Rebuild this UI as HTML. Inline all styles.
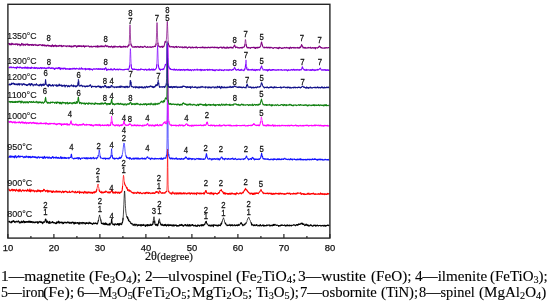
<!DOCTYPE html>
<html><head><meta charset="utf-8"><style>
html,body{margin:0;padding:0;background:#fff;}
#w{position:relative;width:550px;height:303px;overflow:hidden;background:#fff;}
.lg{position:absolute;font-family:"Liberation Serif","DejaVu Serif",serif;font-size:13.8px;color:#000;-webkit-text-stroke:0.12px #000;white-space:pre;line-height:1;transform-origin:0 0;}
.lg sub{font-size:0.68em;vertical-align:-0.23em;line-height:0;}
</style></head><body><div id="w">
<svg width="550" height="265" viewBox="0 0 550 265" style="position:absolute;left:0;top:0"><path d="M8.60,220.96 L8.85,221.74 L9.10,222.11 L9.35,221.91 L9.60,221.19 L9.85,222.21 L10.10,222.15 L10.35,222.14 L10.60,222.19 L10.85,222.48 L11.10,222.96 L11.35,221.47 L11.60,221.76 L11.85,222.57 L12.10,221.05 L12.35,221.71 L12.60,221.31 L12.85,221.65 L13.10,221.82 L13.35,220.56 L13.60,220.90 L13.85,220.82 L14.10,221.43 L14.35,221.41 L14.60,222.48 L14.85,221.61 L15.10,222.62 L15.35,221.64 L15.60,221.86 L15.85,221.78 L16.10,221.67 L16.35,221.14 L16.60,221.89 L16.85,222.02 L17.10,221.97 L17.35,222.08 L17.60,221.33 L17.85,221.51 L18.10,221.27 L18.35,220.81 L18.60,221.83 L18.85,221.46 L19.10,221.87 L19.35,223.08 L19.60,222.11 L19.85,221.97 L20.10,222.52 L20.35,222.73 L20.60,222.90 L20.85,221.80 L21.10,222.80 L21.35,221.82 L21.60,221.12 L21.85,221.33 L22.10,222.47 L22.35,222.46 L22.60,222.58 L22.85,221.42 L23.10,221.54 L23.35,221.05 L23.60,220.70 L23.85,221.86 L24.10,222.86 L24.35,222.58 L24.60,221.63 L24.85,222.47 L25.10,221.70 L25.35,222.11 L25.60,222.38 L25.85,221.70 L26.10,221.46 L26.35,222.23 L26.60,221.85 L26.85,221.67 L27.10,222.26 L27.35,221.91 L27.60,222.10 L27.85,221.51 L28.10,222.25 L28.35,221.48 L28.60,221.57 L28.85,221.00 L29.10,222.52 L29.35,222.16 L29.60,222.15 L29.85,221.10 L30.10,221.95 L30.35,221.89 L30.60,222.55 L30.85,221.26 L31.10,222.19 L31.35,222.57 L31.60,221.46 L31.85,221.95 L32.10,221.46 L32.35,222.03 L32.60,222.34 L32.85,222.83 L33.10,222.21 L33.35,221.74 L33.60,222.35 L33.85,222.20 L34.10,222.65 L34.35,221.93 L34.60,222.81 L34.85,222.31 L35.10,222.32 L35.35,222.65 L35.60,221.86 L35.85,221.84 L36.10,222.37 L36.35,222.12 L36.60,222.13 L36.85,221.90 L37.10,222.01 L37.35,222.74 L37.60,223.20 L37.85,221.64 L38.10,222.95 L38.35,222.76 L38.60,222.90 L38.85,222.31 L39.10,221.77 L39.35,221.96 L39.60,221.55 L39.85,221.20 L40.10,222.05 L40.35,222.32 L40.60,222.08 L40.85,222.18 L41.10,221.44 L41.35,222.67 L41.60,222.20 L41.85,222.27 L42.10,222.57 L42.35,222.13 L42.60,223.68 L42.85,223.15 L43.10,222.97 L43.35,222.31 L43.60,221.83 L43.85,222.32 L44.10,221.76 L44.35,222.12 L44.60,222.07 L44.85,222.11 L45.10,220.79 L45.35,219.31 L45.60,219.08 L45.85,219.11 L46.10,220.13 L46.35,221.20 L46.60,222.65 L46.85,222.15 L47.10,221.72 L47.35,221.03 L47.60,221.57 L47.85,222.41 L48.10,222.75 L48.35,223.21 L48.60,222.09 L48.85,222.65 L49.10,222.93 L49.35,221.36 L49.60,223.39 L49.85,221.83 L50.10,221.75 L50.35,222.85 L50.60,222.76 L50.85,223.13 L51.10,222.86 L51.35,222.61 L51.60,222.32 L51.85,222.03 L52.10,222.57 L52.35,221.42 L52.60,222.26 L52.85,222.78 L53.10,221.94 L53.35,222.90 L53.60,223.06 L53.85,222.56 L54.10,222.43 L54.35,222.81 L54.60,222.85 L54.85,222.54 L55.10,223.69 L55.35,223.53 L55.60,223.25 L55.85,223.42 L56.10,223.22 L56.35,222.03 L56.60,223.71 L56.85,221.93 L57.10,222.47 L57.35,222.00 L57.60,222.84 L57.85,222.85 L58.10,222.52 L58.35,221.08 L58.60,222.82 L58.85,222.62 L59.10,221.58 L59.35,223.24 L59.60,222.55 L59.85,222.20 L60.10,222.74 L60.35,222.37 L60.60,222.76 L60.85,222.38 L61.10,222.03 L61.35,222.00 L61.60,223.00 L61.85,222.70 L62.10,222.21 L62.35,222.23 L62.60,222.29 L62.85,223.79 L63.10,223.03 L63.35,222.90 L63.60,223.47 L63.85,222.37 L64.10,222.03 L64.35,222.37 L64.60,222.76 L64.85,222.60 L65.10,222.54 L65.35,222.76 L65.60,222.43 L65.85,222.17 L66.10,223.05 L66.35,222.63 L66.60,222.61 L66.85,223.04 L67.10,222.95 L67.35,222.15 L67.60,222.21 L67.85,221.90 L68.10,222.07 L68.35,222.84 L68.60,222.49 L68.85,222.18 L69.10,222.12 L69.35,223.37 L69.60,222.70 L69.85,222.92 L70.10,222.74 L70.35,222.35 L70.60,223.02 L70.85,223.03 L71.10,223.60 L71.35,223.18 L71.60,222.23 L71.85,222.71 L72.10,222.80 L72.35,222.75 L72.60,222.11 L72.85,221.91 L73.10,222.74 L73.35,223.00 L73.60,222.42 L73.85,223.87 L74.10,223.36 L74.35,222.85 L74.60,223.89 L74.85,222.21 L75.10,222.24 L75.35,222.40 L75.60,223.47 L75.85,222.70 L76.10,223.34 L76.35,223.13 L76.60,222.71 L76.85,222.95 L77.10,222.44 L77.35,223.31 L77.60,222.50 L77.85,222.54 L78.10,223.31 L78.35,222.96 L78.60,224.10 L78.85,223.80 L79.10,222.29 L79.35,223.03 L79.60,223.15 L79.85,224.17 L80.10,222.90 L80.35,222.72 L80.60,222.94 L80.85,222.93 L81.10,222.64 L81.35,223.16 L81.60,222.81 L81.85,222.75 L82.10,223.90 L82.35,223.26 L82.60,222.52 L82.85,222.34 L83.10,222.82 L83.35,222.41 L83.60,222.49 L83.85,223.67 L84.10,223.15 L84.35,222.90 L84.60,223.23 L84.85,222.93 L85.10,223.34 L85.35,224.17 L85.60,223.29 L85.85,222.84 L86.10,222.65 L86.35,223.49 L86.60,223.23 L86.85,223.35 L87.10,222.42 L87.35,222.97 L87.60,223.33 L87.85,223.58 L88.10,223.44 L88.35,223.25 L88.60,223.94 L88.85,223.24 L89.10,222.14 L89.35,222.51 L89.60,223.22 L89.85,223.35 L90.10,222.57 L90.35,222.65 L90.60,223.48 L90.85,223.55 L91.10,223.63 L91.35,223.79 L91.60,223.43 L91.85,223.09 L92.10,224.10 L92.35,224.17 L92.60,224.44 L92.85,223.83 L93.10,223.60 L93.35,223.65 L93.60,223.57 L93.85,222.58 L94.10,223.31 L94.35,223.37 L94.60,223.73 L94.85,223.70 L95.10,223.36 L95.35,223.19 L95.60,222.82 L95.85,223.53 L96.10,223.23 L96.35,223.30 L96.60,224.00 L96.85,223.93 L97.10,223.26 L97.35,223.99 L97.60,223.33 L97.85,222.47 L98.10,221.32 L98.35,220.48 L98.60,220.03 M100.60,219.32 L100.85,220.36 L101.10,221.39 L101.35,223.53 L101.60,223.18 L101.85,223.25 L102.10,223.90 L102.35,223.89 L102.60,223.29 L102.85,223.05 L103.10,222.78 L103.35,224.18 L103.60,223.87 L103.85,224.37 L104.10,223.94 L104.35,223.25 L104.60,223.71 L104.85,224.73 L105.10,223.88 L105.35,224.16 L105.60,222.88 L105.85,223.64 L106.10,224.49 L106.35,223.34 L106.60,224.60 L106.85,224.00 L107.10,223.99 L107.35,224.93 L107.60,224.18 L107.85,224.81 L108.10,224.22 L108.35,224.57 L108.60,224.98 L108.85,224.97 L109.10,224.17 L109.35,223.30 L109.60,225.08 L109.85,224.26 L110.10,224.89 L110.35,223.90 L110.60,223.84 L110.85,223.70 L111.10,222.72 L111.35,221.64 L111.60,218.73 L111.85,220.38 L112.10,222.74 L112.35,223.93 L112.60,224.17 L112.85,224.44 L113.10,224.84 L113.35,224.13 L113.60,224.09 L113.85,224.38 L114.10,224.69 L114.35,223.88 L114.60,225.29 L114.85,224.35 L115.10,224.08 L115.35,224.16 L115.60,223.80 L115.85,223.87 L116.10,224.23 L116.35,224.68 L116.60,224.79 L116.85,224.23 L117.10,224.24 L117.35,224.46 L117.60,223.41 L117.85,224.19 L118.10,224.94 L118.35,225.18 L118.60,224.17 L118.85,223.48 L119.10,223.87 L119.35,224.87 L119.60,225.19 L119.85,223.99 L120.10,223.22 L120.35,223.93 L120.60,224.27 L120.85,224.22 L121.10,223.96 L121.35,224.66 L121.60,223.51 L121.85,224.27 L122.10,222.26 L122.35,222.76 L122.60,221.97 L122.85,220.51 L123.10,217.80 M126.85,215.97 L127.10,217.35 L127.35,217.26 L127.60,218.53 L127.85,217.48 L128.10,218.91 L128.35,220.26 L128.60,220.69 L128.85,219.86 L129.10,221.08 L129.35,221.47 L129.60,221.68 L129.85,221.55 L130.10,221.62 L130.35,222.41 L130.60,223.02 L130.85,223.53 L131.10,223.29 L131.35,223.22 L131.60,224.04 L131.85,223.31 L132.10,223.65 L132.35,223.87 L132.60,224.29 L132.85,224.60 L133.10,225.47 L133.35,224.98 L133.60,225.01 L133.85,224.36 L134.10,224.01 L134.35,224.34 L134.60,224.50 L134.85,225.75 L135.10,225.60 L135.35,225.23 L135.60,224.67 L135.85,224.09 L136.10,224.49 L136.35,224.41 L136.60,224.41 L136.85,225.08 L137.10,225.85 L137.35,225.95 L137.60,224.89 L137.85,224.92 L138.10,225.00 L138.35,224.66 L138.60,225.55 L138.85,225.26 L139.10,225.04 L139.35,225.18 L139.60,224.74 L139.85,224.89 L140.10,225.63 L140.35,225.54 L140.60,225.03 L140.85,224.45 L141.10,226.16 L141.35,225.44 L141.60,225.46 L141.85,224.64 L142.10,225.30 L142.35,225.39 L142.60,225.32 L142.85,225.55 L143.10,224.36 L143.35,225.54 L143.60,224.94 L143.85,224.82 L144.10,225.08 L144.35,225.32 L144.60,225.20 L144.85,224.97 L145.10,225.55 L145.35,226.58 L145.60,225.60 L145.85,225.06 L146.10,225.75 L146.35,225.59 L146.60,224.88 L146.85,225.61 L147.10,224.57 L147.35,225.41 L147.60,226.00 L147.85,224.64 L148.10,224.79 L148.35,224.80 L148.60,225.69 L148.85,224.86 L149.10,225.06 L149.35,225.37 L149.60,225.65 L149.85,225.44 L150.10,224.55 L150.35,224.09 L150.60,225.39 L150.85,225.14 L151.10,225.26 L151.35,224.70 L151.60,224.95 L151.85,225.43 L152.10,224.13 L152.35,224.37 L152.60,223.74 L152.85,224.52 L153.10,223.14 L153.35,220.85 M154.60,220.63 L154.85,223.15 L155.10,224.54 L155.35,224.19 L155.60,225.05 L155.85,225.40 L156.10,224.17 L156.35,224.35 L156.60,224.22 L156.85,225.11 L157.10,225.66 L157.35,224.20 L157.60,224.76 L157.85,225.73 L158.10,224.01 L158.35,223.69 L158.60,222.51 L158.85,220.50 M159.85,221.95 L160.10,222.89 L160.35,223.40 L160.60,224.10 L160.85,224.81 L161.10,224.97 L161.35,224.33 L161.60,225.26 L161.85,224.40 L162.10,224.11 L162.35,224.85 L162.60,225.31 L162.85,225.55 L163.10,224.64 L163.35,224.98 L163.60,225.64 L163.85,225.29 L164.10,225.77 L164.35,225.49 L164.60,224.49 L164.85,224.80 L165.10,225.45 L165.35,224.18 L165.60,225.48 L165.85,225.16 L166.10,224.95 L166.35,226.22 L166.60,224.93 L166.85,224.88 L167.10,225.06 L167.35,225.12 L167.60,225.53 L167.85,225.35 L168.10,224.23 L168.35,225.75 L168.60,225.92 L168.85,225.82 L169.10,225.48 L169.35,224.64 L169.60,225.53 L169.85,225.06 L170.10,224.76 L170.35,225.29 L170.60,225.55 L170.85,224.80 L171.10,224.77 L171.35,225.58 L171.60,225.79 L171.85,225.12 L172.10,225.37 L172.35,225.40 L172.60,225.96 L172.85,225.42 L173.10,224.43 L173.35,224.89 L173.60,225.93 L173.85,226.11 L174.10,226.01 L174.35,225.25 L174.60,224.94 L174.85,225.60 L175.10,225.30 L175.35,225.16 L175.60,225.01 L175.85,225.40 L176.10,224.91 L176.35,225.21 L176.60,226.23 L176.85,225.49 L177.10,225.93 L177.35,225.54 L177.60,225.56 L177.85,225.58 L178.10,226.42 L178.35,225.67 L178.60,225.51 L178.85,225.42 L179.10,225.20 L179.35,225.84 L179.60,224.96 L179.85,224.61 L180.10,225.42 L180.35,225.52 L180.60,224.85 L180.85,225.42 L181.10,225.28 L181.35,224.49 L181.60,224.30 L181.85,225.41 L182.10,225.44 L182.35,225.68 L182.60,224.86 L182.85,225.85 L183.10,225.52 L183.35,225.71 L183.60,226.31 L183.85,225.47 L184.10,225.27 L184.35,225.09 L184.60,224.68 L184.85,225.18 L185.10,224.64 L185.35,224.70 L185.60,224.53 L185.85,225.64 L186.10,225.46 L186.35,225.92 L186.60,225.18 L186.85,225.14 L187.10,224.99 L187.35,225.02 L187.60,225.99 L187.85,224.28 L188.10,225.90 L188.35,225.99 L188.60,225.27 L188.85,225.54 L189.10,226.14 L189.35,225.39 L189.60,224.42 L189.85,225.05 L190.10,225.91 L190.35,225.11 L190.60,225.90 L190.85,225.33 L191.10,225.70 L191.35,225.18 L191.60,225.06 L191.85,225.11 L192.10,224.46 L192.35,225.44 L192.60,224.46 L192.85,225.21 L193.10,224.93 L193.35,225.60 L193.60,226.03 L193.85,225.49 L194.10,225.31 L194.35,225.57 L194.60,225.71 L194.85,225.83 L195.10,225.33 L195.35,225.89 L195.60,225.02 L195.85,225.43 L196.10,226.46 L196.35,225.71 L196.60,225.82 L196.85,225.69 L197.10,225.72 L197.35,226.36 L197.60,225.49 L197.85,224.73 L198.10,225.27 L198.35,225.49 L198.60,225.16 L198.85,225.21 L199.10,226.01 L199.35,225.85 L199.60,226.21 L199.85,225.58 L200.10,224.93 L200.35,225.24 L200.60,225.25 L200.85,225.28 L201.10,225.63 L201.35,224.62 L201.60,225.30 L201.85,226.01 L202.10,224.97 L202.35,225.61 L202.60,225.28 L202.85,224.49 L203.10,224.82 L203.35,225.73 L203.60,224.90 L203.85,225.01 L204.10,224.76 L204.35,224.16 L204.60,224.80 L204.85,224.36 L205.10,223.57 L205.35,222.69 L205.60,221.83 L205.85,221.51 L206.10,222.15 L206.35,221.35 L206.60,223.01 L206.85,223.46 L207.10,223.98 L207.35,224.17 L207.60,224.05 L207.85,224.35 L208.10,224.89 L208.35,225.36 L208.60,225.78 L208.85,225.46 L209.10,225.48 L209.35,225.02 L209.60,225.69 L209.85,225.71 L210.10,226.24 L210.35,225.90 L210.60,225.38 L210.85,224.97 L211.10,225.98 L211.35,225.09 L211.60,225.55 L211.85,225.92 L212.10,225.76 L212.35,224.92 L212.60,224.97 L212.85,225.90 L213.10,225.95 L213.35,226.77 L213.60,225.13 L213.85,224.56 L214.10,224.73 L214.35,224.92 L214.60,225.18 L214.85,225.51 L215.10,225.52 L215.35,225.22 L215.60,225.03 L215.85,225.42 L216.10,225.20 L216.35,225.72 L216.60,225.21 L216.85,225.11 L217.10,225.88 L217.35,225.99 L217.60,226.02 L217.85,225.01 L218.10,225.72 L218.35,225.92 L218.60,225.34 L218.85,224.78 L219.10,225.07 L219.35,225.37 L219.60,225.14 L219.85,225.08 L220.10,225.41 L220.35,225.73 L220.60,225.29 L220.85,223.91 L221.10,223.30 L221.35,224.27 L221.60,223.73 L221.85,222.34 M224.85,222.75 L225.10,223.10 L225.35,223.53 L225.60,222.94 L225.85,224.12 L226.10,224.69 L226.35,224.75 L226.60,224.99 L226.85,225.28 L227.10,225.76 L227.35,225.59 L227.60,225.00 L227.85,225.57 L228.10,225.05 L228.35,225.29 L228.60,225.39 L228.85,225.25 L229.10,225.20 L229.35,225.41 L229.60,225.32 L229.85,224.26 L230.10,225.10 L230.35,225.05 L230.60,225.96 L230.85,225.45 L231.10,225.06 L231.35,225.52 L231.60,225.47 L231.85,225.49 L232.10,224.48 L232.35,225.04 L232.60,225.00 L232.85,225.98 L233.10,225.76 L233.35,225.30 L233.60,225.30 L233.85,225.29 L234.10,225.09 L234.35,224.85 L234.60,224.81 L234.85,225.72 L235.10,225.00 L235.35,225.52 L235.60,225.76 L235.85,225.62 L236.10,225.37 L236.35,225.54 L236.60,225.04 L236.85,224.90 L237.10,225.67 L237.35,225.66 L237.60,225.79 L237.85,225.21 L238.10,224.36 L238.35,224.85 L238.60,224.87 L238.85,225.42 L239.10,224.70 L239.35,225.18 L239.60,224.77 L239.85,224.48 L240.10,224.17 L240.35,223.88 L240.60,222.97 L240.85,223.49 L241.10,222.42 L241.35,222.81 L241.60,223.21 L241.85,224.08 L242.10,223.93 L242.35,225.05 L242.60,224.41 L242.85,225.82 L243.10,225.26 L243.35,225.25 L243.60,225.07 L243.85,225.15 L244.10,224.40 L244.35,224.07 L244.60,224.87 L244.85,224.71 L245.10,224.14 L245.35,223.83 L245.60,223.58 L245.85,223.40 L246.10,223.23 L246.35,222.28 M250.85,222.29 L251.10,222.83 L251.35,223.55 L251.60,225.10 L251.85,223.87 L252.10,224.36 L252.35,224.89 L252.60,225.17 L252.85,224.78 L253.10,224.96 L253.35,224.96 L253.60,225.82 L253.85,224.93 L254.10,225.16 L254.35,224.88 L254.60,225.41 L254.85,225.03 L255.10,225.82 L255.35,225.09 L255.60,225.19 L255.85,225.26 L256.10,225.39 L256.35,224.97 L256.60,224.45 L256.85,224.44 L257.10,225.20 L257.35,225.85 L257.60,225.90 L257.85,225.67 L258.10,225.82 L258.35,225.43 L258.60,225.37 L258.85,225.69 L259.10,226.09 L259.35,226.10 L259.60,225.61 L259.85,224.87 L260.10,225.00 L260.35,224.47 L260.60,225.76 L260.85,225.55 L261.10,226.07 L261.35,226.07 L261.60,225.49 L261.85,225.73 L262.10,225.40 L262.35,224.88 L262.60,225.59 L262.85,225.59 L263.10,225.66 L263.35,226.11 L263.60,225.10 L263.85,224.85 L264.10,225.85 L264.35,226.06 L264.60,225.82 L264.85,225.58 L265.10,225.63 L265.35,225.62 L265.60,225.55 L265.85,225.45 L266.10,225.96 L266.35,225.27 L266.60,224.93 L266.85,225.40 L267.10,225.16 L267.35,225.12 L267.60,225.62 L267.85,224.99 L268.10,225.00 L268.35,225.14 L268.60,225.07 L268.85,225.25 L269.10,225.25 L269.35,224.87 L269.60,224.96 L269.85,226.25 L270.10,225.63 L270.35,225.33 L270.60,225.65 L270.85,225.56 L271.10,225.48 L271.35,225.26 L271.60,225.25 L271.85,225.27 L272.10,225.99 L272.35,225.30 L272.60,225.46 L272.85,225.35 L273.10,224.49 L273.35,225.46 L273.60,225.08 L273.85,224.31 L274.10,225.42 L274.35,225.28 L274.60,224.89 L274.85,224.44 L275.10,224.32 L275.35,224.62 L275.60,224.65 L275.85,225.26 L276.10,225.29 L276.35,225.48 L276.60,225.20 L276.85,225.08 L277.10,225.09 L277.35,225.13 L277.60,225.25 L277.85,225.49 L278.10,225.48 L278.35,225.53 L278.60,226.40 L278.85,225.62 L279.10,225.58 L279.35,225.45 L279.60,225.90 L279.85,225.88 L280.10,225.61 L280.35,225.94 L280.60,225.73 L280.85,224.94 L281.10,224.88 L281.35,225.06 L281.60,225.46 L281.85,225.12 L282.10,224.79 L282.35,225.17 L282.60,225.44 L282.85,225.46 L283.10,225.53 L283.35,225.44 L283.60,225.54 L283.85,225.38 L284.10,225.10 L284.35,224.91 L284.60,225.42 L284.85,225.66 L285.10,225.24 L285.35,225.27 L285.60,225.86 L285.85,226.27 L286.10,226.11 L286.35,225.30 L286.60,225.15 L286.85,225.34 L287.10,225.55 L287.35,225.53 L287.60,224.83 L287.85,225.93 L288.10,225.86 L288.35,225.37 L288.60,225.63 L288.85,225.24 L289.10,225.49 L289.35,225.98 L289.60,225.00 L289.85,225.17 L290.10,225.23 L290.35,225.32 L290.60,225.55 L290.85,225.52 L291.10,226.11 L291.35,225.22 L291.60,225.68 L291.85,225.35 L292.10,225.57 L292.35,225.38 L292.60,225.27 L292.85,225.16 L293.10,225.22 L293.35,224.95 L293.60,224.99 L293.85,224.45 L294.10,225.09 L294.35,224.97 L294.60,225.13 L294.85,225.01 L295.10,225.64 L295.35,225.22 L295.60,225.21 L295.85,225.61 L296.10,224.81 L296.35,225.03 L296.60,224.48 L296.85,224.53 L297.10,224.64 L297.35,225.43 L297.60,224.58 L297.85,224.92 L298.10,224.86 L298.35,225.02 L298.60,224.26 L298.85,223.65 L299.10,223.67 L299.35,224.56 L299.60,224.30 L299.85,224.51 L300.10,224.44 L300.35,223.88 L300.60,223.66 L300.85,223.76 L301.10,223.11 L301.35,223.43 L301.60,223.67 L301.85,223.94 L302.10,223.09 L302.35,223.17 L302.60,224.40 L302.85,224.37 L303.10,224.06 L303.35,224.11 L303.60,224.33 L303.85,223.88 L304.10,224.29 L304.35,225.13 L304.60,225.34 L304.85,225.61 L305.10,225.30 L305.35,225.47 L305.60,224.54 L305.85,224.41 L306.10,223.93 L306.35,224.45 L306.60,224.51 L306.85,225.50 L307.10,225.57 L307.35,224.77 L307.60,224.72 L307.85,225.75 L308.10,225.89 L308.35,225.02 L308.60,225.54 L308.85,226.02 L309.10,225.71 L309.35,226.08 L309.60,225.59 L309.85,225.55 L310.10,225.24 L310.35,224.62 L310.60,225.13 L310.85,225.13 L311.10,225.79 L311.35,225.00 L311.60,225.39 L311.85,225.55 L312.10,225.74 L312.35,225.67 L312.60,226.35 L312.85,225.83 L313.10,225.65 L313.35,225.67 L313.60,225.85 L313.85,224.95 L314.10,225.17 L314.35,225.48 L314.60,225.25 L314.85,225.46 L315.10,224.94 L315.35,226.20 L315.60,225.76 L315.85,225.55 L316.10,225.21 L316.35,225.86 L316.60,225.92 L316.85,225.41 L317.10,225.44 L317.35,225.02 L317.60,225.58 L317.85,225.65 L318.10,225.99 L318.35,225.86 L318.60,226.04 L318.85,225.58 L319.10,225.63 L319.35,225.51 L319.60,225.53 L319.85,225.32 L320.10,225.47 L320.35,225.40 L320.60,225.97 L320.85,225.78 L321.10,225.64 L321.35,225.48 L321.60,225.95 L321.85,225.69 L322.10,225.76 L322.35,225.44 L322.60,225.64 L322.85,225.31 L323.10,225.28 L323.35,225.41 L323.60,226.18 L323.85,225.77 L324.10,226.08 L324.35,225.32 L324.60,225.64 L324.85,225.40 L325.10,225.75 L325.35,226.26 L325.60,226.17 L325.85,225.38 L326.10,225.86 L326.35,225.92 L326.60,225.54 L326.85,225.38 L327.10,225.24 L327.35,225.54 L327.60,225.07 L327.85,225.43 L328.10,225.57 L328.35,225.26 L328.60,225.14 L328.85,225.79 L329.10,225.47 L329.35,224.99" fill="none" stroke="#000000" stroke-width="1.05" stroke-linejoin="round"/><path d="M98.35,220.48 L98.60,220.03 L98.85,217.42 L99.10,217.51 L99.35,215.89 L99.60,214.91 L99.85,216.30 L100.10,216.90 L100.35,217.65 L100.60,219.32 L100.85,220.36 M122.85,220.51 L123.10,217.80 L123.35,214.90 L123.60,209.99 L123.85,204.65 L124.10,198.33 L124.35,193.17 L124.50,190.97 L124.60,191.07 L124.85,193.55 L125.10,199.59 L125.30,203.42 L125.35,205.25 L125.60,208.72 L125.85,212.01 L126.10,213.59 L126.35,214.97 L126.60,215.70 L126.85,215.97 L127.10,217.35 M153.10,223.14 L153.35,220.85 L153.60,218.31 L153.85,217.04 L154.00,216.71 L154.10,216.85 L154.35,219.25 L154.60,220.63 L154.85,223.15 M158.60,222.51 L158.85,220.50 L159.10,219.60 L159.30,218.91 L159.35,218.68 L159.60,219.66 L159.85,221.95 L160.10,222.89 M221.60,223.73 L221.85,222.34 L222.10,221.01 L222.35,221.38 L222.60,219.86 L222.85,218.91 L223.10,218.62 L223.35,218.44 L223.40,217.73 L223.60,217.96 L223.85,218.96 L224.10,219.65 L224.35,219.97 L224.60,222.31 L224.85,222.75 L225.10,223.10 M246.10,223.23 L246.35,222.28 L246.60,221.97 L246.85,221.67 L247.10,220.49 L247.35,220.00 L247.60,218.88 L247.85,218.46 L248.10,217.92 L248.35,218.10 L248.60,217.37 L248.85,217.15 L249.10,217.99 L249.35,218.35 L249.60,219.67 L249.85,220.02 L250.10,220.28 L250.35,220.69 L250.60,221.75 L250.85,222.29 L251.10,222.83" fill="none" stroke="#000000" stroke-width="0.7" stroke-linejoin="round"/><path d="M8.60,189.44 L8.85,188.91 L9.10,190.25 L9.35,190.44 L9.60,189.94 L9.85,190.33 L10.10,191.06 L10.35,190.79 L10.60,190.56 L10.85,190.43 L11.10,189.74 L11.35,190.44 L11.60,189.27 L11.85,189.80 L12.10,189.75 L12.35,189.18 L12.60,190.08 L12.85,190.99 L13.10,190.01 L13.35,189.50 L13.60,190.10 L13.85,190.64 L14.10,190.35 L14.35,190.12 L14.60,189.50 L14.85,190.42 L15.10,190.61 L15.35,191.08 L15.60,191.17 L15.85,190.61 L16.10,189.34 L16.35,189.33 L16.60,189.62 L16.85,190.32 L17.10,189.99 L17.35,190.96 L17.60,190.55 L17.85,190.58 L18.10,190.77 L18.35,190.48 L18.60,189.79 L18.85,191.65 L19.10,191.40 L19.35,191.23 L19.60,189.97 L19.85,189.27 L20.10,189.42 L20.35,189.81 L20.60,190.87 L20.85,191.06 L21.10,191.40 L21.35,191.70 L21.60,190.89 L21.85,190.66 L22.10,190.28 L22.35,190.20 L22.60,189.89 L22.85,190.71 L23.10,190.68 L23.35,190.27 L23.60,190.10 L23.85,190.80 L24.10,191.26 L24.35,190.70 L24.60,190.68 L24.85,190.28 L25.10,190.39 L25.35,190.38 L25.60,190.38 L25.85,190.30 L26.10,190.86 L26.35,191.26 L26.60,190.31 L26.85,191.28 L27.10,190.50 L27.35,190.29 L27.60,189.35 L27.85,189.31 L28.10,190.83 L28.35,190.22 L28.60,191.05 L28.85,190.80 L29.10,190.94 L29.35,191.43 L29.60,190.57 L29.85,188.92 L30.10,189.69 L30.35,191.28 L30.60,191.86 L30.85,190.81 L31.10,190.32 L31.35,190.06 L31.60,190.88 L31.85,189.83 L32.10,190.06 L32.35,190.82 L32.60,190.88 L32.85,190.78 L33.10,191.31 L33.35,190.21 L33.60,190.14 L33.85,190.59 L34.10,190.87 L34.35,190.85 L34.60,191.87 L34.85,190.77 L35.10,191.17 L35.35,190.69 L35.60,191.03 L35.85,190.71 L36.10,190.82 L36.35,191.75 L36.60,191.01 L36.85,191.79 L37.10,190.68 L37.35,190.77 L37.60,191.38 L37.85,189.69 L38.10,189.99 L38.35,190.95 L38.60,191.31 L38.85,191.34 L39.10,190.82 L39.35,190.34 L39.60,191.42 L39.85,191.27 L40.10,190.51 L40.35,191.16 L40.60,192.02 L40.85,191.18 L41.10,190.43 L41.35,190.74 L41.60,190.86 L41.85,191.25 L42.10,191.44 L42.35,190.47 L42.60,190.51 L42.85,191.22 L43.10,191.01 L43.35,190.87 L43.60,189.21 L43.85,189.24 L44.10,190.15 L44.35,189.52 L44.60,190.30 L44.85,190.42 L45.10,190.43 L45.35,191.62 L45.60,191.09 L45.85,190.85 L46.10,191.08 L46.35,191.23 L46.60,190.39 L46.85,190.63 L47.10,190.43 L47.35,190.19 L47.60,191.78 L47.85,192.22 L48.10,191.94 L48.35,190.54 L48.60,191.50 L48.85,191.72 L49.10,191.19 L49.35,191.71 L49.60,190.82 L49.85,190.74 L50.10,190.88 L50.35,190.95 L50.60,190.94 L50.85,191.82 L51.10,190.95 L51.35,191.13 L51.60,191.27 L51.85,192.53 L52.10,191.22 L52.35,191.82 L52.60,192.42 L52.85,190.99 L53.10,191.02 L53.35,191.24 L53.60,190.94 L53.85,192.08 L54.10,191.48 L54.35,192.13 L54.60,191.94 L54.85,191.71 L55.10,192.09 L55.35,191.60 L55.60,192.07 L55.85,190.99 L56.10,191.26 L56.35,192.09 L56.60,190.71 L56.85,191.76 L57.10,191.47 L57.35,191.35 L57.60,191.40 L57.85,192.23 L58.10,191.08 L58.35,192.09 L58.60,192.01 L58.85,191.56 L59.10,191.73 L59.35,192.08 L59.60,191.42 L59.85,191.00 L60.10,191.79 L60.35,191.36 L60.60,191.55 L60.85,191.86 L61.10,192.31 L61.35,192.81 L61.60,192.12 L61.85,191.97 L62.10,192.28 L62.35,191.94 L62.60,190.99 L62.85,191.37 L63.10,191.25 L63.35,192.23 L63.60,192.58 L63.85,192.08 L64.10,191.45 L64.35,192.18 L64.60,191.49 L64.85,191.90 L65.10,191.25 L65.35,191.07 L65.60,191.14 L65.85,191.82 L66.10,191.64 L66.35,192.04 L66.60,191.36 L66.85,192.09 L67.10,191.77 L67.35,192.62 L67.60,192.55 L67.85,191.95 L68.10,192.05 L68.35,192.15 L68.60,192.23 L68.85,191.97 L69.10,192.51 L69.35,191.72 L69.60,191.05 L69.85,192.03 L70.10,192.05 L70.35,192.49 L70.60,192.41 L70.85,192.17 L71.10,192.13 L71.35,192.10 L71.60,191.68 L71.85,191.39 L72.10,191.60 L72.35,191.86 L72.60,190.94 L72.85,191.69 L73.10,191.59 L73.35,191.96 L73.60,191.72 L73.85,192.10 L74.10,192.11 L74.35,192.75 L74.60,192.04 L74.85,192.02 L75.10,192.05 L75.35,191.20 L75.60,191.62 L75.85,192.86 L76.10,192.54 L76.35,192.33 L76.60,192.73 L76.85,192.17 L77.10,192.06 L77.35,191.94 L77.60,191.38 L77.85,192.57 L78.10,192.19 L78.35,192.16 L78.60,192.04 L78.85,191.78 L79.10,191.11 L79.35,192.33 L79.60,193.41 L79.85,192.88 L80.10,192.14 L80.35,191.82 L80.60,192.27 L80.85,192.47 L81.10,192.32 L81.35,192.65 L81.60,191.96 L81.85,192.80 L82.10,192.43 L82.35,192.05 L82.60,192.19 L82.85,192.54 L83.10,192.75 L83.35,192.47 L83.60,192.80 L83.85,193.48 L84.10,191.59 L84.35,191.30 L84.60,192.24 L84.85,191.92 L85.10,192.29 L85.35,191.62 L85.60,192.45 L85.85,193.12 L86.10,192.97 L86.35,191.93 L86.60,192.26 L86.85,192.95 L87.10,193.32 L87.35,192.03 L87.60,192.03 L87.85,192.91 L88.10,192.28 L88.35,191.99 L88.60,192.80 L88.85,191.66 L89.10,192.09 L89.35,192.86 L89.60,192.27 L89.85,192.73 L90.10,191.97 L90.35,192.81 L90.60,192.85 L90.85,193.28 L91.10,192.44 L91.35,192.29 L91.60,192.47 L91.85,192.93 L92.10,192.17 L92.35,192.47 L92.60,193.45 L92.85,193.00 L93.10,192.81 L93.35,192.28 L93.60,192.74 L93.85,191.80 L94.10,191.53 L94.35,191.90 L94.60,192.96 L94.85,192.39 L95.10,191.75 L95.35,191.93 L95.60,192.26 L95.85,192.29 L96.10,190.84 L96.35,191.60 L96.60,190.79 L96.85,189.06 M99.10,189.53 L99.35,190.92 L99.60,191.41 L99.85,191.03 L100.10,191.71 L100.35,192.12 L100.60,192.53 L100.85,192.08 L101.10,192.53 L101.35,192.63 L101.60,192.98 L101.85,191.32 L102.10,192.41 L102.35,192.74 L102.60,192.89 L102.85,192.54 L103.10,192.20 L103.35,192.85 L103.60,192.71 L103.85,192.06 L104.10,191.80 L104.35,192.52 L104.60,191.90 L104.85,192.38 L105.10,192.52 L105.35,191.59 L105.60,191.16 L105.85,190.94 L106.10,191.51 L106.35,191.74 L106.60,191.50 L106.85,192.06 L107.10,192.05 L107.35,192.07 L107.60,192.75 L107.85,192.47 L108.10,192.08 L108.35,191.92 L108.60,192.97 L108.85,192.19 L109.10,192.06 L109.35,192.52 L109.60,192.89 L109.85,191.91 L110.10,192.85 L110.35,192.73 L110.60,191.85 L110.85,191.56 L111.10,191.39 L111.35,191.02 L111.60,189.33 L111.85,190.69 L112.10,191.85 L112.35,191.50 L112.60,192.45 L112.85,193.04 L113.10,192.55 L113.35,193.17 L113.60,192.18 L113.85,191.93 L114.10,192.47 L114.35,192.99 L114.60,192.64 L114.85,193.06 L115.10,192.03 L115.35,192.45 L115.60,193.20 L115.85,191.67 L116.10,192.67 L116.35,192.27 L116.60,192.29 L116.85,192.42 L117.10,192.03 L117.35,193.06 L117.60,193.07 L117.85,193.27 L118.10,192.73 L118.35,192.22 L118.60,192.76 L118.85,191.92 L119.10,192.15 L119.35,193.49 L119.60,193.11 L119.85,192.76 L120.10,193.05 L120.35,192.25 L120.60,192.39 L120.85,191.69 L121.10,191.70 L121.35,191.80 L121.60,192.07 L121.85,190.78 L122.10,190.69 L122.35,188.92 L122.60,185.89 M124.35,182.27 L124.60,183.37 L124.85,184.96 L125.10,184.93 L125.35,184.99 L125.60,185.60 L125.85,186.13 L126.10,186.75 L126.35,187.36 L126.60,187.76 L126.85,188.67 L127.10,187.49 L127.35,188.80 L127.60,190.54 L127.85,189.75 L128.10,189.54 L128.35,189.98 L128.60,190.09 L128.85,190.49 L129.10,191.34 L129.35,189.96 L129.60,190.13 L129.85,191.05 L130.10,190.73 L130.35,190.84 L130.60,190.87 L130.85,191.65 L131.10,191.25 L131.35,192.28 L131.60,192.22 L131.85,192.20 L132.10,192.24 L132.35,192.98 L132.60,192.82 L132.85,192.54 L133.10,192.71 L133.35,192.37 L133.60,193.41 L133.85,193.60 L134.10,193.47 L134.35,193.09 L134.60,193.06 L134.85,192.28 L135.10,192.65 L135.35,192.78 L135.60,192.90 L135.85,193.21 L136.10,192.75 L136.35,192.67 L136.60,193.47 L136.85,192.87 L137.10,192.56 L137.35,191.95 L137.60,192.25 L137.85,192.84 L138.10,193.02 L138.35,192.22 L138.60,192.93 L138.85,193.15 L139.10,192.83 L139.35,193.12 L139.60,193.65 L139.85,192.69 L140.10,192.21 L140.35,192.73 L140.60,192.63 L140.85,193.03 L141.10,193.43 L141.35,193.54 L141.60,193.35 L141.85,193.76 L142.10,193.39 L142.35,193.59 L142.60,193.32 L142.85,193.21 L143.10,192.88 L143.35,193.04 L143.60,192.82 L143.85,192.94 L144.10,193.19 L144.35,193.62 L144.60,193.10 L144.85,193.31 L145.10,192.57 L145.35,192.99 L145.60,193.70 L145.85,193.25 L146.10,192.32 L146.35,193.00 L146.60,192.95 L146.85,192.48 L147.10,192.22 L147.35,192.55 L147.60,192.64 L147.85,193.44 L148.10,193.48 L148.35,193.53 L148.60,193.55 L148.85,192.21 L149.10,192.92 L149.35,193.25 L149.60,192.83 L149.85,192.79 L150.10,192.77 L150.35,193.18 L150.60,193.21 L150.85,193.73 L151.10,193.42 L151.35,193.28 L151.60,193.12 L151.85,192.81 L152.10,193.22 L152.35,193.56 L152.60,193.36 L152.85,192.62 L153.10,192.45 L153.35,193.39 L153.60,193.28 L153.85,193.23 L154.10,192.80 L154.35,193.44 L154.60,193.45 L154.85,193.03 L155.10,193.22 L155.35,192.56 L155.60,192.59 L155.85,191.59 L156.10,191.95 L156.35,192.57 L156.60,191.42 L156.85,191.53 L157.10,191.42 L157.35,191.82 L157.60,192.29 L157.85,192.42 L158.10,192.96 L158.35,192.40 L158.60,192.66 L158.85,193.61 L159.10,191.94 L159.35,190.85 L159.60,191.17 L159.85,191.23 L160.10,191.45 L160.35,191.68 L160.60,192.46 L160.85,192.67 L161.10,193.03 L161.35,193.26 L161.60,193.21 L161.85,192.76 L162.10,193.35 L162.35,193.29 L162.60,192.55 L162.85,193.23 L163.10,193.17 L163.35,193.27 L163.60,192.67 L163.85,192.92 L164.10,192.93 L164.35,192.57 L164.60,193.22 L164.85,192.96 L165.10,193.09 L165.35,192.42 L165.60,192.09 L165.85,191.98 L166.10,191.40 L166.35,191.69 L166.60,191.73 L166.85,190.80 M168.35,190.57 L168.60,191.75 L168.85,191.07 L169.10,192.46 L169.35,192.80 L169.60,193.04 L169.85,192.74 L170.10,192.68 L170.35,192.89 L170.60,193.49 L170.85,193.52 L171.10,193.84 L171.35,192.82 L171.60,193.80 L171.85,194.14 L172.10,192.99 L172.35,193.20 L172.60,192.44 L172.85,191.90 L173.10,192.55 L173.35,193.27 L173.60,193.40 L173.85,193.20 L174.10,193.62 L174.35,193.64 L174.60,194.13 L174.85,192.77 L175.10,192.84 L175.35,193.00 L175.60,193.00 L175.85,193.24 L176.10,194.39 L176.35,193.37 L176.60,193.56 L176.85,192.73 L177.10,193.03 L177.35,193.78 L177.60,193.79 L177.85,192.83 L178.10,194.27 L178.35,193.66 L178.60,193.10 L178.85,193.53 L179.10,193.06 L179.35,192.72 L179.60,193.46 L179.85,193.86 L180.10,193.85 L180.35,192.67 L180.60,192.88 L180.85,193.34 L181.10,193.96 L181.35,194.06 L181.60,193.25 L181.85,192.89 L182.10,193.59 L182.35,193.27 L182.60,193.66 L182.85,193.98 L183.10,193.72 L183.35,192.95 L183.60,192.75 L183.85,192.74 L184.10,193.77 L184.35,193.95 L184.60,193.02 L184.85,193.10 L185.10,192.99 L185.35,193.29 L185.60,193.01 L185.85,193.09 L186.10,194.03 L186.35,193.94 L186.60,193.59 L186.85,193.94 L187.10,193.28 L187.35,193.58 L187.60,193.02 L187.85,193.12 L188.10,193.79 L188.35,192.95 L188.60,193.14 L188.85,192.84 L189.10,192.83 L189.35,193.40 L189.60,193.40 L189.85,192.90 L190.10,194.43 L190.35,194.21 L190.60,193.15 L190.85,193.59 L191.10,193.51 L191.35,193.11 L191.60,192.84 L191.85,193.38 L192.10,193.44 L192.35,193.99 L192.60,193.54 L192.85,192.98 L193.10,193.10 L193.35,193.47 L193.60,193.84 L193.85,193.02 L194.10,193.60 L194.35,193.99 L194.60,192.99 L194.85,194.00 L195.10,193.32 L195.35,193.41 L195.60,193.27 L195.85,193.66 L196.10,193.77 L196.35,193.92 L196.60,194.64 L196.85,192.53 L197.10,193.07 L197.35,192.89 L197.60,193.31 L197.85,193.18 L198.10,193.36 L198.35,193.46 L198.60,193.31 L198.85,193.82 L199.10,192.90 L199.35,193.22 L199.60,193.59 L199.85,194.06 L200.10,192.95 L200.35,192.95 L200.60,193.70 L200.85,193.52 L201.10,192.97 L201.35,193.98 L201.60,193.69 L201.85,193.38 L202.10,193.37 L202.35,193.53 L202.60,193.38 L202.85,193.65 L203.10,193.61 L203.35,192.95 L203.60,192.83 L203.85,194.04 L204.10,193.38 L204.35,194.11 L204.60,193.31 L204.85,191.98 L205.10,192.72 L205.35,191.80 L205.60,190.62 L205.85,190.90 L206.10,190.53 L206.35,191.41 L206.60,192.68 L206.85,193.10 L207.10,193.13 L207.35,193.31 L207.60,193.37 L207.85,193.08 L208.10,192.96 L208.35,193.23 L208.60,193.48 L208.85,193.14 L209.10,193.35 L209.35,193.45 L209.60,193.16 L209.85,193.98 L210.10,194.13 L210.35,193.61 L210.60,193.02 L210.85,192.50 L211.10,192.41 L211.35,193.90 L211.60,193.64 L211.85,193.20 L212.10,192.84 L212.35,193.42 L212.60,193.92 L212.85,193.65 L213.10,193.25 L213.35,194.77 L213.60,193.83 L213.85,193.02 L214.10,193.63 L214.35,193.74 L214.60,193.86 L214.85,193.63 L215.10,193.01 L215.35,193.55 L215.60,193.17 L215.85,193.49 L216.10,193.49 L216.35,193.76 L216.60,193.57 L216.85,193.45 L217.10,194.50 L217.35,193.37 L217.60,193.21 L217.85,193.52 L218.10,193.54 L218.35,193.54 L218.60,192.46 L218.85,192.63 L219.10,193.11 L219.35,192.56 L219.60,192.08 L219.85,190.95 L220.10,190.45 L220.35,190.32 L220.60,190.46 L220.85,190.53 L221.10,190.44 L221.35,189.56 L221.60,190.53 L221.85,191.09 L222.10,191.34 L222.35,191.70 L222.60,191.82 L222.85,192.27 L223.10,191.89 L223.35,193.44 L223.60,193.38 L223.85,193.83 L224.10,192.95 L224.35,192.69 L224.60,193.94 L224.85,192.54 L225.10,192.85 L225.35,193.79 L225.60,194.07 L225.85,193.26 L226.10,193.36 L226.35,193.42 L226.60,193.68 L226.85,193.21 L227.10,193.79 L227.35,193.94 L227.60,193.56 L227.85,193.71 L228.10,194.54 L228.35,193.79 L228.60,193.47 L228.85,194.06 L229.10,194.10 L229.35,193.30 L229.60,193.22 L229.85,194.20 L230.10,194.24 L230.35,194.28 L230.60,194.29 L230.85,193.12 L231.10,192.92 L231.35,193.98 L231.60,194.05 L231.85,193.76 L232.10,193.87 L232.35,193.28 L232.60,193.14 L232.85,193.53 L233.10,193.80 L233.35,193.87 L233.60,193.62 L233.85,193.90 L234.10,194.15 L234.35,193.83 L234.60,193.51 L234.85,194.20 L235.10,193.22 L235.35,193.71 L235.60,194.50 L235.85,194.77 L236.10,194.35 L236.35,193.40 L236.60,192.82 L236.85,193.29 L237.10,193.54 L237.35,193.57 L237.60,193.14 L237.85,193.31 L238.10,193.62 L238.35,193.65 L238.60,194.10 L238.85,193.86 L239.10,193.76 L239.35,193.33 L239.60,193.40 L239.85,192.68 L240.10,193.12 L240.35,192.78 L240.60,193.41 L240.85,193.61 L241.10,193.48 L241.35,193.85 L241.60,193.00 L241.85,193.01 L242.10,192.75 L242.35,192.77 L242.60,193.13 L242.85,192.07 L243.10,192.89 L243.35,192.60 L243.60,191.91 L243.85,191.17 L244.10,190.95 L244.35,190.42 L244.60,190.62 L244.85,189.33 L245.10,189.03 L245.35,189.13 L245.60,188.29 L245.85,189.73 L246.10,189.46 L246.35,190.06 L246.60,190.13 L246.85,189.81 L247.10,190.84 L247.35,191.39 L247.60,191.13 L247.85,191.44 L248.10,191.81 L248.35,192.68 L248.60,192.19 L248.85,192.44 L249.10,192.93 L249.35,193.13 L249.60,193.05 L249.85,193.95 L250.10,193.99 L250.35,193.05 L250.60,194.09 L250.85,193.75 L251.10,193.79 L251.35,193.76 L251.60,192.94 L251.85,192.97 L252.10,193.62 L252.35,193.42 L252.60,194.59 L252.85,193.57 L253.10,193.87 L253.35,193.34 L253.60,194.47 L253.85,194.35 L254.10,193.10 L254.35,193.66 L254.60,193.72 L254.85,194.08 L255.10,192.69 L255.35,193.37 L255.60,193.88 L255.85,193.43 L256.10,193.20 L256.35,192.93 L256.60,193.57 L256.85,193.35 L257.10,192.89 L257.35,193.38 L257.60,193.14 L257.85,193.46 L258.10,193.64 L258.35,193.67 L258.60,193.19 L258.85,192.47 L259.10,192.45 L259.35,192.17 L259.60,192.23 L259.85,191.27 L260.10,191.48 L260.35,190.52 L260.60,190.24 L260.85,189.67 L261.10,190.16 L261.35,189.85 L261.60,190.98 L261.85,191.12 L262.10,191.70 L262.35,192.04 L262.60,192.02 L262.85,193.01 L263.10,192.32 L263.35,193.06 L263.60,193.57 L263.85,193.73 L264.10,193.17 L264.35,193.22 L264.60,193.33 L264.85,193.10 L265.10,193.36 L265.35,193.23 L265.60,193.72 L265.85,193.51 L266.10,193.25 L266.35,193.30 L266.60,193.61 L266.85,193.26 L267.10,193.02 L267.35,193.17 L267.60,193.61 L267.85,192.98 L268.10,193.66 L268.35,193.97 L268.60,193.46 L268.85,193.46 L269.10,193.05 L269.35,193.21 L269.60,193.44 L269.85,193.78 L270.10,193.51 L270.35,193.22 L270.60,193.38 L270.85,193.29 L271.10,194.28 L271.35,193.62 L271.60,194.19 L271.85,193.13 L272.10,193.34 L272.35,194.21 L272.60,193.79 L272.85,194.58 L273.10,194.22 L273.35,194.24 L273.60,193.22 L273.85,193.72 L274.10,193.70 L274.35,194.33 L274.60,193.65 L274.85,193.69 L275.10,193.36 L275.35,193.10 L275.60,193.88 L275.85,193.65 L276.10,193.81 L276.35,193.38 L276.60,193.63 L276.85,193.38 L277.10,193.51 L277.35,193.75 L277.60,193.57 L277.85,193.87 L278.10,193.30 L278.35,193.59 L278.60,194.18 L278.85,193.44 L279.10,193.08 L279.35,194.12 L279.60,193.70 L279.85,193.29 L280.10,193.27 L280.35,193.84 L280.60,193.25 L280.85,193.07 L281.10,193.91 L281.35,193.88 L281.60,193.95 L281.85,193.58 L282.10,193.82 L282.35,193.37 L282.60,193.57 L282.85,193.81 L283.10,193.90 L283.35,194.22 L283.60,194.07 L283.85,193.43 L284.10,193.55 L284.35,194.09 L284.60,194.33 L284.85,194.03 L285.10,193.68 L285.35,193.92 L285.60,194.30 L285.85,194.32 L286.10,193.57 L286.35,193.34 L286.60,193.61 L286.85,193.36 L287.10,193.39 L287.35,193.01 L287.60,193.28 L287.85,193.35 L288.10,193.70 L288.35,193.70 L288.60,193.40 L288.85,193.16 L289.10,193.81 L289.35,193.39 L289.60,193.15 L289.85,193.52 L290.10,193.35 L290.35,194.47 L290.60,194.34 L290.85,194.32 L291.10,193.69 L291.35,193.73 L291.60,193.84 L291.85,193.65 L292.10,193.80 L292.35,193.91 L292.60,193.55 L292.85,193.80 L293.10,194.26 L293.35,193.83 L293.60,193.10 L293.85,193.34 L294.10,193.47 L294.35,193.59 L294.60,193.79 L294.85,193.53 L295.10,194.29 L295.35,193.78 L295.60,193.88 L295.85,193.34 L296.10,192.93 L296.35,193.79 L296.60,193.99 L296.85,193.97 L297.10,193.52 L297.35,193.45 L297.60,192.96 L297.85,192.60 L298.10,193.09 L298.35,193.21 L298.60,193.15 L298.85,193.25 L299.10,193.30 L299.35,193.28 L299.60,193.32 L299.85,193.20 L300.10,192.93 L300.35,192.58 L300.60,193.48 L300.85,194.05 L301.10,193.93 L301.35,194.43 L301.60,193.98 L301.85,193.13 L302.10,194.07 L302.35,193.56 L302.60,193.78 L302.85,193.74 L303.10,193.95 L303.35,194.56 L303.60,194.38 L303.85,193.52 L304.10,194.01 L304.35,193.78 L304.60,194.47 L304.85,194.59 L305.10,193.97 L305.35,194.39 L305.60,194.49 L305.85,194.40 L306.10,194.48 L306.35,194.08 L306.60,194.18 L306.85,194.07 L307.10,194.10 L307.35,193.98 L307.60,193.30 L307.85,193.96 L308.10,194.38 L308.35,193.62 L308.60,193.68 L308.85,192.96 L309.10,194.02 L309.35,194.11 L309.60,194.40 L309.85,194.56 L310.10,193.75 L310.35,193.74 L310.60,194.14 L310.85,193.88 L311.10,194.14 L311.35,193.42 L311.60,193.77 L311.85,193.52 L312.10,193.39 L312.35,193.91 L312.60,193.56 L312.85,193.69 L313.10,193.63 L313.35,192.95 L313.60,194.08 L313.85,194.10 L314.10,194.01 L314.35,193.90 L314.60,194.44 L314.85,194.07 L315.10,193.60 L315.35,194.09 L315.60,194.37 L315.85,193.96 L316.10,193.95 L316.35,194.15 L316.60,194.27 L316.85,194.14 L317.10,193.89 L317.35,194.17 L317.60,193.91 L317.85,193.91 L318.10,194.37 L318.35,193.87 L318.60,193.68 L318.85,194.08 L319.10,193.71 L319.35,194.33 L319.60,194.10 L319.85,194.33 L320.10,193.97 L320.35,193.49 L320.60,192.88 L320.85,193.57 L321.10,194.30 L321.35,193.88 L321.60,194.30 L321.85,194.31 L322.10,193.41 L322.35,193.73 L322.60,193.96 L322.85,194.54 L323.10,194.55 L323.35,193.81 L323.60,194.18 L323.85,194.07 L324.10,193.64 L324.35,194.38 L324.60,194.57 L324.85,193.70 L325.10,194.12 L325.35,193.80 L325.60,194.36 L325.85,194.39 L326.10,193.89 L326.35,193.97 L326.60,194.52 L326.85,194.02 L327.10,194.26 L327.35,193.35 L327.60,193.43 L327.85,194.29 L328.10,194.09 L328.35,193.83 L328.60,193.58 L328.85,193.93 L329.10,193.50 L329.35,193.85" fill="none" stroke="#ff0000" stroke-width="1.05" stroke-linejoin="round"/><path d="M96.60,190.79 L96.85,189.06 L97.10,188.00 L97.35,187.10 L97.60,185.58 L97.85,184.85 L98.00,184.10 L98.10,183.99 L98.35,186.55 L98.60,186.91 L98.85,188.13 L99.10,189.53 L99.35,190.92 M122.35,188.92 L122.60,185.89 L122.85,182.56 L123.10,179.20 L123.35,176.47 L123.50,175.25 L123.60,175.84 L123.85,177.12 L124.10,180.39 L124.35,182.27 L124.60,183.37 M166.60,191.73 L166.85,190.80 L167.10,185.17 L167.35,167.34 L167.60,149.11 L167.85,167.67 L168.10,184.77 L168.35,190.57 L168.60,191.75" fill="none" stroke="#ff0000" stroke-width="0.7" stroke-linejoin="round"/><path d="M8.60,156.91 L8.85,157.59 L9.10,157.02 L9.35,156.05 L9.60,156.24 L9.85,156.89 L10.10,156.64 L10.35,156.98 L10.60,155.86 L10.85,157.53 L11.10,157.47 L11.35,156.00 L11.60,156.33 L11.85,156.28 L12.10,156.45 L12.35,157.01 L12.60,156.40 L12.85,156.23 L13.10,157.00 L13.35,157.30 L13.60,156.56 L13.85,156.71 L14.10,156.10 L14.35,157.21 L14.60,157.86 L14.85,157.12 L15.10,156.61 L15.35,155.76 L15.60,156.35 L15.85,155.82 L16.10,157.10 L16.35,157.72 L16.60,157.53 L16.85,156.96 L17.10,156.98 L17.35,156.51 L17.60,156.88 L17.85,156.92 L18.10,156.66 L18.35,155.57 L18.60,156.81 L18.85,157.00 L19.10,156.52 L19.35,157.03 L19.60,157.10 L19.85,155.92 L20.10,157.10 L20.35,156.58 L20.60,156.26 L20.85,156.78 L21.10,156.44 L21.35,156.50 L21.60,156.29 L21.85,156.39 L22.10,156.19 L22.35,156.43 L22.60,156.23 L22.85,156.23 L23.10,157.29 L23.35,156.98 L23.60,157.19 L23.85,157.77 L24.10,157.32 L24.35,156.90 L24.60,156.46 L24.85,157.27 L25.10,157.27 L25.35,157.45 L25.60,156.94 L25.85,156.66 L26.10,156.00 L26.35,157.02 L26.60,156.26 L26.85,156.69 L27.10,157.19 L27.35,157.05 L27.60,156.98 L27.85,157.10 L28.10,156.21 L28.35,157.01 L28.60,157.68 L28.85,157.55 L29.10,156.46 L29.35,157.42 L29.60,157.25 L29.85,156.54 L30.10,156.36 L30.35,157.00 L30.60,157.74 L30.85,157.33 L31.10,156.68 L31.35,157.15 L31.60,157.59 L31.85,157.10 L32.10,156.92 L32.35,157.19 L32.60,156.21 L32.85,157.14 L33.10,156.53 L33.35,157.05 L33.60,157.31 L33.85,157.07 L34.10,156.79 L34.35,157.00 L34.60,157.46 L34.85,156.56 L35.10,156.72 L35.35,157.34 L35.60,157.60 L35.85,157.23 L36.10,157.02 L36.35,157.50 L36.60,157.22 L36.85,158.25 L37.10,158.09 L37.35,158.15 L37.60,156.91 L37.85,156.98 L38.10,157.06 L38.35,156.67 L38.60,157.04 L38.85,157.66 L39.10,156.89 L39.35,157.21 L39.60,158.02 L39.85,157.59 L40.10,157.59 L40.35,157.35 L40.60,157.05 L40.85,157.18 L41.10,157.44 L41.35,157.13 L41.60,157.35 L41.85,157.18 L42.10,157.42 L42.35,158.15 L42.60,157.71 L42.85,156.85 L43.10,157.37 L43.35,158.37 L43.60,158.32 L43.85,157.05 L44.10,157.59 L44.35,157.35 L44.60,156.34 L44.85,157.59 L45.10,158.37 L45.35,157.26 L45.60,157.38 L45.85,157.90 L46.10,157.34 L46.35,157.31 L46.60,157.55 L46.85,156.92 L47.10,157.61 L47.35,156.98 L47.60,157.55 L47.85,158.03 L48.10,158.33 L48.35,157.33 L48.60,157.66 L48.85,157.62 L49.10,156.79 L49.35,157.47 L49.60,157.74 L49.85,158.00 L50.10,158.56 L50.35,157.80 L50.60,157.62 L50.85,157.61 L51.10,157.67 L51.35,157.97 L51.60,158.35 L51.85,157.30 L52.10,157.50 L52.35,156.52 L52.60,156.82 L52.85,157.56 L53.10,156.78 L53.35,157.82 L53.60,158.27 L53.85,157.37 L54.10,157.36 L54.35,157.67 L54.60,157.51 L54.85,157.66 L55.10,157.49 L55.35,158.13 L55.60,157.95 L55.85,157.64 L56.10,156.73 L56.35,157.35 L56.60,157.81 L56.85,158.08 L57.10,157.59 L57.35,158.10 L57.60,158.20 L57.85,157.65 L58.10,158.12 L58.35,157.74 L58.60,157.34 L58.85,157.85 L59.10,158.47 L59.35,158.12 L59.60,157.96 L59.85,158.30 L60.10,158.27 L60.35,157.93 L60.60,156.96 L60.85,156.60 L61.10,157.14 L61.35,158.60 L61.60,158.23 L61.85,157.32 L62.10,158.11 L62.35,157.36 L62.60,157.99 L62.85,158.35 L63.10,157.98 L63.35,158.34 L63.60,158.28 L63.85,157.25 L64.10,157.85 L64.35,158.13 L64.60,157.69 L64.85,157.42 L65.10,158.54 L65.35,158.13 L65.60,157.68 L65.85,157.55 L66.10,157.97 L66.35,158.47 L66.60,157.87 L66.85,158.21 L67.10,158.16 L67.35,157.94 L67.60,158.02 L67.85,158.01 L68.10,157.55 L68.35,157.41 L68.60,158.34 L68.85,158.74 L69.10,158.33 L69.35,157.71 L69.60,157.97 L69.85,157.71 L70.10,157.29 L70.35,157.36 L70.60,157.43 L70.85,157.20 L71.10,155.07 L71.35,154.15 L71.60,154.78 L71.85,157.13 L72.10,158.05 L72.35,158.02 L72.60,158.06 L72.85,158.20 L73.10,158.27 L73.35,158.53 L73.60,158.99 L73.85,158.60 L74.10,158.92 L74.35,158.64 L74.60,158.10 L74.85,158.42 L75.10,158.54 L75.35,158.58 L75.60,158.14 L75.85,158.62 L76.10,158.00 L76.35,158.14 L76.60,158.49 L76.85,158.28 L77.10,157.79 L77.35,157.60 L77.60,157.90 L77.85,158.02 L78.10,159.04 L78.35,157.83 L78.60,157.69 L78.85,159.00 L79.10,157.61 L79.35,157.93 L79.60,158.42 L79.85,158.29 L80.10,158.46 L80.35,159.04 L80.60,159.33 L80.85,158.49 L81.10,158.41 L81.35,158.12 L81.60,157.99 L81.85,158.05 L82.10,158.30 L82.35,158.08 L82.60,158.33 L82.85,158.01 L83.10,157.75 L83.35,158.03 L83.60,158.09 L83.85,157.99 L84.10,158.06 L84.35,158.38 L84.60,157.77 L84.85,158.53 L85.10,158.03 L85.35,158.22 L85.60,158.82 L85.85,158.61 L86.10,157.55 L86.35,158.37 L86.60,158.79 L86.85,157.91 L87.10,158.09 L87.35,158.74 L87.60,157.89 L87.85,158.87 L88.10,157.77 L88.35,157.87 L88.60,157.98 L88.85,158.10 L89.10,158.60 L89.35,158.50 L89.60,158.39 L89.85,158.30 L90.10,157.58 L90.35,157.99 L90.60,158.64 L90.85,157.91 L91.10,158.80 L91.35,158.23 L91.60,157.88 L91.85,158.60 L92.10,158.60 L92.35,158.01 L92.60,157.96 L92.85,157.86 L93.10,157.85 L93.35,157.24 L93.60,157.93 L93.85,158.74 L94.10,158.14 L94.35,158.44 L94.60,158.63 L94.85,158.33 L95.10,158.01 L95.35,157.94 L95.60,157.96 L95.85,158.27 L96.10,158.06 L96.35,158.51 L96.60,158.89 L96.85,158.26 L97.10,157.39 L97.35,157.87 L97.60,157.49 L97.85,156.93 L98.10,156.02 L98.35,155.12 M100.10,155.72 L100.35,157.16 L100.60,158.01 L100.85,157.96 L101.10,158.04 L101.35,157.91 L101.60,157.95 L101.85,158.19 L102.10,158.20 L102.35,158.57 L102.60,158.42 L102.85,158.28 L103.10,158.89 L103.35,158.29 L103.60,158.59 L103.85,158.55 L104.10,158.14 L104.35,158.34 L104.60,158.44 L104.85,158.09 L105.10,157.95 L105.35,159.37 L105.60,158.24 L105.85,158.21 L106.10,158.27 L106.35,158.42 L106.60,158.79 L106.85,158.74 L107.10,158.21 L107.35,158.55 L107.60,158.68 L107.85,158.41 L108.10,158.85 L108.35,158.59 L108.60,158.71 L108.85,158.08 L109.10,159.01 L109.35,158.30 L109.60,157.83 L109.85,157.79 L110.10,157.82 L110.35,158.01 L110.60,156.79 L110.85,156.48 L111.10,155.34 M112.10,154.99 L112.35,156.85 L112.60,157.57 L112.85,158.36 L113.10,158.16 L113.35,158.41 L113.60,158.64 L113.85,158.00 L114.10,158.12 L114.35,159.25 L114.60,158.22 L114.85,158.93 L115.10,159.01 L115.35,158.56 L115.60,158.35 L115.85,158.39 L116.10,158.17 L116.35,158.43 L116.60,158.35 L116.85,158.21 L117.10,158.31 L117.35,158.75 L117.60,158.45 L117.85,158.41 L118.10,159.14 L118.35,158.48 L118.60,158.54 L118.85,157.93 L119.10,157.83 L119.35,158.43 L119.60,158.45 L119.85,157.02 L120.10,158.23 L120.35,158.34 L120.60,157.98 L120.85,157.97 L121.10,157.22 L121.35,157.38 L121.60,156.52 L121.85,156.24 L122.10,155.46 M125.85,155.49 L126.10,156.36 L126.35,156.40 L126.60,157.94 L126.85,157.22 L127.10,157.21 L127.35,157.70 L127.60,157.61 L127.85,158.18 L128.10,158.39 L128.35,158.11 L128.60,158.26 L128.85,157.97 L129.10,157.56 L129.35,157.87 L129.60,159.10 L129.85,158.37 L130.10,157.64 L130.35,157.87 L130.60,158.11 L130.85,158.74 L131.10,158.65 L131.35,159.18 L131.60,159.38 L131.85,158.90 L132.10,158.85 L132.35,159.05 L132.60,158.45 L132.85,158.37 L133.10,157.95 L133.35,158.77 L133.60,158.31 L133.85,158.79 L134.10,159.51 L134.35,158.18 L134.60,158.31 L134.85,158.14 L135.10,158.16 L135.35,158.77 L135.60,158.04 L135.85,158.67 L136.10,158.73 L136.35,158.97 L136.60,157.93 L136.85,158.11 L137.10,158.88 L137.35,157.98 L137.60,158.67 L137.85,159.02 L138.10,158.05 L138.35,158.19 L138.60,158.87 L138.85,158.23 L139.10,158.97 L139.35,159.15 L139.60,158.72 L139.85,158.62 L140.10,158.60 L140.35,158.42 L140.60,158.97 L140.85,158.97 L141.10,158.70 L141.35,158.70 L141.60,158.08 L141.85,158.11 L142.10,157.73 L142.35,158.36 L142.60,158.97 L142.85,158.77 L143.10,158.44 L143.35,158.45 L143.60,158.52 L143.85,158.98 L144.10,158.29 L144.35,159.08 L144.60,158.82 L144.85,158.10 L145.10,158.82 L145.35,158.90 L145.60,158.54 L145.85,159.18 L146.10,158.20 L146.35,158.09 L146.60,158.05 L146.85,157.72 L147.10,157.02 L147.35,157.04 L147.60,156.70 L147.85,157.49 L148.10,157.78 L148.35,158.13 L148.60,158.01 L148.85,158.35 L149.10,157.91 L149.35,157.97 L149.60,158.54 L149.85,158.91 L150.10,158.32 L150.35,158.91 L150.60,159.59 L150.85,159.03 L151.10,158.95 L151.35,158.57 L151.60,157.92 L151.85,158.45 L152.10,158.65 L152.35,158.28 L152.60,158.69 L152.85,158.48 L153.10,159.01 L153.35,158.81 L153.60,158.84 L153.85,158.88 L154.10,158.76 L154.35,159.27 L154.60,158.33 L154.85,158.35 L155.10,158.67 L155.35,158.71 L155.60,158.27 L155.85,159.04 L156.10,158.73 L156.35,158.94 L156.60,158.52 L156.85,158.53 L157.10,158.80 L157.35,158.55 L157.60,158.47 L157.85,158.85 L158.10,159.03 L158.35,158.70 L158.60,158.84 L158.85,158.47 L159.10,158.80 L159.35,158.43 L159.60,158.75 L159.85,158.35 L160.10,158.80 L160.35,159.09 L160.60,158.71 L160.85,158.14 L161.10,159.13 L161.35,158.40 L161.60,157.89 L161.85,159.22 L162.10,158.53 L162.35,158.87 L162.60,158.83 L162.85,159.41 L163.10,159.19 L163.35,157.99 L163.60,158.56 L163.85,158.10 L164.10,158.35 L164.35,158.30 L164.60,158.18 L164.85,157.79 L165.10,158.33 L165.35,158.33 L165.60,158.17 L165.85,158.16 L166.10,156.92 L166.35,155.83 L166.60,154.67 M168.60,154.10 L168.85,155.70 L169.10,156.88 L169.35,157.36 L169.60,158.20 L169.85,158.12 L170.10,158.88 L170.35,158.57 L170.60,157.94 L170.85,158.33 L171.10,158.94 L171.35,158.00 L171.60,158.00 L171.85,157.80 L172.10,158.49 L172.35,159.00 L172.60,159.07 L172.85,158.56 L173.10,158.15 L173.35,158.68 L173.60,158.66 L173.85,158.99 L174.10,158.88 L174.35,159.14 L174.60,158.56 L174.85,158.72 L175.10,158.68 L175.35,158.60 L175.60,158.82 L175.85,158.08 L176.10,158.01 L176.35,157.77 L176.60,158.71 L176.85,159.10 L177.10,159.06 L177.35,159.41 L177.60,158.87 L177.85,158.49 L178.10,158.90 L178.35,158.91 L178.60,158.95 L178.85,159.20 L179.10,158.53 L179.35,158.49 L179.60,158.83 L179.85,159.25 L180.10,158.68 L180.35,159.37 L180.60,159.40 L180.85,158.75 L181.10,158.60 L181.35,158.72 L181.60,158.35 L181.85,159.36 L182.10,159.05 L182.35,159.24 L182.60,158.68 L182.85,158.89 L183.10,158.87 L183.35,159.38 L183.60,158.56 L183.85,159.21 L184.10,158.86 L184.35,158.67 L184.60,158.04 L184.85,158.40 L185.10,158.17 L185.35,158.08 L185.60,157.23 L185.85,156.78 L186.10,157.27 L186.35,157.42 L186.60,157.68 L186.85,158.32 L187.10,158.72 L187.35,158.63 L187.60,158.79 L187.85,159.36 L188.10,158.78 L188.35,158.09 L188.60,159.13 L188.85,159.44 L189.10,159.36 L189.35,159.19 L189.60,158.15 L189.85,158.48 L190.10,158.89 L190.35,158.96 L190.60,158.84 L190.85,158.40 L191.10,158.57 L191.35,158.77 L191.60,159.32 L191.85,159.65 L192.10,158.43 L192.35,158.81 L192.60,158.61 L192.85,159.22 L193.10,159.06 L193.35,159.09 L193.60,158.93 L193.85,158.64 L194.10,158.61 L194.35,158.82 L194.60,159.32 L194.85,159.72 L195.10,159.37 L195.35,158.96 L195.60,159.50 L195.85,159.13 L196.10,158.97 L196.35,158.92 L196.60,158.53 L196.85,158.32 L197.10,158.60 L197.35,158.83 L197.60,158.93 L197.85,158.48 L198.10,158.72 L198.35,158.34 L198.60,159.29 L198.85,158.74 L199.10,158.57 L199.35,159.13 L199.60,158.94 L199.85,158.65 L200.10,159.48 L200.35,158.74 L200.60,159.04 L200.85,158.80 L201.10,159.24 L201.35,159.23 L201.60,158.70 L201.85,158.71 L202.10,159.34 L202.35,159.13 L202.60,159.30 L202.85,159.15 L203.10,159.37 L203.35,159.17 L203.60,158.84 L203.85,159.44 L204.10,158.95 L204.35,158.91 L204.60,158.98 L204.85,159.18 L205.10,158.42 L205.35,158.37 L205.60,157.84 L205.85,156.87 L206.10,155.28 L206.35,153.62 L206.60,154.19 L206.85,155.83 L207.10,156.76 L207.35,157.57 L207.60,158.25 L207.85,158.89 L208.10,158.71 L208.35,158.72 L208.60,159.06 L208.85,159.30 L209.10,159.10 L209.35,158.95 L209.60,158.29 L209.85,158.31 L210.10,158.88 L210.35,158.75 L210.60,158.76 L210.85,159.07 L211.10,159.37 L211.35,159.97 L211.60,158.80 L211.85,159.13 L212.10,159.80 L212.35,158.86 L212.60,159.13 L212.85,158.71 L213.10,159.37 L213.35,158.84 L213.60,159.23 L213.85,159.31 L214.10,158.84 L214.35,158.46 L214.60,158.68 L214.85,159.07 L215.10,159.26 L215.35,159.29 L215.60,158.81 L215.85,159.49 L216.10,159.26 L216.35,159.02 L216.60,158.77 L216.85,158.56 L217.10,158.19 L217.35,158.73 L217.60,159.03 L217.85,159.58 L218.10,159.29 L218.35,158.66 L218.60,159.13 L218.85,158.74 L219.10,159.78 L219.35,160.00 L219.60,159.18 L219.85,158.82 L220.10,159.34 L220.35,158.98 L220.60,158.71 L220.85,158.17 L221.10,157.31 L221.35,157.15 L221.60,157.08 L221.85,157.02 L222.10,157.39 L222.35,157.98 L222.60,158.79 L222.85,159.13 L223.10,158.79 L223.35,158.54 L223.60,159.07 L223.85,158.94 L224.10,159.18 L224.35,159.80 L224.60,159.54 L224.85,158.42 L225.10,158.68 L225.35,158.99 L225.60,158.43 L225.85,158.32 L226.10,158.85 L226.35,158.89 L226.60,158.97 L226.85,159.13 L227.10,158.84 L227.35,158.96 L227.60,159.05 L227.85,159.33 L228.10,158.45 L228.35,159.05 L228.60,158.37 L228.85,158.48 L229.10,159.13 L229.35,159.22 L229.60,159.19 L229.85,159.06 L230.10,159.05 L230.35,158.82 L230.60,159.16 L230.85,159.46 L231.10,158.41 L231.35,158.86 L231.60,158.74 L231.85,158.49 L232.10,158.90 L232.35,158.90 L232.60,158.02 L232.85,158.18 L233.10,158.96 L233.35,159.07 L233.60,159.55 L233.85,159.07 L234.10,159.48 L234.35,158.97 L234.60,158.71 L234.85,159.13 L235.10,159.00 L235.35,158.97 L235.60,158.28 L235.85,159.15 L236.10,159.12 L236.35,159.23 L236.60,159.36 L236.85,159.73 L237.10,159.18 L237.35,159.14 L237.60,159.51 L237.85,159.59 L238.10,159.30 L238.35,159.04 L238.60,158.95 L238.85,158.88 L239.10,158.92 L239.35,159.39 L239.60,159.04 L239.85,159.30 L240.10,158.94 L240.35,159.44 L240.60,159.22 L240.85,159.63 L241.10,159.42 L241.35,159.27 L241.60,158.93 L241.85,158.93 L242.10,158.99 L242.35,159.02 L242.60,158.90 L242.85,159.32 L243.10,159.35 L243.35,159.12 L243.60,159.64 L243.85,159.09 L244.10,158.56 L244.35,158.89 L244.60,158.98 L244.85,158.78 L245.10,158.74 L245.35,158.09 L245.60,157.82 L245.85,157.24 L246.10,156.68 L246.35,156.01 L246.60,156.12 L246.85,156.94 L247.10,157.74 L247.35,158.12 L247.60,158.46 L247.85,158.45 L248.10,159.32 L248.35,158.82 L248.60,159.87 L248.85,159.17 L249.10,159.50 L249.35,159.02 L249.60,159.26 L249.85,159.18 L250.10,158.96 L250.35,158.67 L250.60,158.84 L250.85,158.66 L251.10,159.46 L251.35,158.83 L251.60,159.43 L251.85,158.55 L252.10,157.62 L252.35,158.15 L252.60,157.64 L252.85,157.43 L253.10,157.91 L253.35,158.44 L253.60,159.17 L253.85,158.60 L254.10,158.91 L254.35,159.53 L254.60,159.82 L254.85,159.01 L255.10,158.94 L255.35,158.94 L255.60,159.42 L255.85,158.94 L256.10,159.08 L256.35,159.35 L256.60,159.45 L256.85,159.44 L257.10,158.94 L257.35,159.19 L257.60,159.32 L257.85,159.50 L258.10,159.70 L258.35,159.47 L258.60,158.92 L258.85,159.09 L259.10,158.76 L259.35,159.42 L259.60,158.93 L259.85,158.77 L260.10,158.67 L260.35,158.08 L260.60,157.84 L260.85,157.01 L261.10,155.79 L261.35,154.59 L261.60,153.18 L261.85,154.45 L262.10,155.84 L262.35,156.70 L262.60,156.47 L262.85,158.32 L263.10,158.90 L263.35,158.58 L263.60,158.59 L263.85,158.94 L264.10,158.66 L264.35,158.62 L264.60,158.66 L264.85,159.48 L265.10,159.17 L265.35,158.88 L265.60,158.77 L265.85,159.30 L266.10,159.04 L266.35,159.05 L266.60,159.11 L266.85,159.08 L267.10,159.36 L267.35,159.52 L267.60,158.78 L267.85,158.86 L268.10,159.28 L268.35,158.95 L268.60,159.24 L268.85,159.74 L269.10,159.52 L269.35,159.69 L269.60,159.74 L269.85,159.70 L270.10,159.48 L270.35,159.77 L270.60,159.14 L270.85,159.10 L271.10,159.44 L271.35,159.06 L271.60,159.29 L271.85,159.20 L272.10,159.66 L272.35,159.60 L272.60,159.68 L272.85,159.14 L273.10,158.78 L273.35,159.71 L273.60,159.87 L273.85,159.08 L274.10,158.87 L274.35,158.75 L274.60,159.58 L274.85,158.98 L275.10,159.36 L275.35,159.39 L275.60,159.13 L275.85,159.20 L276.10,159.19 L276.35,159.61 L276.60,159.86 L276.85,159.75 L277.10,158.85 L277.35,158.83 L277.60,159.12 L277.85,159.45 L278.10,159.48 L278.35,158.67 L278.60,159.30 L278.85,159.60 L279.10,159.35 L279.35,159.21 L279.60,158.78 L279.85,159.74 L280.10,159.53 L280.35,159.20 L280.60,159.18 L280.85,159.62 L281.10,159.75 L281.35,159.25 L281.60,158.90 L281.85,159.39 L282.10,159.09 L282.35,159.22 L282.60,159.15 L282.85,158.96 L283.10,159.57 L283.35,158.91 L283.60,159.50 L283.85,158.79 L284.10,158.77 L284.35,158.71 L284.60,158.62 L284.85,158.17 L285.10,158.93 L285.35,158.59 L285.60,159.25 L285.85,159.22 L286.10,159.04 L286.35,158.95 L286.60,159.38 L286.85,159.43 L287.10,159.10 L287.35,159.32 L287.60,159.63 L287.85,159.76 L288.10,159.40 L288.35,159.31 L288.60,159.09 L288.85,159.02 L289.10,159.67 L289.35,159.51 L289.60,159.38 L289.85,159.83 L290.10,159.68 L290.35,158.82 L290.60,158.62 L290.85,159.33 L291.10,159.27 L291.35,159.63 L291.60,159.09 L291.85,159.59 L292.10,159.57 L292.35,159.17 L292.60,160.02 L292.85,159.27 L293.10,159.40 L293.35,159.26 L293.60,159.24 L293.85,159.08 L294.10,159.17 L294.35,159.46 L294.60,158.91 L294.85,159.32 L295.10,159.43 L295.35,159.45 L295.60,159.51 L295.85,160.05 L296.10,159.52 L296.35,159.37 L296.60,159.26 L296.85,159.89 L297.10,159.87 L297.35,159.15 L297.60,159.04 L297.85,159.12 L298.10,159.72 L298.35,159.59 L298.60,159.65 L298.85,159.17 L299.10,159.40 L299.35,159.50 L299.60,159.76 L299.85,159.14 L300.10,158.58 L300.35,159.31 L300.60,159.86 L300.85,159.98 L301.10,158.89 L301.35,159.57 L301.60,159.75 L301.85,159.55 L302.10,159.36 L302.35,159.60 L302.60,159.54 L302.85,159.93 L303.10,159.42 L303.35,160.03 L303.60,159.53 L303.85,159.35 L304.10,159.79 L304.35,159.57 L304.60,159.78 L304.85,159.68 L305.10,159.37 L305.35,159.48 L305.60,160.06 L305.85,159.25 L306.10,159.63 L306.35,159.91 L306.60,159.81 L306.85,159.89 L307.10,159.32 L307.35,159.77 L307.60,159.82 L307.85,159.06 L308.10,159.57 L308.35,159.37 L308.60,159.33 L308.85,159.75 L309.10,159.70 L309.35,159.95 L309.60,159.63 L309.85,158.96 L310.10,159.28 L310.35,159.63 L310.60,159.74 L310.85,159.38 L311.10,159.64 L311.35,159.38 L311.60,159.88 L311.85,159.66 L312.10,159.55 L312.35,158.72 L312.60,159.44 L312.85,159.55 L313.10,159.27 L313.35,159.34 L313.60,159.69 L313.85,159.35 L314.10,159.47 L314.35,158.92 L314.60,159.55 L314.85,158.87 L315.10,158.84 L315.35,159.41 L315.60,159.21 L315.85,159.09 L316.10,159.55 L316.35,159.47 L316.60,159.93 L316.85,159.64 L317.10,159.84 L317.35,159.30 L317.60,159.67 L317.85,160.44 L318.10,159.75 L318.35,159.29 L318.60,159.35 L318.85,159.43 L319.10,159.61 L319.35,158.96 L319.60,159.73 L319.85,159.67 L320.10,159.50 L320.35,159.69 L320.60,158.93 L320.85,159.99 L321.10,159.70 L321.35,159.82 L321.60,159.33 L321.85,159.65 L322.10,159.61 L322.35,159.82 L322.60,159.30 L322.85,160.20 L323.10,159.82 L323.35,160.10 L323.60,159.71 L323.85,159.62 L324.10,159.66 L324.35,159.93 L324.60,159.81 L324.85,159.33 L325.10,159.41 L325.35,159.68 L325.60,159.29 L325.85,159.67 L326.10,159.45 L326.35,159.88 L326.60,159.81 L326.85,159.78 L327.10,159.60 L327.35,159.92 L327.60,159.62 L327.85,160.00 L328.10,159.33 L328.35,159.65 L328.60,159.55 L328.85,160.08 L329.10,159.95 L329.35,159.89" fill="none" stroke="#1414ff" stroke-width="1.05" stroke-linejoin="round"/><path d="M98.10,156.02 L98.35,155.12 L98.60,154.84 L98.85,152.97 L99.10,150.90 L99.20,149.63 L99.35,150.31 L99.60,152.24 L99.85,153.71 L100.10,155.72 L100.35,157.16 M110.85,156.48 L111.10,155.34 L111.35,151.88 L111.60,148.66 L111.85,151.40 L112.10,154.99 L112.35,156.85 M121.85,156.24 L122.10,155.46 L122.35,154.48 L122.60,152.50 L122.85,151.22 L123.10,149.22 L123.35,147.18 L123.60,144.54 L123.85,143.52 L124.00,142.94 L124.10,143.39 L124.35,144.07 L124.60,145.80 L124.85,148.33 L125.10,151.41 L125.35,153.34 L125.60,154.35 L125.85,155.49 L126.10,156.36 M166.35,155.83 L166.60,154.67 L166.85,150.60 L167.10,138.88 L167.35,98.89 L167.60,58.25 L167.85,98.81 L168.10,138.64 L168.35,151.52 L168.60,154.10 L168.85,155.70" fill="none" stroke="#1414ff" stroke-width="0.7" stroke-linejoin="round"/><path d="M8.60,122.39 L8.85,121.57 L9.10,122.16 L9.35,121.63 L9.60,122.34 L9.85,121.43 L10.10,121.66 L10.35,121.68 L10.60,121.23 L10.85,122.26 L11.10,121.44 L11.35,121.47 L11.60,121.86 L11.85,122.37 L12.10,121.95 L12.35,122.93 L12.60,122.24 L12.85,122.08 L13.10,122.35 L13.35,122.11 L13.60,121.74 L13.85,121.94 L14.10,122.35 L14.35,122.91 L14.60,122.46 L14.85,122.35 L15.10,121.36 L15.35,122.05 L15.60,122.35 L15.85,123.10 L16.10,123.06 L16.35,122.48 L16.60,122.55 L16.85,122.30 L17.10,122.05 L17.35,122.31 L17.60,122.23 L17.85,122.53 L18.10,122.68 L18.35,122.41 L18.60,122.80 L18.85,122.01 L19.10,122.39 L19.35,122.43 L19.60,121.74 L19.85,122.66 L20.10,122.88 L20.35,123.22 L20.60,122.59 L20.85,122.78 L21.10,122.73 L21.35,121.90 L21.60,122.50 L21.85,121.98 L22.10,122.63 L22.35,122.89 L22.60,122.62 L22.85,121.83 L23.10,123.10 L23.35,122.85 L23.60,123.00 L23.85,122.38 L24.10,122.55 L24.35,123.46 L24.60,122.66 L24.85,122.46 L25.10,122.55 L25.35,122.99 L25.60,122.09 L25.85,122.45 L26.10,122.47 L26.35,123.75 L26.60,123.31 L26.85,122.85 L27.10,122.84 L27.35,122.66 L27.60,122.58 L27.85,122.79 L28.10,123.49 L28.35,122.76 L28.60,122.71 L28.85,123.01 L29.10,123.48 L29.35,123.06 L29.60,122.46 L29.85,122.84 L30.10,122.82 L30.35,122.32 L30.60,122.55 L30.85,122.99 L31.10,122.85 L31.35,123.61 L31.60,123.14 L31.85,122.78 L32.10,122.86 L32.35,122.57 L32.60,122.71 L32.85,123.27 L33.10,122.92 L33.35,122.17 L33.60,122.42 L33.85,123.15 L34.10,122.60 L34.35,122.93 L34.60,123.48 L34.85,123.03 L35.10,122.95 L35.35,122.98 L35.60,123.49 L35.85,122.83 L36.10,122.61 L36.35,123.20 L36.60,123.83 L36.85,123.47 L37.10,123.88 L37.35,123.71 L37.60,122.82 L37.85,123.18 L38.10,123.19 L38.35,123.30 L38.60,123.81 L38.85,123.92 L39.10,123.70 L39.35,123.78 L39.60,123.15 L39.85,123.55 L40.10,122.92 L40.35,123.07 L40.60,122.88 L40.85,123.76 L41.10,123.29 L41.35,123.59 L41.60,122.91 L41.85,123.46 L42.10,123.75 L42.35,123.51 L42.60,123.52 L42.85,123.51 L43.10,123.42 L43.35,123.27 L43.60,123.17 L43.85,123.86 L44.10,123.56 L44.35,123.55 L44.60,123.59 L44.85,122.98 L45.10,122.87 L45.35,123.03 L45.60,124.19 L45.85,123.58 L46.10,123.76 L46.35,122.88 L46.60,123.36 L46.85,123.60 L47.10,123.45 L47.35,124.02 L47.60,123.55 L47.85,123.66 L48.10,124.18 L48.35,124.38 L48.60,123.87 L48.85,123.51 L49.10,123.63 L49.35,124.12 L49.60,123.30 L49.85,123.23 L50.10,123.36 L50.35,124.12 L50.60,123.93 L50.85,123.39 L51.10,123.42 L51.35,123.70 L51.60,123.52 L51.85,123.30 L52.10,123.40 L52.35,123.65 L52.60,123.56 L52.85,123.76 L53.10,123.65 L53.35,123.55 L53.60,124.01 L53.85,123.97 L54.10,123.12 L54.35,123.86 L54.60,123.66 L54.85,123.50 L55.10,124.16 L55.35,124.08 L55.60,124.13 L55.85,123.83 L56.10,124.65 L56.35,124.21 L56.60,123.84 L56.85,124.65 L57.10,123.82 L57.35,124.53 L57.60,123.92 L57.85,123.71 L58.10,123.64 L58.35,123.54 L58.60,123.63 L58.85,124.14 L59.10,123.95 L59.35,123.42 L59.60,124.00 L59.85,123.53 L60.10,124.19 L60.35,123.93 L60.60,124.06 L60.85,124.48 L61.10,123.49 L61.35,125.07 L61.60,125.53 L61.85,124.77 L62.10,124.42 L62.35,123.99 L62.60,124.58 L62.85,124.17 L63.10,124.05 L63.35,123.96 L63.60,124.79 L63.85,124.58 L64.10,123.72 L64.35,124.09 L64.60,123.80 L64.85,124.53 L65.10,123.97 L65.35,124.25 L65.60,124.52 L65.85,124.21 L66.10,123.81 L66.35,124.03 L66.60,123.86 L66.85,124.89 L67.10,124.71 L67.35,123.66 L67.60,123.94 L67.85,125.23 L68.10,124.73 L68.35,124.34 L68.60,124.75 L68.85,124.60 L69.10,124.68 L69.35,124.32 L69.60,124.96 L69.85,124.38 L70.10,123.63 L70.35,123.48 L70.60,122.33 L70.85,121.08 L71.10,120.85 L71.35,122.17 L71.60,123.12 L71.85,124.07 L72.10,124.15 L72.35,124.93 L72.60,124.05 L72.85,124.28 L73.10,124.23 L73.35,124.12 L73.60,124.65 L73.85,124.69 L74.10,124.72 L74.35,125.14 L74.60,124.45 L74.85,124.74 L75.10,124.67 L75.35,124.65 L75.60,124.06 L75.85,124.12 L76.10,124.83 L76.35,124.26 L76.60,125.08 L76.85,125.26 L77.10,124.52 L77.35,124.77 L77.60,124.83 L77.85,125.37 L78.10,125.62 L78.35,125.14 L78.60,125.13 L78.85,125.18 L79.10,124.39 L79.35,124.68 L79.60,125.03 L79.85,124.66 L80.10,125.31 L80.35,124.44 L80.60,124.62 L80.85,124.81 L81.10,124.97 L81.35,124.41 L81.60,124.58 L81.85,124.88 L82.10,124.84 L82.35,124.95 L82.60,124.42 L82.85,124.16 L83.10,123.55 L83.35,124.09 L83.60,124.43 L83.85,124.14 L84.10,124.57 L84.35,125.03 L84.60,124.66 L84.85,125.13 L85.10,125.10 L85.35,124.86 L85.60,125.10 L85.85,125.11 L86.10,124.39 L86.35,125.27 L86.60,124.22 L86.85,124.81 L87.10,124.58 L87.35,124.60 L87.60,124.88 L87.85,124.70 L88.10,124.76 L88.35,124.80 L88.60,124.54 L88.85,124.88 L89.10,124.52 L89.35,125.01 L89.60,124.50 L89.85,124.95 L90.10,124.83 L90.35,125.45 L90.60,124.73 L90.85,125.37 L91.10,124.83 L91.35,124.44 L91.60,125.52 L91.85,125.55 L92.10,125.71 L92.35,125.01 L92.60,125.46 L92.85,125.70 L93.10,125.36 L93.35,126.19 L93.60,125.22 L93.85,125.47 L94.10,124.84 L94.35,124.83 L94.60,125.00 L94.85,125.15 L95.10,125.31 L95.35,125.31 L95.60,124.44 L95.85,125.13 L96.10,124.93 L96.35,124.48 L96.60,124.89 L96.85,125.46 L97.10,125.36 L97.35,124.63 L97.60,124.88 L97.85,125.04 L98.10,125.65 L98.35,125.11 L98.60,124.88 L98.85,125.01 L99.10,124.24 L99.35,125.13 L99.60,125.55 L99.85,125.28 L100.10,124.62 L100.35,126.02 L100.60,125.50 L100.85,125.15 L101.10,125.18 L101.35,125.49 L101.60,125.17 L101.85,125.17 L102.10,125.38 L102.35,124.87 L102.60,125.40 L102.85,124.92 L103.10,125.39 L103.35,125.67 L103.60,125.52 L103.85,125.55 L104.10,125.11 L104.35,124.99 L104.60,125.60 L104.85,125.22 L105.10,124.92 L105.35,125.00 L105.60,125.01 L105.85,125.54 L106.10,125.59 L106.35,125.79 L106.60,124.94 L106.85,125.25 L107.10,125.16 L107.35,124.51 L107.60,125.19 L107.85,125.47 L108.10,124.95 L108.35,124.88 L108.60,126.01 L108.85,124.94 L109.10,125.75 L109.35,125.43 L109.60,125.34 L109.85,124.92 L110.10,124.74 L110.35,125.49 L110.60,125.34 L110.85,123.65 L111.10,122.17 M112.10,121.42 L112.35,123.13 L112.60,123.91 L112.85,124.78 L113.10,124.91 L113.35,124.61 L113.60,124.50 L113.85,124.87 L114.10,125.40 L114.35,125.66 L114.60,125.69 L114.85,125.40 L115.10,125.52 L115.35,124.97 L115.60,125.84 L115.85,125.39 L116.10,124.99 L116.35,124.89 L116.60,124.86 L116.85,125.19 L117.10,125.58 L117.35,125.13 L117.60,125.63 L117.85,125.34 L118.10,124.66 L118.35,124.79 L118.60,124.91 L118.85,125.19 L119.10,126.06 L119.35,126.27 L119.60,125.53 L119.85,125.39 L120.10,125.09 L120.35,125.63 L120.60,125.02 L120.85,125.08 L121.10,125.32 L121.35,125.59 L121.60,125.28 L121.85,124.42 L122.10,125.20 L122.35,125.03 L122.60,125.22 L122.85,125.31 L123.10,123.97 L123.35,123.71 L123.60,122.69 L123.85,120.70 L124.10,121.44 L124.35,122.43 L124.60,123.55 L124.85,124.10 L125.10,124.97 L125.35,125.28 L125.60,124.85 L125.85,124.89 L126.10,124.89 L126.35,125.30 L126.60,125.42 L126.85,125.61 L127.10,125.41 L127.35,125.14 L127.60,125.22 L127.85,124.99 L128.10,125.51 L128.35,124.87 L128.60,124.80 L128.85,124.91 L129.10,124.12 L129.35,124.51 L129.60,124.41 L129.85,123.79 L130.10,123.73 L130.35,124.01 L130.60,124.33 L130.85,124.66 L131.10,124.61 L131.35,125.27 L131.60,125.65 L131.85,125.99 L132.10,125.28 L132.35,125.47 L132.60,125.52 L132.85,125.22 L133.10,125.18 L133.35,125.20 L133.60,125.34 L133.85,125.86 L134.10,124.82 L134.35,124.84 L134.60,124.86 L134.85,125.47 L135.10,125.57 L135.35,125.12 L135.60,125.63 L135.85,125.15 L136.10,125.90 L136.35,125.54 L136.60,125.68 L136.85,125.00 L137.10,125.67 L137.35,125.47 L137.60,125.14 L137.85,124.86 L138.10,125.65 L138.35,125.68 L138.60,125.36 L138.85,125.77 L139.10,125.85 L139.35,125.81 L139.60,125.15 L139.85,125.63 L140.10,125.49 L140.35,125.20 L140.60,125.43 L140.85,125.30 L141.10,125.79 L141.35,125.45 L141.60,125.60 L141.85,125.84 L142.10,126.16 L142.35,125.71 L142.60,125.10 L142.85,125.91 L143.10,125.63 L143.35,125.85 L143.60,125.52 L143.85,125.25 L144.10,124.92 L144.35,125.45 L144.60,125.67 L144.85,125.22 L145.10,125.13 L145.35,125.09 L145.60,125.27 L145.85,125.38 L146.10,125.52 L146.35,125.04 L146.60,124.89 L146.85,124.24 L147.10,124.46 L147.35,123.92 L147.60,123.52 L147.85,123.99 L148.10,124.70 L148.35,125.42 L148.60,125.33 L148.85,125.87 L149.10,125.52 L149.35,125.04 L149.60,125.15 L149.85,125.92 L150.10,125.17 L150.35,125.04 L150.60,124.99 L150.85,124.94 L151.10,125.65 L151.35,125.71 L151.60,125.16 L151.85,126.01 L152.10,125.82 L152.35,125.28 L152.60,124.88 L152.85,125.19 L153.10,125.28 L153.35,125.62 L153.60,125.34 L153.85,125.82 L154.10,126.27 L154.35,125.23 L154.60,125.22 L154.85,125.89 L155.10,126.01 L155.35,124.80 L155.60,125.05 L155.85,124.82 L156.10,125.46 L156.35,125.42 L156.60,125.13 L156.85,125.49 L157.10,125.68 L157.35,124.26 L157.60,124.63 L157.85,125.01 L158.10,125.32 L158.35,125.51 L158.60,125.52 L158.85,125.98 L159.10,125.41 L159.35,125.03 L159.60,124.91 L159.85,124.54 L160.10,125.16 L160.35,125.41 L160.60,124.92 L160.85,125.43 L161.10,124.82 L161.35,125.34 L161.60,125.17 L161.85,125.67 L162.10,125.17 L162.35,124.93 L162.60,124.50 L162.85,124.00 L163.10,123.82 L163.35,123.31 L163.60,122.81 L163.85,123.29 L164.10,122.93 L164.35,122.49 L164.60,122.33 L164.85,121.73 L165.10,121.59 L165.35,123.00 L165.60,123.43 L165.85,123.66 L166.10,123.84 L166.35,123.63 L166.60,122.82 L166.85,122.39 L167.10,120.47 M168.85,121.19 L169.10,122.75 L169.35,124.01 L169.60,123.97 L169.85,123.94 L170.10,124.82 L170.35,125.10 L170.60,125.13 L170.85,125.09 L171.10,124.74 L171.35,125.97 L171.60,125.01 L171.85,124.98 L172.10,125.49 L172.35,125.53 L172.60,125.37 L172.85,125.45 L173.10,125.61 L173.35,125.50 L173.60,125.13 L173.85,125.43 L174.10,125.55 L174.35,125.55 L174.60,125.38 L174.85,125.10 L175.10,125.59 L175.35,125.72 L175.60,125.54 L175.85,124.92 L176.10,125.57 L176.35,126.02 L176.60,125.67 L176.85,125.33 L177.10,125.54 L177.35,125.43 L177.60,125.37 L177.85,125.65 L178.10,125.56 L178.35,125.31 L178.60,126.10 L178.85,125.82 L179.10,124.94 L179.35,125.35 L179.60,125.34 L179.85,124.54 L180.10,124.99 L180.35,125.79 L180.60,125.53 L180.85,125.64 L181.10,125.57 L181.35,125.48 L181.60,125.26 L181.85,124.94 L182.10,124.79 L182.35,125.16 L182.60,125.76 L182.85,125.89 L183.10,125.94 L183.35,125.43 L183.60,125.22 L183.85,125.94 L184.10,125.86 L184.35,125.65 L184.60,125.54 L184.85,125.25 L185.10,125.56 L185.35,124.50 L185.60,124.58 L185.85,124.51 L186.10,123.93 L186.35,124.08 L186.60,123.84 L186.85,123.87 L187.10,124.22 L187.35,124.26 L187.60,125.53 L187.85,125.45 L188.10,125.56 L188.35,125.01 L188.60,125.07 L188.85,125.58 L189.10,125.32 L189.35,125.50 L189.60,126.01 L189.85,125.72 L190.10,125.67 L190.35,125.60 L190.60,125.40 L190.85,125.76 L191.10,125.73 L191.35,126.38 L191.60,125.81 L191.85,125.01 L192.10,125.34 L192.35,125.31 L192.60,126.00 L192.85,125.53 L193.10,125.12 L193.35,125.43 L193.60,125.92 L193.85,125.88 L194.10,125.65 L194.35,125.56 L194.60,125.12 L194.85,125.36 L195.10,125.44 L195.35,125.26 L195.60,125.52 L195.85,125.21 L196.10,125.78 L196.35,125.29 L196.60,125.12 L196.85,125.08 L197.10,125.35 L197.35,125.61 L197.60,125.56 L197.85,125.26 L198.10,125.46 L198.35,125.12 L198.60,125.41 L198.85,125.64 L199.10,125.50 L199.35,125.24 L199.60,125.17 L199.85,125.49 L200.10,125.36 L200.35,124.79 L200.60,125.02 L200.85,125.30 L201.10,125.45 L201.35,125.45 L201.60,125.81 L201.85,125.16 L202.10,125.81 L202.35,125.35 L202.60,125.49 L202.85,125.32 L203.10,125.41 L203.35,125.00 L203.60,125.80 L203.85,125.29 L204.10,125.25 L204.35,124.64 L204.60,125.23 L204.85,125.17 L205.10,125.55 L205.35,125.39 L205.60,124.96 L205.85,124.52 L206.10,124.88 L206.35,123.74 L206.60,123.05 L206.85,122.15 L207.10,122.08 L207.35,122.07 L207.60,123.13 L207.85,124.20 L208.10,124.69 L208.35,125.37 L208.60,125.44 L208.85,125.58 L209.10,125.50 L209.35,125.59 L209.60,125.63 L209.85,125.51 L210.10,125.37 L210.35,125.85 L210.60,125.38 L210.85,124.91 L211.10,124.86 L211.35,125.60 L211.60,125.41 L211.85,125.32 L212.10,125.09 L212.35,125.59 L212.60,125.87 L212.85,125.64 L213.10,125.21 L213.35,125.46 L213.60,125.55 L213.85,125.19 L214.10,125.07 L214.35,125.19 L214.60,126.13 L214.85,126.05 L215.10,125.57 L215.35,125.63 L215.60,125.95 L215.85,125.96 L216.10,125.78 L216.35,125.26 L216.60,125.21 L216.85,125.52 L217.10,125.81 L217.35,125.77 L217.60,125.50 L217.85,125.36 L218.10,125.98 L218.35,125.33 L218.60,125.55 L218.85,125.63 L219.10,125.76 L219.35,125.93 L219.60,124.88 L219.85,124.61 L220.10,125.61 L220.35,125.92 L220.60,125.89 L220.85,125.79 L221.10,125.54 L221.35,125.54 L221.60,126.11 L221.85,125.41 L222.10,125.84 L222.35,125.50 L222.60,125.47 L222.85,125.18 L223.10,125.33 L223.35,125.18 L223.60,124.88 L223.85,124.98 L224.10,124.84 L224.35,125.58 L224.60,125.11 L224.85,125.29 L225.10,125.93 L225.35,125.66 L225.60,125.33 L225.85,125.70 L226.10,125.56 L226.35,125.57 L226.60,125.19 L226.85,125.65 L227.10,125.49 L227.35,125.24 L227.60,125.07 L227.85,125.24 L228.10,125.12 L228.35,125.41 L228.60,125.42 L228.85,125.21 L229.10,125.81 L229.35,125.67 L229.60,125.09 L229.85,125.82 L230.10,125.22 L230.35,124.96 L230.60,125.45 L230.85,125.88 L231.10,125.97 L231.35,125.39 L231.60,125.58 L231.85,125.64 L232.10,126.00 L232.35,125.90 L232.60,125.76 L232.85,125.71 L233.10,125.68 L233.35,125.65 L233.60,125.49 L233.85,125.41 L234.10,125.98 L234.35,125.66 L234.60,125.62 L234.85,125.50 L235.10,125.64 L235.35,125.40 L235.60,125.64 L235.85,125.55 L236.10,125.85 L236.35,125.07 L236.60,125.91 L236.85,125.64 L237.10,125.26 L237.35,125.67 L237.60,125.48 L237.85,125.64 L238.10,125.49 L238.35,125.58 L238.60,125.52 L238.85,125.41 L239.10,125.38 L239.35,125.75 L239.60,125.84 L239.85,125.81 L240.10,125.48 L240.35,125.58 L240.60,125.64 L240.85,125.64 L241.10,125.59 L241.35,125.70 L241.60,125.46 L241.85,125.67 L242.10,125.25 L242.35,125.43 L242.60,125.39 L242.85,125.44 L243.10,125.78 L243.35,125.17 L243.60,125.39 L243.85,125.50 L244.10,125.64 L244.35,125.21 L244.60,125.11 L244.85,125.27 L245.10,125.48 L245.35,125.67 L245.60,126.08 L245.85,126.12 L246.10,125.83 L246.35,125.68 L246.60,125.82 L246.85,125.71 L247.10,125.50 L247.35,125.50 L247.60,126.08 L247.85,125.74 L248.10,125.39 L248.35,125.83 L248.60,125.32 L248.85,125.41 L249.10,125.58 L249.35,125.50 L249.60,125.41 L249.85,125.32 L250.10,125.24 L250.35,125.15 L250.60,125.58 L250.85,125.80 L251.10,125.29 L251.35,125.63 L251.60,125.64 L251.85,125.10 L252.10,125.57 L252.35,125.46 L252.60,124.98 L252.85,124.55 L253.10,124.60 L253.35,124.28 L253.60,123.78 L253.85,123.47 L254.10,124.59 L254.35,123.95 L254.60,124.73 L254.85,124.36 L255.10,125.01 L255.35,125.14 L255.60,125.36 L255.85,125.52 L256.10,125.55 L256.35,125.15 L256.60,125.63 L256.85,125.57 L257.10,125.16 L257.35,125.43 L257.60,125.16 L257.85,125.33 L258.10,124.99 L258.35,125.38 L258.60,125.65 L258.85,125.14 L259.10,125.28 L259.35,125.72 L259.60,125.73 L259.85,124.41 L260.10,123.92 L260.35,122.57 L260.60,121.46 M262.10,120.96 L262.35,122.69 L262.60,123.67 L262.85,124.61 L263.10,125.29 L263.35,124.93 L263.60,125.22 L263.85,125.66 L264.10,125.32 L264.35,125.04 L264.60,125.54 L264.85,125.69 L265.10,125.91 L265.35,125.50 L265.60,125.80 L265.85,125.78 L266.10,124.92 L266.35,125.42 L266.60,125.99 L266.85,125.34 L267.10,125.83 L267.35,125.41 L267.60,124.96 L267.85,124.67 L268.10,125.13 L268.35,125.13 L268.60,125.87 L268.85,124.91 L269.10,125.68 L269.35,125.48 L269.60,125.72 L269.85,125.11 L270.10,125.48 L270.35,125.26 L270.60,125.73 L270.85,125.98 L271.10,125.71 L271.35,125.56 L271.60,125.78 L271.85,125.69 L272.10,125.25 L272.35,124.83 L272.60,125.21 L272.85,124.80 L273.10,125.26 L273.35,126.27 L273.60,126.04 L273.85,125.41 L274.10,125.66 L274.35,126.01 L274.60,125.49 L274.85,124.92 L275.10,125.00 L275.35,125.92 L275.60,126.04 L275.85,125.98 L276.10,125.75 L276.35,125.66 L276.60,125.63 L276.85,125.47 L277.10,125.65 L277.35,125.67 L277.60,125.34 L277.85,126.13 L278.10,125.85 L278.35,125.83 L278.60,125.39 L278.85,125.53 L279.10,125.42 L279.35,125.20 L279.60,125.43 L279.85,126.23 L280.10,125.79 L280.35,125.81 L280.60,125.67 L280.85,125.61 L281.10,125.40 L281.35,125.68 L281.60,125.39 L281.85,125.63 L282.10,125.18 L282.35,125.30 L282.60,125.47 L282.85,125.67 L283.10,125.29 L283.35,125.61 L283.60,125.74 L283.85,125.83 L284.10,125.66 L284.35,125.64 L284.60,125.52 L284.85,125.24 L285.10,125.65 L285.35,125.46 L285.60,125.67 L285.85,126.06 L286.10,125.87 L286.35,125.68 L286.60,125.50 L286.85,125.36 L287.10,125.20 L287.35,125.62 L287.60,126.02 L287.85,125.72 L288.10,125.38 L288.35,125.81 L288.60,125.33 L288.85,125.35 L289.10,125.86 L289.35,125.86 L289.60,126.04 L289.85,125.35 L290.10,125.66 L290.35,125.67 L290.60,125.57 L290.85,125.52 L291.10,125.06 L291.35,125.49 L291.60,125.32 L291.85,125.56 L292.10,125.35 L292.35,125.79 L292.60,125.69 L292.85,125.56 L293.10,125.56 L293.35,125.43 L293.60,125.88 L293.85,125.75 L294.10,125.62 L294.35,125.57 L294.60,125.57 L294.85,125.61 L295.10,125.42 L295.35,125.11 L295.60,124.92 L295.85,125.13 L296.10,125.75 L296.35,125.41 L296.60,125.77 L296.85,126.00 L297.10,125.68 L297.35,125.53 L297.60,125.59 L297.85,125.83 L298.10,125.44 L298.35,125.81 L298.60,126.24 L298.85,125.90 L299.10,125.81 L299.35,125.74 L299.60,125.52 L299.85,125.26 L300.10,125.82 L300.35,125.83 L300.60,125.23 L300.85,125.64 L301.10,126.01 L301.35,125.93 L301.60,125.83 L301.85,125.41 L302.10,125.35 L302.35,125.65 L302.60,125.94 L302.85,125.58 L303.10,126.07 L303.35,125.37 L303.60,125.48 L303.85,125.89 L304.10,125.30 L304.35,125.79 L304.60,125.83 L304.85,125.80 L305.10,125.64 L305.35,125.54 L305.60,125.26 L305.85,125.49 L306.10,125.41 L306.35,125.14 L306.60,125.24 L306.85,125.76 L307.10,125.48 L307.35,125.36 L307.60,125.49 L307.85,125.12 L308.10,125.74 L308.35,125.94 L308.60,126.18 L308.85,125.65 L309.10,125.84 L309.35,125.47 L309.60,125.37 L309.85,125.42 L310.10,125.62 L310.35,125.49 L310.60,125.59 L310.85,125.35 L311.10,125.32 L311.35,125.73 L311.60,125.25 L311.85,125.49 L312.10,125.93 L312.35,125.69 L312.60,125.65 L312.85,125.45 L313.10,125.38 L313.35,125.79 L313.60,125.55 L313.85,125.59 L314.10,125.71 L314.35,125.34 L314.60,125.43 L314.85,124.67 L315.10,125.86 L315.35,125.84 L315.60,125.19 L315.85,125.57 L316.10,125.54 L316.35,125.14 L316.60,125.35 L316.85,125.27 L317.10,125.27 L317.35,125.40 L317.60,125.61 L317.85,125.30 L318.10,125.29 L318.35,125.24 L318.60,125.07 L318.85,125.53 L319.10,126.02 L319.35,125.81 L319.60,125.24 L319.85,125.54 L320.10,125.34 L320.35,125.70 L320.60,125.11 L320.85,125.77 L321.10,125.18 L321.35,125.69 L321.60,125.94 L321.85,125.68 L322.10,125.96 L322.35,125.61 L322.60,125.99 L322.85,125.49 L323.10,125.58 L323.35,125.82 L323.60,126.24 L323.85,125.46 L324.10,125.39 L324.35,125.91 L324.60,125.65 L324.85,125.41 L325.10,125.55 L325.35,125.81 L325.60,125.40 L325.85,125.36 L326.10,125.73 L326.35,125.78 L326.60,125.48 L326.85,125.60 L327.10,125.90 L327.35,125.30 L327.60,125.36 L327.85,125.99 L328.10,125.97 L328.35,126.14 L328.60,125.80 L328.85,125.72 L329.10,125.74 L329.35,125.25" fill="none" stroke="#ff00ff" stroke-width="1.05" stroke-linejoin="round"/><path d="M110.85,123.65 L111.10,122.17 L111.35,118.33 L111.60,116.17 L111.85,118.17 L112.10,121.42 L112.35,123.13 M166.85,122.39 L167.10,120.47 L167.35,113.38 L167.60,86.50 L167.85,47.35 L167.90,45.37 L168.10,68.64 L168.35,105.34 L168.60,118.78 L168.85,121.19 L169.10,122.75 M260.35,122.57 L260.60,121.46 L260.85,120.56 L261.10,118.13 L261.35,116.93 L261.40,116.95 L261.60,117.85 L261.85,118.95 L262.10,120.96 L262.35,122.69" fill="none" stroke="#ff00ff" stroke-width="0.7" stroke-linejoin="round"/><path d="M8.60,101.90 L8.85,101.87 L9.10,101.35 L9.35,101.58 L9.60,101.63 L9.85,101.79 L10.10,102.67 L10.35,101.62 L10.60,101.47 L10.85,101.48 L11.10,102.10 L11.35,101.53 L11.60,101.66 L11.85,102.14 L12.10,102.04 L12.35,101.38 L12.60,102.52 L12.85,102.00 L13.10,102.20 L13.35,102.03 L13.60,102.53 L13.85,101.63 L14.10,101.44 L14.35,101.98 L14.60,102.43 L14.85,101.88 L15.10,102.28 L15.35,102.48 L15.60,101.28 L15.85,102.42 L16.10,102.38 L16.35,101.63 L16.60,101.72 L16.85,101.63 L17.10,102.14 L17.35,101.61 L17.60,102.18 L17.85,102.43 L18.10,101.12 L18.35,101.94 L18.60,101.81 L18.85,101.65 L19.10,102.04 L19.35,101.74 L19.60,101.10 L19.85,101.50 L20.10,101.79 L20.35,101.45 L20.60,101.36 L20.85,103.07 L21.10,102.81 L21.35,102.62 L21.60,101.92 L21.85,100.93 L22.10,101.70 L22.35,102.14 L22.60,101.72 L22.85,101.66 L23.10,102.20 L23.35,103.00 L23.60,102.25 L23.85,102.02 L24.10,101.75 L24.35,102.70 L24.60,102.27 L24.85,102.02 L25.10,101.87 L25.35,101.79 L25.60,102.28 L25.85,103.08 L26.10,102.29 L26.35,102.34 L26.60,101.82 L26.85,102.16 L27.10,101.58 L27.35,102.72 L27.60,102.03 L27.85,102.39 L28.10,102.36 L28.35,102.91 L28.60,102.60 L28.85,102.45 L29.10,101.43 L29.35,101.54 L29.60,101.56 L29.85,101.60 L30.10,101.76 L30.35,102.53 L30.60,102.19 L30.85,102.11 L31.10,101.68 L31.35,101.59 L31.60,101.54 L31.85,102.60 L32.10,102.33 L32.35,102.53 L32.60,102.28 L32.85,101.77 L33.10,101.98 L33.35,101.23 L33.60,102.40 L33.85,102.27 L34.10,102.32 L34.35,102.31 L34.60,102.49 L34.85,102.15 L35.10,102.19 L35.35,101.90 L35.60,102.10 L35.85,102.43 L36.10,102.67 L36.35,102.05 L36.60,101.47 L36.85,101.30 L37.10,101.99 L37.35,101.95 L37.60,102.60 L37.85,103.03 L38.10,102.10 L38.35,102.93 L38.60,102.89 L38.85,101.91 L39.10,102.09 L39.35,102.58 L39.60,101.93 L39.85,101.86 L40.10,102.61 L40.35,102.08 L40.60,102.06 L40.85,102.63 L41.10,102.47 L41.35,102.58 L41.60,103.15 L41.85,102.99 L42.10,101.75 L42.35,102.75 L42.60,102.50 L42.85,102.63 L43.10,102.93 L43.35,103.35 L43.60,102.88 L43.85,102.41 L44.10,102.46 L44.35,101.64 L44.60,102.33 L44.85,101.84 L45.10,100.19 L45.35,98.34 L45.60,97.29 L45.85,98.72 L46.10,101.01 L46.35,101.70 L46.60,101.83 L46.85,102.22 L47.10,102.93 L47.35,102.32 L47.60,102.20 L47.85,103.39 L48.10,102.27 L48.35,102.74 L48.60,102.97 L48.85,102.65 L49.10,102.53 L49.35,103.14 L49.60,102.74 L49.85,102.88 L50.10,102.70 L50.35,103.30 L50.60,102.22 L50.85,101.95 L51.10,102.16 L51.35,102.51 L51.60,102.52 L51.85,102.65 L52.10,102.39 L52.35,102.75 L52.60,101.99 L52.85,102.01 L53.10,102.44 L53.35,102.30 L53.60,102.24 L53.85,102.34 L54.10,102.35 L54.35,102.82 L54.60,103.11 L54.85,103.32 L55.10,102.82 L55.35,102.36 L55.60,102.15 L55.85,102.10 L56.10,102.01 L56.35,103.02 L56.60,103.55 L56.85,102.82 L57.10,102.75 L57.35,101.79 L57.60,102.59 L57.85,102.50 L58.10,102.73 L58.35,102.39 L58.60,102.38 L58.85,102.34 L59.10,102.59 L59.35,103.72 L59.60,103.16 L59.85,102.21 L60.10,102.63 L60.35,102.78 L60.60,103.64 L60.85,102.20 L61.10,103.09 L61.35,103.38 L61.60,103.96 L61.85,103.74 L62.10,102.82 L62.35,102.11 L62.60,102.32 L62.85,102.53 L63.10,102.74 L63.35,102.52 L63.60,102.32 L63.85,103.13 L64.10,103.00 L64.35,102.74 L64.60,102.67 L64.85,102.58 L65.10,102.60 L65.35,104.00 L65.60,102.92 L65.85,102.77 L66.10,103.59 L66.35,102.92 L66.60,103.05 L66.85,102.54 L67.10,102.66 L67.35,102.20 L67.60,103.24 L67.85,103.98 L68.10,103.28 L68.35,103.27 L68.60,103.65 L68.85,103.58 L69.10,102.68 L69.35,102.65 L69.60,102.94 L69.85,103.55 L70.10,102.59 L70.35,102.75 L70.60,102.95 L70.85,103.10 L71.10,103.17 L71.35,103.01 L71.60,103.58 L71.85,102.96 L72.10,104.00 L72.35,103.36 L72.60,103.36 L72.85,102.63 L73.10,103.13 L73.35,102.52 L73.60,102.45 L73.85,103.40 L74.10,103.11 L74.35,102.50 L74.60,102.20 L74.85,103.34 L75.10,103.21 L75.35,103.52 L75.60,103.64 L75.85,103.53 L76.10,101.96 L76.35,101.53 L76.60,103.02 L76.85,102.22 L77.10,103.26 L77.35,102.86 L77.60,102.06 L77.85,100.67 L78.10,98.11 L78.35,97.15 L78.40,97.17 L78.60,98.32 L78.85,100.95 L79.10,101.58 L79.35,102.85 L79.60,103.62 L79.85,102.71 L80.10,102.59 L80.35,102.65 L80.60,102.50 L80.85,102.41 L81.10,103.47 L81.35,103.96 L81.60,103.55 L81.85,103.01 L82.10,102.99 L82.35,103.32 L82.60,102.97 L82.85,103.17 L83.10,103.13 L83.35,103.74 L83.60,103.68 L83.85,103.39 L84.10,102.85 L84.35,103.13 L84.60,103.78 L84.85,104.19 L85.10,103.41 L85.35,104.50 L85.60,103.36 L85.85,103.24 L86.10,103.52 L86.35,103.16 L86.60,103.42 L86.85,103.48 L87.10,103.25 L87.35,103.35 L87.60,103.77 L87.85,104.18 L88.10,104.55 L88.35,103.61 L88.60,102.84 L88.85,103.13 L89.10,102.78 L89.35,103.42 L89.60,103.24 L89.85,103.62 L90.10,103.43 L90.35,103.50 L90.60,103.45 L90.85,104.10 L91.10,102.89 L91.35,104.00 L91.60,104.16 L91.85,103.91 L92.10,103.75 L92.35,103.76 L92.60,103.37 L92.85,103.15 L93.10,103.94 L93.35,104.03 L93.60,104.05 L93.85,103.68 L94.10,104.12 L94.35,104.08 L94.60,104.50 L94.85,103.64 L95.10,102.67 L95.35,103.10 L95.60,103.70 L95.85,103.12 L96.10,103.86 L96.35,103.40 L96.60,103.71 L96.85,103.77 L97.10,103.35 L97.35,103.88 L97.60,104.20 L97.85,103.51 L98.10,103.50 L98.35,103.46 L98.60,104.01 L98.85,104.14 L99.10,103.46 L99.35,103.55 L99.60,104.06 L99.85,103.89 L100.10,104.47 L100.35,103.77 L100.60,103.38 L100.85,103.13 L101.10,103.29 L101.35,102.96 L101.60,103.85 L101.85,104.41 L102.10,103.08 L102.35,102.99 L102.60,103.16 L102.85,103.55 L103.10,103.36 L103.35,104.10 L103.60,104.17 L103.85,103.42 L104.10,103.38 L104.35,103.08 L104.60,103.47 L104.85,103.65 L105.10,102.50 L105.35,102.77 L105.60,102.89 L105.85,103.75 L106.10,103.90 L106.35,103.45 L106.60,103.80 L106.85,104.91 L107.10,104.83 L107.35,103.61 L107.60,103.82 L107.85,103.75 L108.10,104.01 L108.35,103.48 L108.60,104.15 L108.85,104.46 L109.10,104.43 L109.35,103.44 L109.60,104.57 L109.85,103.50 L110.10,103.24 L110.35,104.24 L110.60,104.07 L110.85,103.28 L111.10,102.55 L111.35,100.65 L111.60,99.17 L111.85,99.82 L112.10,101.93 L112.35,103.27 L112.60,104.25 L112.85,104.54 L113.10,103.88 L113.35,103.63 L113.60,103.64 L113.85,104.30 L114.10,103.89 L114.35,104.91 L114.60,104.24 L114.85,104.15 L115.10,104.35 L115.35,104.04 L115.60,103.69 L115.85,104.09 L116.10,104.23 L116.35,103.88 L116.60,103.96 L116.85,103.96 L117.10,103.26 L117.35,103.66 L117.60,103.94 L117.85,103.64 L118.10,104.29 L118.35,104.25 L118.60,103.17 L118.85,103.78 L119.10,104.26 L119.35,104.04 L119.60,104.36 L119.85,104.33 L120.10,103.53 L120.35,104.11 L120.60,103.65 L120.85,103.13 L121.10,104.19 L121.35,103.83 L121.60,104.08 L121.85,104.48 L122.10,104.59 L122.35,104.04 L122.60,103.71 L122.85,103.89 L123.10,104.56 L123.35,104.17 L123.60,104.98 L123.85,104.88 L124.10,104.06 L124.35,104.87 L124.60,104.02 L124.85,104.09 L125.10,104.09 L125.35,103.74 L125.60,104.19 L125.85,104.57 L126.10,105.25 L126.35,104.84 L126.60,104.03 L126.85,104.34 L127.10,104.66 L127.35,104.14 L127.60,103.81 L127.85,104.01 L128.10,103.67 L128.35,104.08 L128.60,103.96 L128.85,104.53 L129.10,103.90 L129.35,103.38 L129.60,103.86 L129.85,103.19 L130.10,102.55 L130.35,102.74 L130.60,102.40 L130.85,102.32 L131.10,102.98 L131.35,104.25 L131.60,104.59 L131.85,103.94 L132.10,104.11 L132.35,103.43 L132.60,104.37 L132.85,104.13 L133.10,104.34 L133.35,104.04 L133.60,104.02 L133.85,103.47 L134.10,104.20 L134.35,103.96 L134.60,104.32 L134.85,104.72 L135.10,103.25 L135.35,104.47 L135.60,104.37 L135.85,104.35 L136.10,104.51 L136.35,103.92 L136.60,103.31 L136.85,103.78 L137.10,103.83 L137.35,103.17 L137.60,104.26 L137.85,104.31 L138.10,103.67 L138.35,104.09 L138.60,104.16 L138.85,104.14 L139.10,104.17 L139.35,104.57 L139.60,104.38 L139.85,105.01 L140.10,104.41 L140.35,104.78 L140.60,104.72 L140.85,103.61 L141.10,104.22 L141.35,104.41 L141.60,104.47 L141.85,104.47 L142.10,104.78 L142.35,104.62 L142.60,104.21 L142.85,104.68 L143.10,104.21 L143.35,104.34 L143.60,103.94 L143.85,103.58 L144.10,103.76 L144.35,104.82 L144.60,104.58 L144.85,104.04 L145.10,104.44 L145.35,103.83 L145.60,103.76 L145.85,103.44 L146.10,104.00 L146.35,104.57 L146.60,105.26 L146.85,104.24 L147.10,104.34 L147.35,104.46 L147.60,104.59 L147.85,103.94 L148.10,103.78 L148.35,104.48 L148.60,103.80 L148.85,104.37 L149.10,104.07 L149.35,104.26 L149.60,104.36 L149.85,103.66 L150.10,104.98 L150.35,103.74 L150.60,103.74 L150.85,104.26 L151.10,102.96 L151.35,103.75 L151.60,104.29 L151.85,104.11 L152.10,104.16 L152.35,104.07 L152.60,104.07 L152.85,104.15 L153.10,105.03 L153.35,104.51 L153.60,103.79 L153.85,104.07 L154.10,104.61 L154.35,104.73 L154.60,103.70 L154.85,103.94 L155.10,103.15 L155.35,103.86 L155.60,104.84 L155.85,104.48 L156.10,103.96 L156.35,103.62 L156.60,104.01 L156.85,104.09 L157.10,104.19 L157.35,104.34 L157.60,103.99 L157.85,103.19 L158.10,103.51 L158.35,103.58 L158.60,103.36 L158.85,104.13 L159.10,103.21 L159.35,103.59 L159.60,103.43 L159.85,103.15 L160.10,102.79 L160.35,102.23 L160.60,102.35 L160.85,102.33 L161.10,101.42 L161.35,101.95 L161.60,101.13 L161.85,101.48 L162.10,101.14 L162.35,101.92 L162.60,102.15 L162.85,102.37 L163.10,102.64 L163.35,101.71 L163.60,100.59 L163.85,101.11 L164.10,101.26 L164.35,101.77 L164.60,101.15 L164.85,99.60 L165.10,99.25 L165.35,98.16 L165.60,97.92 L165.85,98.44 L166.10,98.34 L166.35,99.15 L166.60,97.60 M168.10,99.79 L168.35,101.58 L168.60,102.71 L168.85,103.65 L169.10,104.24 L169.35,104.38 L169.60,103.71 L169.85,103.83 L170.10,103.55 L170.35,103.41 L170.60,104.34 L170.85,103.66 L171.10,104.38 L171.35,104.02 L171.60,104.19 L171.85,104.65 L172.10,104.03 L172.35,104.46 L172.60,103.99 L172.85,104.27 L173.10,104.31 L173.35,104.35 L173.60,103.85 L173.85,104.23 L174.10,104.49 L174.35,104.14 L174.60,104.63 L174.85,104.64 L175.10,104.38 L175.35,104.25 L175.60,104.44 L175.85,104.16 L176.10,104.58 L176.35,104.56 L176.60,104.98 L176.85,104.42 L177.10,104.05 L177.35,104.52 L177.60,104.40 L177.85,104.98 L178.10,104.10 L178.35,104.13 L178.60,104.30 L178.85,104.34 L179.10,104.62 L179.35,105.45 L179.60,104.60 L179.85,104.98 L180.10,104.27 L180.35,104.20 L180.60,104.49 L180.85,105.12 L181.10,104.67 L181.35,104.60 L181.60,104.21 L181.85,104.42 L182.10,105.20 L182.35,103.79 L182.60,103.24 L182.85,103.79 L183.10,103.40 L183.35,103.04 L183.60,102.72 L183.85,103.60 L184.10,103.54 L184.35,103.53 L184.60,104.11 L184.85,104.35 L185.10,104.17 L185.35,104.43 L185.60,103.74 L185.85,104.36 L186.10,103.99 L186.35,104.41 L186.60,105.05 L186.85,104.64 L187.10,105.34 L187.35,105.16 L187.60,104.87 L187.85,104.12 L188.10,104.55 L188.35,104.80 L188.60,104.96 L188.85,104.55 L189.10,104.04 L189.35,104.79 L189.60,103.97 L189.85,104.10 L190.10,103.74 L190.35,104.54 L190.60,104.98 L190.85,104.97 L191.10,104.27 L191.35,104.78 L191.60,104.77 L191.85,104.90 L192.10,105.04 L192.35,104.93 L192.60,105.31 L192.85,104.33 L193.10,104.82 L193.35,104.75 L193.60,104.22 L193.85,104.70 L194.10,104.58 L194.35,104.33 L194.60,104.86 L194.85,104.72 L195.10,105.07 L195.35,104.69 L195.60,105.28 L195.85,104.99 L196.10,104.95 L196.35,105.27 L196.60,105.62 L196.85,104.86 L197.10,104.83 L197.35,104.78 L197.60,104.79 L197.85,104.14 L198.10,105.38 L198.35,105.60 L198.60,105.44 L198.85,104.80 L199.10,104.10 L199.35,104.31 L199.60,104.76 L199.85,104.53 L200.10,104.12 L200.35,104.40 L200.60,104.04 L200.85,104.17 L201.10,104.74 L201.35,104.39 L201.60,104.18 L201.85,104.32 L202.10,104.46 L202.35,104.95 L202.60,105.17 L202.85,105.07 L203.10,104.59 L203.35,104.64 L203.60,105.45 L203.85,104.88 L204.10,104.62 L204.35,105.04 L204.60,104.48 L204.85,105.41 L205.10,105.58 L205.35,105.02 L205.60,103.67 L205.85,104.80 L206.10,105.10 L206.35,105.09 L206.60,105.78 L206.85,104.63 L207.10,104.63 L207.35,105.22 L207.60,104.95 L207.85,105.26 L208.10,104.87 L208.35,104.55 L208.60,104.38 L208.85,104.69 L209.10,104.70 L209.35,105.16 L209.60,104.94 L209.85,104.20 L210.10,105.12 L210.35,104.67 L210.60,104.45 L210.85,105.57 L211.10,104.90 L211.35,104.91 L211.60,105.02 L211.85,104.43 L212.10,104.86 L212.35,104.93 L212.60,104.66 L212.85,104.99 L213.10,105.17 L213.35,104.90 L213.60,104.07 L213.85,104.64 L214.10,105.05 L214.35,105.51 L214.60,105.23 L214.85,105.02 L215.10,104.48 L215.35,105.18 L215.60,105.84 L215.85,104.99 L216.10,104.73 L216.35,104.94 L216.60,105.10 L216.85,104.75 L217.10,104.85 L217.35,104.46 L217.60,104.71 L217.85,104.83 L218.10,104.63 L218.35,104.54 L218.60,105.49 L218.85,105.02 L219.10,105.11 L219.35,104.34 L219.60,104.72 L219.85,104.84 L220.10,105.67 L220.35,105.28 L220.60,104.90 L220.85,105.10 L221.10,104.98 L221.35,104.98 L221.60,104.18 L221.85,103.93 L222.10,104.73 L222.35,104.88 L222.60,104.96 L222.85,105.41 L223.10,104.87 L223.35,104.87 L223.60,104.61 L223.85,104.13 L224.10,104.32 L224.35,104.54 L224.60,104.84 L224.85,105.46 L225.10,105.07 L225.35,104.73 L225.60,104.22 L225.85,105.02 L226.10,104.61 L226.35,103.94 L226.60,104.85 L226.85,104.98 L227.10,105.06 L227.35,104.96 L227.60,104.58 L227.85,104.72 L228.10,104.49 L228.35,104.77 L228.60,105.02 L228.85,105.01 L229.10,104.65 L229.35,105.38 L229.60,104.77 L229.85,104.10 L230.10,105.31 L230.35,105.35 L230.60,105.41 L230.85,104.89 L231.10,104.71 L231.35,104.61 L231.60,105.12 L231.85,105.23 L232.10,105.20 L232.35,105.13 L232.60,104.58 L232.85,104.84 L233.10,104.95 L233.35,104.71 L233.60,105.09 L233.85,103.73 L234.10,104.33 L234.35,104.05 L234.60,104.02 L234.85,103.94 L235.10,103.87 L235.35,104.03 L235.60,104.01 L235.85,103.76 L236.10,104.59 L236.35,104.71 L236.60,104.24 L236.85,104.82 L237.10,104.79 L237.35,104.95 L237.60,104.81 L237.85,104.55 L238.10,104.88 L238.35,104.30 L238.60,105.32 L238.85,104.61 L239.10,104.61 L239.35,105.10 L239.60,104.94 L239.85,105.28 L240.10,105.67 L240.35,105.25 L240.60,104.84 L240.85,104.53 L241.10,104.78 L241.35,104.54 L241.60,104.81 L241.85,103.84 L242.10,104.48 L242.35,104.63 L242.60,104.56 L242.85,105.15 L243.10,105.14 L243.35,104.28 L243.60,105.27 L243.85,104.84 L244.10,105.02 L244.35,105.10 L244.60,104.81 L244.85,104.97 L245.10,105.13 L245.35,104.74 L245.60,105.03 L245.85,105.28 L246.10,104.92 L246.35,104.83 L246.60,104.73 L246.85,104.70 L247.10,104.75 L247.35,104.44 L247.60,104.82 L247.85,104.70 L248.10,105.10 L248.35,105.62 L248.60,105.33 L248.85,104.84 L249.10,105.11 L249.35,104.93 L249.60,104.68 L249.85,105.17 L250.10,105.42 L250.35,105.24 L250.60,104.96 L250.85,104.59 L251.10,104.83 L251.35,105.17 L251.60,105.12 L251.85,105.23 L252.10,104.69 L252.35,104.03 L252.60,105.20 L252.85,105.33 L253.10,105.60 L253.35,105.58 L253.60,105.32 L253.85,104.75 L254.10,104.38 L254.35,104.59 L254.60,104.52 L254.85,104.36 L255.10,104.75 L255.35,105.23 L255.60,104.74 L255.85,104.95 L256.10,105.12 L256.35,104.60 L256.60,104.70 L256.85,104.56 L257.10,104.32 L257.35,105.03 L257.60,105.20 L257.85,105.17 L258.10,104.83 L258.35,104.55 L258.60,105.12 L258.85,104.12 L259.10,104.68 L259.35,104.46 L259.60,104.07 L259.85,104.65 L260.10,104.48 L260.35,103.18 L260.60,102.20 L260.85,101.26 L261.10,100.12 L261.35,100.14 L261.40,99.15 L261.60,99.44 L261.85,100.84 L262.10,101.72 L262.35,102.68 L262.60,103.46 L262.85,104.11 L263.10,104.75 L263.35,104.29 L263.60,104.89 L263.85,104.37 L264.10,104.40 L264.35,105.09 L264.60,105.07 L264.85,105.21 L265.10,105.20 L265.35,104.70 L265.60,104.57 L265.85,104.92 L266.10,104.61 L266.35,104.92 L266.60,105.48 L266.85,104.50 L267.10,104.53 L267.35,105.22 L267.60,105.32 L267.85,104.94 L268.10,105.03 L268.35,104.81 L268.60,104.77 L268.85,105.03 L269.10,105.18 L269.35,104.43 L269.60,104.35 L269.85,104.96 L270.10,104.81 L270.35,105.21 L270.60,105.03 L270.85,104.87 L271.10,105.12 L271.35,106.07 L271.60,105.09 L271.85,104.69 L272.10,104.45 L272.35,105.23 L272.60,105.58 L272.85,105.14 L273.10,105.06 L273.35,105.00 L273.60,105.10 L273.85,104.96 L274.10,105.16 L274.35,105.17 L274.60,105.17 L274.85,105.62 L275.10,104.91 L275.35,104.87 L275.60,104.73 L275.85,104.93 L276.10,105.14 L276.35,105.62 L276.60,105.02 L276.85,104.95 L277.10,105.02 L277.35,104.72 L277.60,104.86 L277.85,104.36 L278.10,105.20 L278.35,105.33 L278.60,105.39 L278.85,105.66 L279.10,105.40 L279.35,105.53 L279.60,105.36 L279.85,105.16 L280.10,105.23 L280.35,105.35 L280.60,105.26 L280.85,104.57 L281.10,104.59 L281.35,104.71 L281.60,104.55 L281.85,104.72 L282.10,104.67 L282.35,104.61 L282.60,105.01 L282.85,105.49 L283.10,105.63 L283.35,105.70 L283.60,105.47 L283.85,104.33 L284.10,105.55 L284.35,105.15 L284.60,104.52 L284.85,104.68 L285.10,104.81 L285.35,104.79 L285.60,105.36 L285.85,105.10 L286.10,105.78 L286.35,105.64 L286.60,104.52 L286.85,104.86 L287.10,105.36 L287.35,105.24 L287.60,105.06 L287.85,105.03 L288.10,104.90 L288.35,104.88 L288.60,105.26 L288.85,105.07 L289.10,104.72 L289.35,104.43 L289.60,105.09 L289.85,104.92 L290.10,104.19 L290.35,104.95 L290.60,104.67 L290.85,105.06 L291.10,105.06 L291.35,105.39 L291.60,104.79 L291.85,105.57 L292.10,105.28 L292.35,105.80 L292.60,105.33 L292.85,105.12 L293.10,104.90 L293.35,105.76 L293.60,105.68 L293.85,105.26 L294.10,105.02 L294.35,104.96 L294.60,105.02 L294.85,105.14 L295.10,104.82 L295.35,104.92 L295.60,105.19 L295.85,104.98 L296.10,104.98 L296.35,105.51 L296.60,105.68 L296.85,105.37 L297.10,105.29 L297.35,105.25 L297.60,105.14 L297.85,105.20 L298.10,105.26 L298.35,104.80 L298.60,104.63 L298.85,104.81 L299.10,104.88 L299.35,105.31 L299.60,105.43 L299.85,105.13 L300.10,104.70 L300.35,104.58 L300.60,104.49 L300.85,105.06 L301.10,105.31 L301.35,104.91 L301.60,104.97 L301.85,105.15 L302.10,105.13 L302.35,105.29 L302.60,105.01 L302.85,105.01 L303.10,105.11 L303.35,105.56 L303.60,105.24 L303.85,105.46 L304.10,105.16 L304.35,105.45 L304.60,105.15 L304.85,104.73 L305.10,104.64 L305.35,105.36 L305.60,104.90 L305.85,105.03 L306.10,104.69 L306.35,105.14 L306.60,104.97 L306.85,105.64 L307.10,105.03 L307.35,105.46 L307.60,106.08 L307.85,105.77 L308.10,105.43 L308.35,104.89 L308.60,105.64 L308.85,105.77 L309.10,105.13 L309.35,105.16 L309.60,104.98 L309.85,104.88 L310.10,105.17 L310.35,105.34 L310.60,105.36 L310.85,105.59 L311.10,105.43 L311.35,105.34 L311.60,105.60 L311.85,104.95 L312.10,105.17 L312.35,105.37 L312.60,105.45 L312.85,104.92 L313.10,105.49 L313.35,104.78 L313.60,104.96 L313.85,105.50 L314.10,104.59 L314.35,105.08 L314.60,105.71 L314.85,105.55 L315.10,105.27 L315.35,105.18 L315.60,105.28 L315.85,104.74 L316.10,105.60 L316.35,105.09 L316.60,105.01 L316.85,105.54 L317.10,105.49 L317.35,105.35 L317.60,105.36 L317.85,105.19 L318.10,104.68 L318.35,104.57 L318.60,105.46 L318.85,105.46 L319.10,105.29 L319.35,105.69 L319.60,105.08 L319.85,105.02 L320.10,105.40 L320.35,104.93 L320.60,104.88 L320.85,105.13 L321.10,105.00 L321.35,105.31 L321.60,105.51 L321.85,105.05 L322.10,105.29 L322.35,105.49 L322.60,105.17 L322.85,105.34 L323.10,105.59 L323.35,105.07 L323.60,105.51 L323.85,106.04 L324.10,105.20 L324.35,104.71 L324.60,104.88 L324.85,105.10 L325.10,105.61 L325.35,105.46 L325.60,105.08 L325.85,104.55 L326.10,105.15 L326.35,105.83 L326.60,104.88 L326.85,105.30 L327.10,105.46 L327.35,105.58 L327.60,105.58 L327.85,105.70 L328.10,105.78 L328.35,105.53 L328.60,105.48 L328.85,105.21 L329.10,105.16 L329.35,104.95" fill="none" stroke="#108010" stroke-width="1.05" stroke-linejoin="round"/><path d="M166.35,99.15 L166.60,97.60 L166.85,88.82 L167.10,61.57 L167.30,43.89 L167.35,45.62 L167.60,74.57 L167.85,94.63 L168.10,99.79 L168.35,101.58" fill="none" stroke="#108010" stroke-width="0.7" stroke-linejoin="round"/><path d="M8.60,84.05 L8.85,84.76 L9.10,85.10 L9.35,84.11 L9.60,83.97 L9.85,84.56 L10.10,84.19 L10.35,84.57 L10.60,84.96 L10.85,84.52 L11.10,84.51 L11.35,83.04 L11.60,84.46 L11.85,84.03 L12.10,83.62 L12.35,83.91 L12.60,83.44 L12.85,83.34 L13.10,83.00 L13.35,83.61 L13.60,83.37 L13.85,83.72 L14.10,84.53 L14.35,84.17 L14.60,83.57 L14.85,84.40 L15.10,84.72 L15.35,84.28 L15.60,84.21 L15.85,84.10 L16.10,83.77 L16.35,84.72 L16.60,84.53 L16.85,84.22 L17.10,84.20 L17.35,84.26 L17.60,84.98 L17.85,84.10 L18.10,83.40 L18.35,84.29 L18.60,84.78 L18.85,84.65 L19.10,84.04 L19.35,83.59 L19.60,85.18 L19.85,83.95 L20.10,84.31 L20.35,84.21 L20.60,83.96 L20.85,84.00 L21.10,83.69 L21.35,83.78 L21.60,84.02 L21.85,84.40 L22.10,85.50 L22.35,84.08 L22.60,84.87 L22.85,84.44 L23.10,84.08 L23.35,83.63 L23.60,84.19 L23.85,83.87 L24.10,84.48 L24.35,84.51 L24.60,83.89 L24.85,84.90 L25.10,84.41 L25.35,84.46 L25.60,84.57 L25.85,84.36 L26.10,85.07 L26.35,85.38 L26.60,84.76 L26.85,85.12 L27.10,85.59 L27.35,85.01 L27.60,84.58 L27.85,85.18 L28.10,84.73 L28.35,84.43 L28.60,83.89 L28.85,84.55 L29.10,84.22 L29.35,84.57 L29.60,83.52 L29.85,84.00 L30.10,85.40 L30.35,85.63 L30.60,84.95 L30.85,84.66 L31.10,83.53 L31.35,84.69 L31.60,84.20 L31.85,83.45 L32.10,83.93 L32.35,84.09 L32.60,84.93 L32.85,84.94 L33.10,85.97 L33.35,85.57 L33.60,84.86 L33.85,84.91 L34.10,84.19 L34.35,85.06 L34.60,84.64 L34.85,84.84 L35.10,84.95 L35.35,84.80 L35.60,84.64 L35.85,85.19 L36.10,85.08 L36.35,83.57 L36.60,84.35 L36.85,84.67 L37.10,84.55 L37.35,84.94 L37.60,85.30 L37.85,84.98 L38.10,84.87 L38.35,85.41 L38.60,85.16 L38.85,85.21 L39.10,86.04 L39.35,85.55 L39.60,84.61 L39.85,85.52 L40.10,84.70 L40.35,84.92 L40.60,84.13 L40.85,85.25 L41.10,84.20 L41.35,85.22 L41.60,86.09 L41.85,85.41 L42.10,84.97 L42.35,84.45 L42.60,84.81 L42.85,85.24 L43.10,83.78 L43.35,84.33 L43.60,85.44 L43.85,84.83 L44.10,85.45 L44.35,85.17 L44.60,84.36 L44.85,84.56 L45.10,84.59 L45.35,81.67 L45.60,79.52 L45.85,82.00 L46.10,83.70 L46.35,84.51 L46.60,85.06 L46.85,84.86 L47.10,85.00 L47.35,85.45 L47.60,85.99 L47.85,85.13 L48.10,84.99 L48.35,86.61 L48.60,85.70 L48.85,84.25 L49.10,84.72 L49.35,84.40 L49.60,85.41 L49.85,84.66 L50.10,85.02 L50.35,85.99 L50.60,85.03 L50.85,85.25 L51.10,85.51 L51.35,85.87 L51.60,85.97 L51.85,86.07 L52.10,85.10 L52.35,85.38 L52.60,84.49 L52.85,85.20 L53.10,85.33 L53.35,86.20 L53.60,85.57 L53.85,85.15 L54.10,85.08 L54.35,84.84 L54.60,85.00 L54.85,84.97 L55.10,85.27 L55.35,85.07 L55.60,85.40 L55.85,85.81 L56.10,84.83 L56.35,84.85 L56.60,84.83 L56.85,86.42 L57.10,86.38 L57.35,85.77 L57.60,85.42 L57.85,85.03 L58.10,85.88 L58.35,85.58 L58.60,85.67 L58.85,85.36 L59.10,83.97 L59.35,84.45 L59.60,85.16 L59.85,85.66 L60.10,85.05 L60.35,85.51 L60.60,85.28 L60.85,85.00 L61.10,85.70 L61.35,84.94 L61.60,84.96 L61.85,86.39 L62.10,86.40 L62.35,85.86 L62.60,86.13 L62.85,85.33 L63.10,85.47 L63.35,85.82 L63.60,85.88 L63.85,85.87 L64.10,85.11 L64.35,85.99 L64.60,85.19 L64.85,85.75 L65.10,87.03 L65.35,86.33 L65.60,85.55 L65.85,85.82 L66.10,85.36 L66.35,85.32 L66.60,85.29 L66.85,85.54 L67.10,85.79 L67.35,86.22 L67.60,86.92 L67.85,86.18 L68.10,85.90 L68.35,85.36 L68.60,86.39 L68.85,86.08 L69.10,86.63 L69.35,86.10 L69.60,86.65 L69.85,85.68 L70.10,85.66 L70.35,85.75 L70.60,85.77 L70.85,86.04 L71.10,85.88 L71.35,84.87 L71.60,85.16 L71.85,85.44 L72.10,86.07 L72.35,85.78 L72.60,86.22 L72.85,86.24 L73.10,85.90 L73.35,85.05 L73.60,86.75 L73.85,86.25 L74.10,85.76 L74.35,86.09 L74.60,85.80 L74.85,85.97 L75.10,85.76 L75.35,86.98 L75.60,86.06 L75.85,86.19 L76.10,85.80 L76.35,86.48 L76.60,86.78 L76.85,86.15 L77.10,85.60 L77.35,85.91 L77.60,85.53 L77.85,84.97 L78.10,82.29 M78.60,80.66 L78.85,83.84 L79.10,85.91 L79.35,85.89 L79.60,86.21 L79.85,85.83 L80.10,85.83 L80.35,85.51 L80.60,85.92 L80.85,85.67 L81.10,84.99 L81.35,85.47 L81.60,85.34 L81.85,85.87 L82.10,85.99 L82.35,86.71 L82.60,86.24 L82.85,85.85 L83.10,85.89 L83.35,85.91 L83.60,85.95 L83.85,86.34 L84.10,85.96 L84.35,86.35 L84.60,86.66 L84.85,86.03 L85.10,86.29 L85.35,87.05 L85.60,86.57 L85.85,86.16 L86.10,86.51 L86.35,86.14 L86.60,85.92 L86.85,86.57 L87.10,85.85 L87.35,85.88 L87.60,86.19 L87.85,86.65 L88.10,86.52 L88.35,85.92 L88.60,86.04 L88.85,85.88 L89.10,86.23 L89.35,85.83 L89.60,85.26 L89.85,85.66 L90.10,84.80 L90.35,85.14 L90.60,84.84 L90.85,86.18 L91.10,86.05 L91.35,86.58 L91.60,87.54 L91.85,86.61 L92.10,86.44 L92.35,86.16 L92.60,86.46 L92.85,86.25 L93.10,86.68 L93.35,86.71 L93.60,86.58 L93.85,86.35 L94.10,86.36 L94.35,86.41 L94.60,86.41 L94.85,86.65 L95.10,86.16 L95.35,86.33 L95.60,86.73 L95.85,87.29 L96.10,86.71 L96.35,86.41 L96.60,86.46 L96.85,87.13 L97.10,86.27 L97.35,86.20 L97.60,86.37 L97.85,86.14 L98.10,86.35 L98.35,86.68 L98.60,86.36 L98.85,85.73 L99.10,86.71 L99.35,86.97 L99.60,86.53 L99.85,87.45 L100.10,86.86 L100.35,86.73 L100.60,86.22 L100.85,87.80 L101.10,87.82 L101.35,87.49 L101.60,87.51 L101.85,86.46 L102.10,86.45 L102.35,86.88 L102.60,86.70 L102.85,86.23 L103.10,86.79 L103.35,87.10 L103.60,86.72 L103.85,87.32 L104.10,86.77 L104.35,86.14 L104.60,85.65 L104.85,85.38 L105.10,86.11 L105.35,85.54 L105.60,86.60 L105.85,86.82 L106.10,86.21 L106.35,87.01 L106.60,87.02 L106.85,87.72 L107.10,87.19 L107.35,86.91 L107.60,87.24 L107.85,87.51 L108.10,86.60 L108.35,86.62 L108.60,87.42 L108.85,87.86 L109.10,86.59 L109.35,87.63 L109.60,87.34 L109.85,87.40 L110.10,87.25 L110.35,86.72 L110.60,86.61 L110.85,87.38 L111.10,85.56 L111.35,85.46 L111.60,85.74 L111.85,85.48 L112.10,86.34 L112.35,86.52 L112.60,86.46 L112.85,87.11 L113.10,86.96 L113.35,86.75 L113.60,87.26 L113.85,86.92 L114.10,87.08 L114.35,86.90 L114.60,87.71 L114.85,87.55 L115.10,87.21 L115.35,86.98 L115.60,86.93 L115.85,86.90 L116.10,86.72 L116.35,87.61 L116.60,86.80 L116.85,87.44 L117.10,87.47 L117.35,86.98 L117.60,86.90 L117.85,86.44 L118.10,86.84 L118.35,86.81 L118.60,87.35 L118.85,86.76 L119.10,86.76 L119.35,87.19 L119.60,86.25 L119.85,86.69 L120.10,87.49 L120.35,87.06 L120.60,87.21 L120.85,85.72 L121.10,86.53 L121.35,86.81 L121.60,86.41 L121.85,87.22 L122.10,86.37 L122.35,86.66 L122.60,87.09 L122.85,87.02 L123.10,86.81 L123.35,86.55 L123.60,86.93 L123.85,86.70 L124.10,87.52 L124.35,86.85 L124.60,86.57 L124.85,87.47 L125.10,87.81 L125.35,87.20 L125.60,86.66 L125.85,86.22 L126.10,86.63 L126.35,87.32 L126.60,87.15 L126.85,86.20 L127.10,86.84 L127.35,86.23 L127.60,87.19 L127.85,87.66 L128.10,86.93 L128.35,87.28 L128.60,86.66 L128.85,86.72 L129.10,87.13 L129.35,87.07 L129.60,86.35 L129.85,86.36 L130.10,84.20 L130.35,80.39 M130.85,81.86 L131.10,83.07 L131.35,85.64 L131.60,86.78 L131.85,86.75 L132.10,86.40 L132.35,86.39 L132.60,86.82 L132.85,86.82 L133.10,87.23 L133.35,87.22 L133.60,87.65 L133.85,86.88 L134.10,87.24 L134.35,87.27 L134.60,87.11 L134.85,87.29 L135.10,86.38 L135.35,86.92 L135.60,87.90 L135.85,87.43 L136.10,87.18 L136.35,87.52 L136.60,87.01 L136.85,86.60 L137.10,87.15 L137.35,87.44 L137.60,87.06 L137.85,87.75 L138.10,87.26 L138.35,87.03 L138.60,86.92 L138.85,88.06 L139.10,88.13 L139.35,86.69 L139.60,86.95 L139.85,86.81 L140.10,87.54 L140.35,87.16 L140.60,87.48 L140.85,87.03 L141.10,86.75 L141.35,87.72 L141.60,87.23 L141.85,86.97 L142.10,86.73 L142.35,87.25 L142.60,87.61 L142.85,87.16 L143.10,88.16 L143.35,87.96 L143.60,87.31 L143.85,87.37 L144.10,87.03 L144.35,87.29 L144.60,86.62 L144.85,86.74 L145.10,88.11 L145.35,87.40 L145.60,87.46 L145.85,86.86 L146.10,87.27 L146.35,86.97 L146.60,86.19 L146.85,86.87 L147.10,87.08 L147.35,87.10 L147.60,87.59 L147.85,87.33 L148.10,86.48 L148.35,86.69 L148.60,86.97 L148.85,87.09 L149.10,86.99 L149.35,86.48 L149.60,87.05 L149.85,86.80 L150.10,85.96 L150.35,85.86 L150.60,86.20 L150.85,86.49 L151.10,86.33 L151.35,86.43 L151.60,86.32 L151.85,86.72 L152.10,87.20 L152.35,87.11 L152.60,86.32 L152.85,87.31 L153.10,87.56 L153.35,86.79 L153.60,87.63 L153.85,86.93 L154.10,86.40 L154.35,87.28 L154.60,86.54 L154.85,86.21 L155.10,86.88 L155.35,86.36 L155.60,85.18 L155.85,84.68 L156.10,84.89 L156.35,85.22 L156.60,85.60 L156.85,84.57 L157.10,85.61 L157.35,85.24 L157.60,83.88 L157.85,82.29 M158.60,82.57 L158.85,84.43 L159.10,85.69 L159.35,86.56 L159.60,87.45 L159.85,86.65 L160.10,86.91 L160.35,87.19 L160.60,86.74 L160.85,86.71 L161.10,87.03 L161.35,87.07 L161.60,86.64 L161.85,87.13 L162.10,87.14 L162.35,87.12 L162.60,87.27 L162.85,86.42 L163.10,87.15 L163.35,86.72 L163.60,86.79 L163.85,86.67 L164.10,86.40 L164.35,87.02 L164.60,87.61 L164.85,86.93 L165.10,87.08 L165.35,86.14 L165.60,85.89 L165.85,85.79 L166.10,84.96 L166.35,83.45 M167.85,83.64 L168.10,85.67 L168.35,85.98 L168.60,86.80 L168.85,87.08 L169.10,87.57 L169.35,86.78 L169.60,87.34 L169.85,86.58 L170.10,87.49 L170.35,87.43 L170.60,87.50 L170.85,86.43 L171.10,87.61 L171.35,87.07 L171.60,86.89 L171.85,86.39 L172.10,86.76 L172.35,87.66 L172.60,87.90 L172.85,87.38 L173.10,86.91 L173.35,87.27 L173.60,86.51 L173.85,86.90 L174.10,86.89 L174.35,87.47 L174.60,86.52 L174.85,86.89 L175.10,87.29 L175.35,87.33 L175.60,86.59 L175.85,86.72 L176.10,86.26 L176.35,87.34 L176.60,86.95 L176.85,86.90 L177.10,86.93 L177.35,87.72 L177.60,87.12 L177.85,86.80 L178.10,87.53 L178.35,87.42 L178.60,87.09 L178.85,86.75 L179.10,87.12 L179.35,87.33 L179.60,87.08 L179.85,87.12 L180.10,87.45 L180.35,86.86 L180.60,87.35 L180.85,86.93 L181.10,86.62 L181.35,87.40 L181.60,87.37 L181.85,86.71 L182.10,86.68 L182.35,87.34 L182.60,86.84 L182.85,85.93 L183.10,86.14 L183.35,86.50 L183.60,86.14 L183.85,86.56 L184.10,86.13 L184.35,86.50 L184.60,86.48 L184.85,86.71 L185.10,86.77 L185.35,86.77 L185.60,86.49 L185.85,87.40 L186.10,86.87 L186.35,86.71 L186.60,87.67 L186.85,87.07 L187.10,87.62 L187.35,86.42 L187.60,87.23 L187.85,87.19 L188.10,86.96 L188.35,87.57 L188.60,86.86 L188.85,87.18 L189.10,87.07 L189.35,87.49 L189.60,86.85 L189.85,87.26 L190.10,87.18 L190.35,86.56 L190.60,88.38 L190.85,87.50 L191.10,87.46 L191.35,87.56 L191.60,87.10 L191.85,86.90 L192.10,86.29 L192.35,86.90 L192.60,87.20 L192.85,87.45 L193.10,87.31 L193.35,87.34 L193.60,87.33 L193.85,87.41 L194.10,87.41 L194.35,87.37 L194.60,87.52 L194.85,86.65 L195.10,87.04 L195.35,87.51 L195.60,87.20 L195.85,86.86 L196.10,87.09 L196.35,87.17 L196.60,87.38 L196.85,88.12 L197.10,87.90 L197.35,87.16 L197.60,87.42 L197.85,88.04 L198.10,87.22 L198.35,87.53 L198.60,87.14 L198.85,86.86 L199.10,87.14 L199.35,87.34 L199.60,87.73 L199.85,87.09 L200.10,87.77 L200.35,87.25 L200.60,87.15 L200.85,86.77 L201.10,86.40 L201.35,87.15 L201.60,86.97 L201.85,87.23 L202.10,87.05 L202.35,86.39 L202.60,86.91 L202.85,87.17 L203.10,87.22 L203.35,87.27 L203.60,87.18 L203.85,86.88 L204.10,87.12 L204.35,87.00 L204.60,87.19 L204.85,87.24 L205.10,87.31 L205.35,87.94 L205.60,86.81 L205.85,86.49 L206.10,87.31 L206.35,87.05 L206.60,87.29 L206.85,87.19 L207.10,87.33 L207.35,87.05 L207.60,87.11 L207.85,88.04 L208.10,87.78 L208.35,86.89 L208.60,87.12 L208.85,87.73 L209.10,87.31 L209.35,86.85 L209.60,87.41 L209.85,87.59 L210.10,87.21 L210.35,87.33 L210.60,87.14 L210.85,87.86 L211.10,88.14 L211.35,87.41 L211.60,87.11 L211.85,87.57 L212.10,87.41 L212.35,87.30 L212.60,86.90 L212.85,86.93 L213.10,86.84 L213.35,86.95 L213.60,87.16 L213.85,87.15 L214.10,87.96 L214.35,87.31 L214.60,87.12 L214.85,87.35 L215.10,87.75 L215.35,87.74 L215.60,86.89 L215.85,86.82 L216.10,86.86 L216.35,87.17 L216.60,87.37 L216.85,87.99 L217.10,87.91 L217.35,86.95 L217.60,86.26 L217.85,86.55 L218.10,86.88 L218.35,87.23 L218.60,87.44 L218.85,86.87 L219.10,87.59 L219.35,87.55 L219.60,86.34 L219.85,86.71 L220.10,87.86 L220.35,87.23 L220.60,87.42 L220.85,88.71 L221.10,87.54 L221.35,87.11 L221.60,86.38 L221.85,87.13 L222.10,87.37 L222.35,87.04 L222.60,87.77 L222.85,87.06 L223.10,87.77 L223.35,87.46 L223.60,87.11 L223.85,87.57 L224.10,87.93 L224.35,87.57 L224.60,86.83 L224.85,87.52 L225.10,87.24 L225.35,87.62 L225.60,87.65 L225.85,87.32 L226.10,87.62 L226.35,87.13 L226.60,87.69 L226.85,87.20 L227.10,87.55 L227.35,87.39 L227.60,87.14 L227.85,87.71 L228.10,86.84 L228.35,87.56 L228.60,87.20 L228.85,87.27 L229.10,87.27 L229.35,87.04 L229.60,87.37 L229.85,86.74 L230.10,86.16 L230.35,87.06 L230.60,86.77 L230.85,87.61 L231.10,87.28 L231.35,87.20 L231.60,86.85 L231.85,87.50 L232.10,86.93 L232.35,86.66 L232.60,86.55 L232.85,86.83 L233.10,87.47 L233.35,87.20 L233.60,86.70 L233.85,86.21 L234.10,86.07 L234.35,86.37 L234.60,85.94 L234.85,86.01 L235.10,86.71 L235.35,86.45 L235.60,86.68 L235.85,86.29 L236.10,86.71 L236.35,86.90 L236.60,87.14 L236.85,87.32 L237.10,87.02 L237.35,87.39 L237.60,87.57 L237.85,87.11 L238.10,87.28 L238.35,87.37 L238.60,86.82 L238.85,87.62 L239.10,87.15 L239.35,87.21 L239.60,86.69 L239.85,87.43 L240.10,87.50 L240.35,87.24 L240.60,86.99 L240.85,87.37 L241.10,86.80 L241.35,87.56 L241.60,87.66 L241.85,87.68 L242.10,87.79 L242.35,87.31 L242.60,87.45 L242.85,87.63 L243.10,87.50 L243.35,86.98 L243.60,87.17 L243.85,87.11 L244.10,87.37 L244.35,87.40 L244.60,87.69 L244.85,87.66 L245.10,87.69 L245.35,87.18 L245.60,87.70 L245.85,87.55 L246.10,88.03 L246.35,86.63 L246.60,85.03 L246.85,85.49 L247.10,84.11 L247.35,84.46 L247.60,85.05 L247.85,85.89 L248.10,87.12 L248.35,87.26 L248.60,87.26 L248.85,87.04 L249.10,87.14 L249.35,87.35 L249.60,87.44 L249.85,87.21 L250.10,86.67 L250.35,87.38 L250.60,87.33 L250.85,87.07 L251.10,87.55 L251.35,87.67 L251.60,87.43 L251.85,88.26 L252.10,87.14 L252.35,87.31 L252.60,87.47 L252.85,87.51 L253.10,87.78 L253.35,87.14 L253.60,87.07 L253.85,88.01 L254.10,87.46 L254.35,87.58 L254.60,87.70 L254.85,87.81 L255.10,87.58 L255.35,87.02 L255.60,87.22 L255.85,87.41 L256.10,87.67 L256.35,87.90 L256.60,87.09 L256.85,87.45 L257.10,87.43 L257.35,87.36 L257.60,86.54 L257.85,86.75 L258.10,87.09 L258.35,86.92 L258.60,87.02 L258.85,87.10 L259.10,87.30 L259.35,86.60 L259.60,86.46 L259.85,86.55 L260.10,86.92 L260.35,86.09 L260.60,86.20 L260.85,85.32 L261.10,84.09 L261.35,82.73 L261.60,82.71 L261.85,83.12 L262.10,83.83 L262.35,84.47 L262.60,85.46 L262.85,85.99 L263.10,86.47 L263.35,86.95 L263.60,86.77 L263.85,86.80 L264.10,87.76 L264.35,87.59 L264.60,88.04 L264.85,87.68 L265.10,87.17 L265.35,87.47 L265.60,87.43 L265.85,87.48 L266.10,87.53 L266.35,87.38 L266.60,87.70 L266.85,87.63 L267.10,86.70 L267.35,87.44 L267.60,87.53 L267.85,87.29 L268.10,87.90 L268.35,87.64 L268.60,87.95 L268.85,88.06 L269.10,87.92 L269.35,87.31 L269.60,87.38 L269.85,87.32 L270.10,86.98 L270.35,87.29 L270.60,87.56 L270.85,86.90 L271.10,87.47 L271.35,86.93 L271.60,86.88 L271.85,87.38 L272.10,87.05 L272.35,87.71 L272.60,87.74 L272.85,87.55 L273.10,87.20 L273.35,87.42 L273.60,87.90 L273.85,87.99 L274.10,87.11 L274.35,86.63 L274.60,87.22 L274.85,87.44 L275.10,87.55 L275.35,87.65 L275.60,87.05 L275.85,86.96 L276.10,86.99 L276.35,87.56 L276.60,87.40 L276.85,87.68 L277.10,87.66 L277.35,87.66 L277.60,87.43 L277.85,87.53 L278.10,87.30 L278.35,87.56 L278.60,87.53 L278.85,87.55 L279.10,87.58 L279.35,87.57 L279.60,87.41 L279.85,87.36 L280.10,87.23 L280.35,86.88 L280.60,87.71 L280.85,87.90 L281.10,87.04 L281.35,88.09 L281.60,87.99 L281.85,87.68 L282.10,87.49 L282.35,87.46 L282.60,87.22 L282.85,87.23 L283.10,87.39 L283.35,87.53 L283.60,86.85 L283.85,87.16 L284.10,87.08 L284.35,87.15 L284.60,86.99 L284.85,87.22 L285.10,87.42 L285.35,87.19 L285.60,87.71 L285.85,87.63 L286.10,87.45 L286.35,87.82 L286.60,87.25 L286.85,87.31 L287.10,86.99 L287.35,86.95 L287.60,88.00 L287.85,87.38 L288.10,87.09 L288.35,87.45 L288.60,87.54 L288.85,87.11 L289.10,87.41 L289.35,88.01 L289.60,87.83 L289.85,87.40 L290.10,87.07 L290.35,88.00 L290.60,87.99 L290.85,87.43 L291.10,87.44 L291.35,87.82 L291.60,87.98 L291.85,87.98 L292.10,87.66 L292.35,87.46 L292.60,87.49 L292.85,87.39 L293.10,87.69 L293.35,87.99 L293.60,87.36 L293.85,87.15 L294.10,87.45 L294.35,87.72 L294.60,87.15 L294.85,87.41 L295.10,87.18 L295.35,87.14 L295.60,87.91 L295.85,87.56 L296.10,87.31 L296.35,87.48 L296.60,87.46 L296.85,87.65 L297.10,87.84 L297.35,87.37 L297.60,87.80 L297.85,87.43 L298.10,87.52 L298.35,87.08 L298.60,87.08 L298.85,87.53 L299.10,87.51 L299.35,87.39 L299.60,87.49 L299.85,87.17 L300.10,87.84 L300.35,88.06 L300.60,87.52 L300.85,87.55 L301.10,87.26 L301.35,87.46 L301.60,87.04 L301.85,86.72 L302.10,86.58 L302.35,86.19 L302.60,86.27 L302.85,86.53 L303.10,86.37 L303.35,87.01 L303.60,86.99 L303.85,87.32 L304.10,86.95 L304.35,86.98 L304.60,87.54 L304.85,87.35 L305.10,87.65 L305.35,88.09 L305.60,87.86 L305.85,87.51 L306.10,88.07 L306.35,87.24 L306.60,86.95 L306.85,88.24 L307.10,87.51 L307.35,87.79 L307.60,87.40 L307.85,87.82 L308.10,87.76 L308.35,88.44 L308.60,87.61 L308.85,88.03 L309.10,87.76 L309.35,87.90 L309.60,87.70 L309.85,87.55 L310.10,87.11 L310.35,87.62 L310.60,87.01 L310.85,87.53 L311.10,87.83 L311.35,87.61 L311.60,87.85 L311.85,88.07 L312.10,87.97 L312.35,87.65 L312.60,87.62 L312.85,87.90 L313.10,87.67 L313.35,87.49 L313.60,87.31 L313.85,87.50 L314.10,87.52 L314.35,87.34 L314.60,87.67 L314.85,87.62 L315.10,87.08 L315.35,87.14 L315.60,87.77 L315.85,87.92 L316.10,87.96 L316.35,87.70 L316.60,87.55 L316.85,87.32 L317.10,87.60 L317.35,87.06 L317.60,86.86 L317.85,87.48 L318.10,87.58 L318.35,87.99 L318.60,87.31 L318.85,87.26 L319.10,87.26 L319.35,87.26 L319.60,87.80 L319.85,87.80 L320.10,87.89 L320.35,87.45 L320.60,87.66 L320.85,87.93 L321.10,87.42 L321.35,87.09 L321.60,86.80 L321.85,87.57 L322.10,87.42 L322.35,86.92 L322.60,87.53 L322.85,88.01 L323.10,88.14 L323.35,87.41 L323.60,87.78 L323.85,87.72 L324.10,87.83 L324.35,87.58 L324.60,87.03 L324.85,88.00 L325.10,87.84 L325.35,87.55 L325.60,87.56 L325.85,87.61 L326.10,87.78 L326.35,87.72 L326.60,86.98 L326.85,87.36 L327.10,87.39 L327.35,87.64 L327.60,87.39 L327.85,87.40 L328.10,86.92 L328.35,87.24 L328.60,87.30 L328.85,87.82 L329.10,87.89 L329.35,88.00" fill="none" stroke="#12128a" stroke-width="1.05" stroke-linejoin="round"/><path d="M77.85,84.97 L78.10,82.29 L78.35,79.53 L78.40,79.16 L78.60,80.66 L78.85,83.84 M130.10,84.20 L130.35,80.39 L130.60,80.10 L130.85,81.86 L131.10,83.07 M157.60,83.88 L157.85,82.29 L158.10,80.84 L158.20,79.75 L158.35,80.21 L158.60,82.57 L158.85,84.43 M166.10,84.96 L166.35,83.45 L166.60,78.33 L166.85,60.06 L167.10,41.47 L167.35,59.86 L167.60,77.96 L167.85,83.64 L168.10,85.67" fill="none" stroke="#12128a" stroke-width="0.7" stroke-linejoin="round"/><path d="M8.60,67.78 L8.85,67.61 L9.10,67.62 L9.35,67.42 L9.60,67.73 L9.85,66.91 L10.10,67.81 L10.35,67.37 L10.60,67.30 L10.85,66.92 L11.10,66.70 L11.35,67.22 L11.60,67.75 L11.85,67.67 L12.10,67.83 L12.35,67.44 L12.60,67.55 L12.85,67.38 L13.10,67.04 L13.35,67.38 L13.60,67.35 L13.85,67.79 L14.10,67.46 L14.35,67.51 L14.60,67.78 L14.85,67.92 L15.10,67.52 L15.35,67.48 L15.60,67.65 L15.85,67.92 L16.10,67.17 L16.35,67.21 L16.60,68.68 L16.85,67.66 L17.10,67.50 L17.35,66.71 L17.60,67.29 L17.85,67.47 L18.10,67.32 L18.35,67.38 L18.60,67.52 L18.85,67.77 L19.10,67.94 L19.35,67.09 L19.60,67.06 L19.85,67.78 L20.10,67.68 L20.35,67.22 L20.60,66.99 L20.85,67.25 L21.10,67.63 L21.35,67.95 L21.60,68.13 L21.85,67.95 L22.10,67.38 L22.35,68.36 L22.60,68.04 L22.85,67.66 L23.10,67.66 L23.35,68.03 L23.60,67.56 L23.85,67.55 L24.10,67.80 L24.35,68.22 L24.60,67.26 L24.85,67.94 L25.10,66.89 L25.35,67.26 L25.60,67.80 L25.85,68.07 L26.10,67.32 L26.35,68.13 L26.60,68.26 L26.85,67.62 L27.10,67.61 L27.35,67.58 L27.60,67.12 L27.85,68.69 L28.10,68.05 L28.35,67.32 L28.60,67.99 L28.85,68.01 L29.10,67.77 L29.35,67.92 L29.60,68.19 L29.85,67.64 L30.10,67.52 L30.35,68.52 L30.60,68.08 L30.85,67.79 L31.10,68.38 L31.35,67.00 L31.60,67.35 L31.85,68.09 L32.10,68.01 L32.35,67.99 L32.60,67.65 L32.85,67.58 L33.10,67.63 L33.35,67.76 L33.60,68.21 L33.85,68.38 L34.10,68.27 L34.35,68.43 L34.60,67.31 L34.85,67.74 L35.10,67.60 L35.35,68.58 L35.60,67.97 L35.85,68.19 L36.10,68.03 L36.35,67.62 L36.60,67.59 L36.85,68.16 L37.10,68.28 L37.35,67.92 L37.60,68.68 L37.85,68.15 L38.10,68.36 L38.35,68.24 L38.60,68.34 L38.85,67.53 L39.10,68.58 L39.35,68.47 L39.60,68.46 L39.85,68.61 L40.10,68.29 L40.35,67.47 L40.60,67.70 L40.85,67.54 L41.10,67.81 L41.35,68.33 L41.60,68.60 L41.85,67.50 L42.10,67.52 L42.35,68.03 L42.60,68.28 L42.85,68.16 L43.10,67.87 L43.35,68.22 L43.60,68.19 L43.85,67.86 L44.10,68.47 L44.35,67.56 L44.60,68.02 L44.85,68.11 L45.10,68.31 L45.35,68.49 L45.60,67.96 L45.85,68.08 L46.10,68.43 L46.35,68.77 L46.60,67.99 L46.85,68.37 L47.10,68.20 L47.35,67.81 L47.60,68.22 L47.85,67.70 L48.10,67.91 L48.35,67.94 L48.60,68.33 L48.85,67.06 L49.10,67.50 L49.35,67.61 L49.60,67.71 L49.85,67.90 L50.10,68.62 L50.35,68.05 L50.60,68.48 L50.85,68.22 L51.10,68.54 L51.35,68.54 L51.60,67.66 L51.85,67.83 L52.10,68.21 L52.35,68.26 L52.60,67.78 L52.85,68.45 L53.10,68.70 L53.35,68.35 L53.60,68.32 L53.85,67.91 L54.10,68.79 L54.35,69.25 L54.60,69.53 L54.85,68.65 L55.10,69.07 L55.35,68.27 L55.60,68.51 L55.85,68.36 L56.10,67.76 L56.35,68.06 L56.60,68.36 L56.85,68.37 L57.10,68.22 L57.35,68.41 L57.60,68.80 L57.85,68.77 L58.10,67.56 L58.35,68.11 L58.60,68.29 L58.85,67.53 L59.10,68.55 L59.35,68.90 L59.60,67.86 L59.85,67.46 L60.10,68.19 L60.35,69.09 L60.60,69.62 L60.85,68.77 L61.10,68.47 L61.35,68.19 L61.60,68.70 L61.85,68.25 L62.10,68.58 L62.35,68.95 L62.60,68.58 L62.85,68.16 L63.10,68.69 L63.35,69.07 L63.60,69.00 L63.85,68.00 L64.10,68.68 L64.35,68.77 L64.60,68.44 L64.85,68.10 L65.10,68.21 L65.35,68.34 L65.60,69.40 L65.85,68.81 L66.10,68.56 L66.35,68.84 L66.60,69.20 L66.85,68.74 L67.10,69.02 L67.35,68.95 L67.60,68.61 L67.85,69.28 L68.10,68.94 L68.35,69.22 L68.60,69.28 L68.85,68.57 L69.10,68.36 L69.35,68.55 L69.60,69.55 L69.85,68.84 L70.10,68.67 L70.35,69.29 L70.60,68.65 L70.85,69.42 L71.10,68.61 L71.35,68.87 L71.60,68.83 L71.85,68.96 L72.10,69.19 L72.35,69.06 L72.60,68.31 L72.85,68.33 L73.10,68.74 L73.35,69.06 L73.60,68.67 L73.85,68.46 L74.10,68.08 L74.35,68.93 L74.60,68.87 L74.85,68.42 L75.10,68.71 L75.35,69.33 L75.60,68.63 L75.85,68.55 L76.10,68.97 L76.35,68.15 L76.60,68.60 L76.85,68.70 L77.10,68.52 L77.35,68.64 L77.60,68.71 L77.85,68.88 L78.10,68.81 L78.35,69.14 L78.60,69.20 L78.85,68.88 L79.10,68.66 L79.35,68.05 L79.60,69.15 L79.85,69.02 L80.10,69.02 L80.35,69.26 L80.60,68.67 L80.85,68.63 L81.10,68.95 L81.35,67.65 L81.60,69.06 L81.85,68.96 L82.10,68.36 L82.35,68.57 L82.60,69.23 L82.85,68.71 L83.10,69.20 L83.35,69.09 L83.60,68.94 L83.85,68.89 L84.10,68.86 L84.35,68.79 L84.60,69.07 L84.85,69.20 L85.10,68.30 L85.35,69.52 L85.60,69.82 L85.85,68.55 L86.10,69.39 L86.35,69.15 L86.60,69.30 L86.85,68.99 L87.10,68.65 L87.35,69.24 L87.60,69.16 L87.85,69.19 L88.10,68.70 L88.35,69.00 L88.60,69.36 L88.85,68.55 L89.10,69.07 L89.35,68.53 L89.60,69.47 L89.85,69.93 L90.10,68.69 L90.35,69.03 L90.60,69.29 L90.85,68.84 L91.10,69.46 L91.35,69.29 L91.60,69.11 L91.85,69.56 L92.10,69.40 L92.35,70.21 L92.60,69.75 L92.85,69.37 L93.10,69.27 L93.35,68.75 L93.60,68.82 L93.85,68.81 L94.10,69.30 L94.35,69.25 L94.60,68.71 L94.85,69.16 L95.10,69.05 L95.35,68.88 L95.60,69.27 L95.85,68.99 L96.10,68.80 L96.35,68.88 L96.60,69.10 L96.85,68.57 L97.10,68.81 L97.35,69.22 L97.60,69.43 L97.85,69.19 L98.10,68.97 L98.35,68.59 L98.60,69.39 L98.85,68.82 L99.10,68.74 L99.35,69.39 L99.60,68.85 L99.85,68.73 L100.10,69.21 L100.35,69.42 L100.60,69.24 L100.85,68.54 L101.10,69.15 L101.35,68.99 L101.60,68.98 L101.85,69.36 L102.10,69.36 L102.35,68.69 L102.60,69.45 L102.85,69.13 L103.10,69.07 L103.35,68.87 L103.60,69.22 L103.85,69.43 L104.10,68.90 L104.35,68.60 L104.60,69.75 L104.85,69.17 L105.10,68.60 L105.35,68.42 L105.60,67.64 L105.85,67.94 L106.10,68.24 L106.35,69.05 L106.60,70.36 L106.85,69.99 L107.10,69.23 L107.35,69.91 L107.60,69.88 L107.85,69.95 L108.10,69.25 L108.35,69.37 L108.60,69.07 L108.85,69.46 L109.10,69.77 L109.35,69.42 L109.60,69.48 L109.85,69.78 L110.10,69.31 L110.35,69.08 L110.60,69.58 L110.85,68.87 L111.10,69.82 L111.35,69.13 L111.60,69.17 L111.85,69.00 L112.10,69.96 L112.35,70.05 L112.60,69.66 L112.85,69.74 L113.10,70.05 L113.35,69.56 L113.60,68.97 L113.85,69.05 L114.10,69.11 L114.35,68.46 L114.60,69.18 L114.85,69.29 L115.10,69.59 L115.35,69.50 L115.60,69.91 L115.85,69.30 L116.10,69.53 L116.35,69.77 L116.60,69.45 L116.85,69.44 L117.10,68.85 L117.35,69.41 L117.60,69.41 L117.85,69.83 L118.10,69.49 L118.35,69.64 L118.60,70.03 L118.85,69.12 L119.10,69.44 L119.35,69.05 L119.60,69.27 L119.85,69.39 L120.10,69.23 L120.35,69.73 L120.60,69.28 L120.85,69.38 L121.10,69.53 L121.35,69.50 L121.60,69.62 L121.85,69.35 L122.10,69.96 L122.35,69.79 L122.60,69.77 L122.85,69.70 L123.10,69.52 L123.35,69.59 L123.60,69.77 L123.85,70.00 L124.10,69.81 L124.35,69.45 L124.60,69.62 L124.85,69.19 L125.10,69.55 L125.35,69.43 L125.60,69.46 L125.85,69.40 L126.10,69.10 L126.35,69.23 L126.60,69.34 L126.85,69.48 L127.10,69.51 L127.35,69.26 L127.60,69.12 L127.85,69.58 L128.10,68.90 L128.35,69.87 L128.60,69.52 L128.85,68.88 L129.10,68.23 L129.35,67.43 L129.60,65.32 M131.10,64.18 L131.35,66.90 L131.60,68.44 L131.85,68.73 L132.10,68.59 L132.35,69.18 L132.60,69.72 L132.85,69.40 L133.10,69.19 L133.35,68.97 L133.60,69.22 L133.85,69.62 L134.10,69.51 L134.35,68.97 L134.60,69.54 L134.85,69.08 L135.10,69.49 L135.35,69.53 L135.60,69.59 L135.85,69.51 L136.10,69.28 L136.35,69.32 L136.60,69.66 L136.85,69.61 L137.10,69.96 L137.35,69.64 L137.60,69.90 L137.85,69.67 L138.10,69.54 L138.35,70.07 L138.60,69.27 L138.85,69.36 L139.10,69.88 L139.35,70.02 L139.60,69.71 L139.85,69.52 L140.10,69.58 L140.35,69.90 L140.60,68.95 L140.85,68.85 L141.10,69.22 L141.35,69.13 L141.60,69.34 L141.85,69.43 L142.10,69.35 L142.35,69.54 L142.60,69.50 L142.85,69.38 L143.10,69.46 L143.35,69.47 L143.60,69.40 L143.85,70.00 L144.10,69.76 L144.35,69.34 L144.60,70.12 L144.85,69.83 L145.10,69.42 L145.35,69.50 L145.60,69.12 L145.85,69.26 L146.10,69.33 L146.35,69.87 L146.60,70.40 L146.85,69.96 L147.10,69.76 L147.35,69.69 L147.60,69.93 L147.85,69.84 L148.10,69.28 L148.35,69.24 L148.60,69.46 L148.85,69.85 L149.10,69.50 L149.35,68.80 L149.60,69.73 L149.85,70.20 L150.10,69.79 L150.35,69.46 L150.60,69.79 L150.85,69.92 L151.10,69.73 L151.35,69.47 L151.60,69.13 L151.85,69.92 L152.10,69.41 L152.35,69.84 L152.60,69.26 L152.85,69.21 L153.10,70.24 L153.35,69.10 L153.60,69.57 L153.85,69.41 L154.10,69.94 L154.35,69.47 L154.60,69.52 L154.85,70.02 L155.10,69.24 L155.35,69.16 L155.60,69.19 L155.85,68.56 L156.10,68.66 L156.35,67.94 L156.60,67.32 L156.85,64.23 M158.35,64.44 L158.60,66.74 L158.85,68.04 L159.10,68.64 L159.35,69.40 L159.60,68.75 L159.85,68.96 L160.10,68.98 L160.35,70.41 L160.60,69.46 L160.85,69.50 L161.10,69.23 L161.35,69.58 L161.60,69.56 L161.85,69.25 L162.10,69.52 L162.35,69.20 L162.60,68.98 L162.85,69.72 L163.10,69.53 L163.35,69.08 L163.60,68.48 L163.85,69.28 L164.10,68.32 L164.35,67.65 L164.60,67.17 L164.85,66.53 L165.10,65.30 L165.35,64.40 L165.60,64.66 L165.85,64.85 L166.10,64.53 L166.35,64.15 M168.60,65.50 L168.85,67.31 L169.10,67.49 L169.35,68.32 L169.60,67.88 L169.85,68.68 L170.10,69.18 L170.35,68.45 L170.60,69.07 L170.85,69.51 L171.10,69.30 L171.35,69.21 L171.60,69.66 L171.85,69.47 L172.10,69.49 L172.35,69.38 L172.60,69.76 L172.85,69.78 L173.10,69.56 L173.35,69.84 L173.60,69.69 L173.85,69.85 L174.10,68.90 L174.35,69.06 L174.60,69.48 L174.85,70.06 L175.10,70.12 L175.35,69.70 L175.60,69.63 L175.85,70.12 L176.10,69.66 L176.35,69.24 L176.60,69.54 L176.85,69.96 L177.10,69.95 L177.35,70.32 L177.60,69.84 L177.85,70.26 L178.10,69.55 L178.35,69.81 L178.60,69.77 L178.85,70.03 L179.10,69.23 L179.35,69.94 L179.60,69.80 L179.85,70.06 L180.10,70.51 L180.35,69.45 L180.60,70.20 L180.85,69.79 L181.10,69.52 L181.35,69.83 L181.60,69.46 L181.85,69.57 L182.10,70.24 L182.35,70.10 L182.60,69.98 L182.85,70.15 L183.10,69.31 L183.35,69.67 L183.60,69.49 L183.85,69.97 L184.10,69.96 L184.35,69.49 L184.60,70.26 L184.85,70.58 L185.10,69.74 L185.35,70.06 L185.60,69.96 L185.85,69.54 L186.10,69.86 L186.35,69.73 L186.60,69.55 L186.85,70.10 L187.10,70.23 L187.35,69.25 L187.60,69.24 L187.85,69.68 L188.10,69.40 L188.35,70.28 L188.60,69.82 L188.85,70.27 L189.10,69.72 L189.35,69.79 L189.60,70.00 L189.85,70.44 L190.10,70.17 L190.35,69.43 L190.60,69.77 L190.85,69.88 L191.10,70.10 L191.35,70.80 L191.60,70.30 L191.85,69.72 L192.10,69.74 L192.35,69.85 L192.60,69.56 L192.85,69.73 L193.10,69.67 L193.35,70.08 L193.60,69.78 L193.85,70.69 L194.10,69.91 L194.35,69.37 L194.60,69.81 L194.85,69.75 L195.10,69.56 L195.35,70.14 L195.60,69.83 L195.85,70.01 L196.10,69.97 L196.35,69.92 L196.60,69.61 L196.85,69.47 L197.10,69.07 L197.35,70.09 L197.60,70.24 L197.85,69.90 L198.10,69.99 L198.35,69.72 L198.60,70.01 L198.85,69.75 L199.10,69.52 L199.35,69.65 L199.60,69.85 L199.85,69.99 L200.10,70.65 L200.35,69.36 L200.60,70.09 L200.85,70.04 L201.10,69.39 L201.35,69.97 L201.60,70.70 L201.85,69.73 L202.10,69.61 L202.35,69.61 L202.60,70.07 L202.85,70.02 L203.10,70.33 L203.35,70.42 L203.60,69.73 L203.85,69.89 L204.10,69.81 L204.35,70.14 L204.60,69.55 L204.85,70.06 L205.10,70.40 L205.35,70.27 L205.60,69.69 L205.85,69.64 L206.10,69.83 L206.35,69.67 L206.60,69.72 L206.85,69.53 L207.10,69.21 L207.35,70.08 L207.60,70.42 L207.85,69.86 L208.10,69.64 L208.35,70.20 L208.60,69.99 L208.85,69.71 L209.10,69.62 L209.35,69.24 L209.60,70.11 L209.85,70.25 L210.10,69.94 L210.35,69.91 L210.60,69.53 L210.85,69.83 L211.10,69.96 L211.35,69.70 L211.60,69.85 L211.85,69.88 L212.10,69.40 L212.35,69.65 L212.60,70.45 L212.85,70.16 L213.10,69.64 L213.35,70.39 L213.60,69.96 L213.85,69.99 L214.10,70.31 L214.35,70.77 L214.60,70.62 L214.85,69.73 L215.10,70.39 L215.35,70.75 L215.60,70.33 L215.85,69.71 L216.10,70.01 L216.35,70.05 L216.60,69.88 L216.85,69.68 L217.10,70.01 L217.35,69.96 L217.60,70.23 L217.85,70.37 L218.10,69.96 L218.35,70.02 L218.60,69.87 L218.85,70.47 L219.10,70.57 L219.35,70.14 L219.60,70.05 L219.85,69.22 L220.10,69.61 L220.35,70.01 L220.60,69.97 L220.85,70.07 L221.10,69.92 L221.35,70.50 L221.60,70.03 L221.85,69.72 L222.10,70.35 L222.35,70.16 L222.60,70.15 L222.85,70.03 L223.10,70.28 L223.35,70.46 L223.60,70.01 L223.85,70.70 L224.10,70.39 L224.35,70.04 L224.60,69.49 L224.85,69.77 L225.10,69.86 L225.35,69.98 L225.60,69.92 L225.85,69.96 L226.10,69.88 L226.35,70.39 L226.60,69.78 L226.85,69.82 L227.10,69.71 L227.35,69.74 L227.60,70.28 L227.85,70.10 L228.10,70.62 L228.35,70.10 L228.60,70.13 L228.85,70.19 L229.10,69.39 L229.35,70.13 L229.60,69.74 L229.85,69.73 L230.10,69.98 L230.35,69.68 L230.60,69.92 L230.85,69.98 L231.10,70.12 L231.35,70.25 L231.60,70.47 L231.85,70.23 L232.10,69.47 L232.35,69.38 L232.60,69.69 L232.85,69.94 L233.10,69.75 L233.35,69.35 L233.60,69.61 L233.85,68.97 L234.10,68.16 L234.35,68.02 L234.60,67.48 L234.85,68.12 L235.10,68.04 L235.35,68.87 L235.60,69.67 L235.85,70.06 L236.10,69.83 L236.35,70.25 L236.60,70.05 L236.85,70.24 L237.10,69.98 L237.35,69.53 L237.60,69.79 L237.85,69.51 L238.10,69.36 L238.35,69.17 L238.60,70.05 L238.85,69.95 L239.10,69.99 L239.35,70.45 L239.60,70.11 L239.85,70.16 L240.10,69.79 L240.35,70.15 L240.60,70.08 L240.85,70.32 L241.10,69.82 L241.35,69.34 L241.60,70.11 L241.85,69.93 L242.10,70.07 L242.35,69.93 L242.60,70.20 L242.85,70.02 L243.10,70.13 L243.35,70.06 L243.60,70.45 L243.85,70.78 L244.10,70.21 L244.35,70.06 L244.60,68.90 L244.85,69.49 L245.10,68.37 L245.35,66.98 L245.60,64.31 M246.60,66.73 L246.85,68.82 L247.10,69.51 L247.35,69.65 L247.60,69.64 L247.85,70.19 L248.10,70.10 L248.35,69.98 L248.60,69.12 L248.85,69.47 L249.10,70.09 L249.35,69.65 L249.60,69.92 L249.85,70.00 L250.10,70.02 L250.35,70.09 L250.60,69.71 L250.85,69.48 L251.10,69.54 L251.35,69.96 L251.60,70.12 L251.85,69.83 L252.10,69.29 L252.35,69.49 L252.60,69.84 L252.85,69.26 L253.10,69.86 L253.35,70.12 L253.60,69.99 L253.85,69.80 L254.10,70.44 L254.35,70.21 L254.60,69.89 L254.85,69.35 L255.10,70.25 L255.35,70.69 L255.60,70.42 L255.85,69.85 L256.10,69.95 L256.35,69.45 L256.60,69.69 L256.85,70.19 L257.10,69.81 L257.35,69.97 L257.60,70.14 L257.85,69.78 L258.10,69.42 L258.35,69.71 L258.60,69.87 L258.85,70.04 L259.10,69.70 L259.35,69.76 L259.60,70.07 L259.85,70.32 L260.10,69.34 L260.35,68.56 L260.60,68.76 L260.85,67.65 L261.10,66.79 L261.35,66.49 L261.60,65.97 L261.85,66.57 L262.10,67.68 L262.35,68.21 L262.60,68.67 L262.85,68.98 L263.10,70.05 L263.35,69.81 L263.60,69.93 L263.85,70.04 L264.10,70.11 L264.35,69.89 L264.60,69.62 L264.85,69.44 L265.10,69.53 L265.35,69.96 L265.60,70.24 L265.85,70.19 L266.10,70.13 L266.35,70.17 L266.60,69.92 L266.85,69.52 L267.10,70.38 L267.35,70.73 L267.60,71.06 L267.85,69.96 L268.10,69.48 L268.35,70.18 L268.60,69.97 L268.85,70.40 L269.10,69.52 L269.35,69.42 L269.60,69.37 L269.85,69.83 L270.10,70.10 L270.35,70.12 L270.60,70.54 L270.85,69.75 L271.10,70.18 L271.35,70.40 L271.60,69.79 L271.85,69.83 L272.10,69.52 L272.35,70.33 L272.60,69.61 L272.85,70.06 L273.10,69.88 L273.35,69.54 L273.60,69.88 L273.85,69.62 L274.10,69.96 L274.35,69.69 L274.60,69.72 L274.85,70.10 L275.10,69.82 L275.35,69.79 L275.60,70.17 L275.85,69.94 L276.10,70.48 L276.35,69.93 L276.60,70.06 L276.85,69.77 L277.10,69.83 L277.35,69.89 L277.60,69.70 L277.85,69.80 L278.10,70.37 L278.35,69.61 L278.60,69.70 L278.85,69.68 L279.10,70.02 L279.35,69.98 L279.60,70.06 L279.85,69.82 L280.10,69.83 L280.35,69.97 L280.60,69.99 L280.85,70.11 L281.10,69.44 L281.35,69.50 L281.60,69.63 L281.85,70.20 L282.10,70.23 L282.35,70.18 L282.60,70.34 L282.85,69.91 L283.10,69.82 L283.35,69.99 L283.60,69.94 L283.85,70.11 L284.10,69.94 L284.35,70.28 L284.60,69.64 L284.85,70.16 L285.10,70.13 L285.35,69.78 L285.60,70.04 L285.85,69.86 L286.10,69.80 L286.35,70.20 L286.60,69.79 L286.85,70.26 L287.10,69.78 L287.35,70.18 L287.60,70.89 L287.85,70.68 L288.10,70.26 L288.35,70.25 L288.60,69.61 L288.85,69.94 L289.10,70.25 L289.35,70.34 L289.60,70.26 L289.85,69.91 L290.10,69.92 L290.35,70.26 L290.60,70.32 L290.85,70.15 L291.10,69.38 L291.35,69.75 L291.60,69.86 L291.85,69.96 L292.10,69.81 L292.35,69.87 L292.60,69.61 L292.85,70.35 L293.10,69.95 L293.35,69.87 L293.60,69.64 L293.85,69.15 L294.10,69.93 L294.35,69.54 L294.60,70.37 L294.85,70.23 L295.10,70.01 L295.35,70.02 L295.60,69.71 L295.85,69.56 L296.10,70.20 L296.35,69.59 L296.60,69.68 L296.85,70.06 L297.10,69.66 L297.35,69.67 L297.60,69.93 L297.85,69.42 L298.10,70.20 L298.35,70.03 L298.60,69.87 L298.85,69.91 L299.10,69.74 L299.35,70.15 L299.60,69.50 L299.85,70.25 L300.10,69.92 L300.35,69.64 L300.60,69.65 L300.85,69.88 L301.10,69.97 L301.35,69.17 L301.60,69.08 L301.85,68.58 L302.10,67.26 L302.35,66.77 L302.60,67.25 L302.85,68.11 L303.10,68.92 L303.35,68.96 L303.60,68.92 L303.85,69.47 L304.10,69.89 L304.35,69.44 L304.60,70.00 L304.85,70.02 L305.10,70.32 L305.35,69.95 L305.60,70.15 L305.85,69.70 L306.10,69.25 L306.35,70.11 L306.60,70.32 L306.85,69.85 L307.10,69.81 L307.35,69.77 L307.60,70.16 L307.85,69.75 L308.10,69.77 L308.35,69.91 L308.60,70.04 L308.85,69.79 L309.10,69.71 L309.35,70.19 L309.60,70.18 L309.85,70.31 L310.10,69.86 L310.35,69.66 L310.60,70.05 L310.85,70.55 L311.10,70.18 L311.35,69.70 L311.60,69.87 L311.85,70.50 L312.10,69.85 L312.35,69.18 L312.60,69.98 L312.85,69.59 L313.10,70.09 L313.35,69.83 L313.60,70.17 L313.85,69.73 L314.10,69.73 L314.35,70.62 L314.60,69.97 L314.85,69.85 L315.10,69.59 L315.35,69.82 L315.60,70.46 L315.85,70.36 L316.10,69.96 L316.35,69.96 L316.60,69.71 L316.85,69.98 L317.10,69.52 L317.35,69.26 L317.60,70.18 L317.85,69.55 L318.10,69.89 L318.35,69.99 L318.60,69.58 L318.85,69.59 L319.10,69.42 L319.35,69.03 L319.60,68.73 L319.85,68.54 L320.10,68.36 L320.35,68.08 L320.60,69.03 L320.85,68.96 L321.10,69.40 L321.35,70.03 L321.60,70.15 L321.85,70.02 L322.10,70.01 L322.35,70.31 L322.60,69.94 L322.85,69.55 L323.10,69.56 L323.35,69.90 L323.60,70.19 L323.85,70.25 L324.10,69.80 L324.35,69.75 L324.60,70.03 L324.85,69.67 L325.10,70.08 L325.35,70.37 L325.60,69.85 L325.85,69.47 L326.10,69.85 L326.35,70.43 L326.60,70.20 L326.85,69.98 L327.10,69.81 L327.35,70.17 L327.60,69.73 L327.85,70.37 L328.10,70.08 L328.35,69.97 L328.60,70.57 L328.85,69.77 L329.10,70.13 L329.35,69.89" fill="none" stroke="#8000ff" stroke-width="1.05" stroke-linejoin="round"/><path d="M129.35,67.43 L129.60,65.32 L129.85,61.51 L130.10,54.52 L130.35,48.71 L130.40,48.60 L130.60,51.44 L130.85,58.43 L131.10,64.18 L131.35,66.90 M156.60,67.32 L156.85,64.23 L157.10,57.94 L157.35,50.07 L157.60,45.31 L157.85,50.73 L158.10,58.30 L158.35,64.44 L158.60,66.74 M166.10,64.53 L166.35,64.15 L166.60,62.36 L166.85,57.81 L167.10,51.24 L167.35,45.68 L167.50,44.05 L167.60,44.97 L167.85,50.50 L168.10,57.40 L168.35,62.76 L168.60,65.50 L168.85,67.31 M245.35,66.98 L245.60,64.31 L245.85,61.21 L246.00,59.89 L246.10,60.32 L246.35,63.75 L246.60,66.73 L246.85,68.82" fill="none" stroke="#8000ff" stroke-width="0.7" stroke-linejoin="round"/><path d="M8.60,44.07 L8.85,43.20 L9.10,44.00 L9.35,44.73 L9.60,43.51 L9.85,44.20 L10.10,43.92 L10.35,44.71 L10.60,43.94 L10.85,43.89 L11.10,44.89 L11.35,44.77 L11.60,43.94 L11.85,43.14 L12.10,43.33 L12.35,44.30 L12.60,44.33 L12.85,43.64 L13.10,44.70 L13.35,44.48 L13.60,44.00 L13.85,44.14 L14.10,44.27 L14.35,44.03 L14.60,44.52 L14.85,44.21 L15.10,44.24 L15.35,44.71 L15.60,44.46 L15.85,43.66 L16.10,44.16 L16.35,43.85 L16.60,44.36 L16.85,44.46 L17.10,43.81 L17.35,44.81 L17.60,45.24 L17.85,44.58 L18.10,43.89 L18.35,44.27 L18.60,44.55 L18.85,44.67 L19.10,44.65 L19.35,44.11 L19.60,44.22 L19.85,44.92 L20.10,45.84 L20.35,44.76 L20.60,44.53 L20.85,44.87 L21.10,45.30 L21.35,44.51 L21.60,43.38 L21.85,44.12 L22.10,44.14 L22.35,43.97 L22.60,43.83 L22.85,44.20 L23.10,45.67 L23.35,45.05 L23.60,44.66 L23.85,44.01 L24.10,44.36 L24.35,44.74 L24.60,44.55 L24.85,44.63 L25.10,45.43 L25.35,45.38 L25.60,44.88 L25.85,44.00 L26.10,44.56 L26.35,44.14 L26.60,44.29 L26.85,44.59 L27.10,44.89 L27.35,45.03 L27.60,43.76 L27.85,44.87 L28.10,44.50 L28.35,44.64 L28.60,44.43 L28.85,45.40 L29.10,44.89 L29.35,45.10 L29.60,44.53 L29.85,45.21 L30.10,44.90 L30.35,44.45 L30.60,44.66 L30.85,44.51 L31.10,44.52 L31.35,45.41 L31.60,45.03 L31.85,44.61 L32.10,44.21 L32.35,45.23 L32.60,44.89 L32.85,44.69 L33.10,44.60 L33.35,45.58 L33.60,45.49 L33.85,44.79 L34.10,44.66 L34.35,44.72 L34.60,44.85 L34.85,44.85 L35.10,44.30 L35.35,44.59 L35.60,44.99 L35.85,45.48 L36.10,45.31 L36.35,45.06 L36.60,44.69 L36.85,45.19 L37.10,45.47 L37.35,45.58 L37.60,45.67 L37.85,44.98 L38.10,44.86 L38.35,45.50 L38.60,44.99 L38.85,45.35 L39.10,45.09 L39.35,44.48 L39.60,45.05 L39.85,45.03 L40.10,44.96 L40.35,44.87 L40.60,44.55 L40.85,44.83 L41.10,44.98 L41.35,45.57 L41.60,45.15 L41.85,45.38 L42.10,45.85 L42.35,44.56 L42.60,45.61 L42.85,45.38 L43.10,45.04 L43.35,44.78 L43.60,45.71 L43.85,45.49 L44.10,45.13 L44.35,44.90 L44.60,45.83 L44.85,46.05 L45.10,45.08 L45.35,45.35 L45.60,45.61 L45.85,45.81 L46.10,45.44 L46.35,46.32 L46.60,45.55 L46.85,45.30 L47.10,45.07 L47.35,45.02 L47.60,45.77 L47.85,45.55 L48.10,45.15 L48.35,45.13 L48.60,45.99 L48.85,46.15 L49.10,45.92 L49.35,45.67 L49.60,45.44 L49.85,46.10 L50.10,46.26 L50.35,45.81 L50.60,45.68 L50.85,46.35 L51.10,45.48 L51.35,45.97 L51.60,46.64 L51.85,45.89 L52.10,45.56 L52.35,44.77 L52.60,45.26 L52.85,45.77 L53.10,46.51 L53.35,45.49 L53.60,46.71 L53.85,45.94 L54.10,45.76 L54.35,45.95 L54.60,45.36 L54.85,46.09 L55.10,46.49 L55.35,45.09 L55.60,45.33 L55.85,45.31 L56.10,45.90 L56.35,46.07 L56.60,46.66 L56.85,45.62 L57.10,46.35 L57.35,45.82 L57.60,46.10 L57.85,45.97 L58.10,46.19 L58.35,45.69 L58.60,46.39 L58.85,46.26 L59.10,45.33 L59.35,45.73 L59.60,45.99 L59.85,45.44 L60.10,45.38 L60.35,45.64 L60.60,46.10 L60.85,46.15 L61.10,45.66 L61.35,46.07 L61.60,45.32 L61.85,46.82 L62.10,46.07 L62.35,46.63 L62.60,45.96 L62.85,45.94 L63.10,46.29 L63.35,46.18 L63.60,45.43 L63.85,45.78 L64.10,45.99 L64.35,45.92 L64.60,45.91 L64.85,45.86 L65.10,45.94 L65.35,46.29 L65.60,46.07 L65.85,45.95 L66.10,45.82 L66.35,46.56 L66.60,46.14 L66.85,46.74 L67.10,46.04 L67.35,45.68 L67.60,45.96 L67.85,45.97 L68.10,45.98 L68.35,46.07 L68.60,46.13 L68.85,46.58 L69.10,45.77 L69.35,45.62 L69.60,45.73 L69.85,46.59 L70.10,46.13 L70.35,46.27 L70.60,46.73 L70.85,46.20 L71.10,45.62 L71.35,46.31 L71.60,46.73 L71.85,47.18 L72.10,46.90 L72.35,46.30 L72.60,46.24 L72.85,46.21 L73.10,46.09 L73.35,46.74 L73.60,46.13 L73.85,45.94 L74.10,45.56 L74.35,45.43 L74.60,46.00 L74.85,46.35 L75.10,45.78 L75.35,45.85 L75.60,45.56 L75.85,45.62 L76.10,45.81 L76.35,46.64 L76.60,47.21 L76.85,46.81 L77.10,46.33 L77.35,46.03 L77.60,46.59 L77.85,45.81 L78.10,45.65 L78.35,46.56 L78.60,45.78 L78.85,46.57 L79.10,46.30 L79.35,46.50 L79.60,45.62 L79.85,46.39 L80.10,46.49 L80.35,46.46 L80.60,45.69 L80.85,45.91 L81.10,45.63 L81.35,46.74 L81.60,46.25 L81.85,46.19 L82.10,46.59 L82.35,46.10 L82.60,46.24 L82.85,46.12 L83.10,46.38 L83.35,45.41 L83.60,46.59 L83.85,46.31 L84.10,45.91 L84.35,46.81 L84.60,47.19 L84.85,46.10 L85.10,46.28 L85.35,46.36 L85.60,46.49 L85.85,45.73 L86.10,46.18 L86.35,46.02 L86.60,46.35 L86.85,45.93 L87.10,46.04 L87.35,46.03 L87.60,46.06 L87.85,46.31 L88.10,46.30 L88.35,45.76 L88.60,46.01 L88.85,46.27 L89.10,46.69 L89.35,46.93 L89.60,46.34 L89.85,46.58 L90.10,47.01 L90.35,46.74 L90.60,46.30 L90.85,46.23 L91.10,46.09 L91.35,47.09 L91.60,46.68 L91.85,46.32 L92.10,46.40 L92.35,47.01 L92.60,46.95 L92.85,46.93 L93.10,46.85 L93.35,46.25 L93.60,46.20 L93.85,46.53 L94.10,46.30 L94.35,46.51 L94.60,46.32 L94.85,46.41 L95.10,46.81 L95.35,46.21 L95.60,46.28 L95.85,47.01 L96.10,46.03 L96.35,46.53 L96.60,46.47 L96.85,46.39 L97.10,47.09 L97.35,46.20 L97.60,45.64 L97.85,46.92 L98.10,47.25 L98.35,45.97 L98.60,46.54 L98.85,46.54 L99.10,46.62 L99.35,46.84 L99.60,46.67 L99.85,46.58 L100.10,45.78 L100.35,45.92 L100.60,46.74 L100.85,46.64 L101.10,46.73 L101.35,46.77 L101.60,45.83 L101.85,45.71 L102.10,46.12 L102.35,46.71 L102.60,46.53 L102.85,46.02 L103.10,46.31 L103.35,46.43 L103.60,46.33 L103.85,46.46 L104.10,46.92 L104.35,46.38 L104.60,46.20 L104.85,45.74 L105.10,46.18 L105.35,45.40 L105.60,45.08 L105.85,45.49 L106.10,46.16 L106.35,45.95 L106.60,46.69 L106.85,45.91 L107.10,45.86 L107.35,46.04 L107.60,45.88 L107.85,46.61 L108.10,46.48 L108.35,46.73 L108.60,47.08 L108.85,46.28 L109.10,46.80 L109.35,46.49 L109.60,46.96 L109.85,47.04 L110.10,46.59 L110.35,46.86 L110.60,46.61 L110.85,47.16 L111.10,46.41 L111.35,46.58 L111.60,46.01 L111.85,46.27 L112.10,46.81 L112.35,46.91 L112.60,47.00 L112.85,47.78 L113.10,47.03 L113.35,46.24 L113.60,46.65 L113.85,46.92 L114.10,46.33 L114.35,46.22 L114.60,47.15 L114.85,46.71 L115.10,45.93 L115.35,46.54 L115.60,46.83 L115.85,46.89 L116.10,46.87 L116.35,46.81 L116.60,46.48 L116.85,46.58 L117.10,46.84 L117.35,46.68 L117.60,47.09 L117.85,46.42 L118.10,46.74 L118.35,46.91 L118.60,46.89 L118.85,46.81 L119.10,46.57 L119.35,46.45 L119.60,46.15 L119.85,46.49 L120.10,46.97 L120.35,47.32 L120.60,46.33 L120.85,46.22 L121.10,47.50 L121.35,46.46 L121.60,47.31 L121.85,47.24 L122.10,47.16 L122.35,46.67 L122.60,46.82 L122.85,46.86 L123.10,46.48 L123.35,47.16 L123.60,46.01 L123.85,46.41 L124.10,46.32 L124.35,46.66 L124.60,46.97 L124.85,46.47 L125.10,46.81 L125.35,46.21 L125.60,47.23 L125.85,46.68 L126.10,47.05 L126.35,46.73 L126.60,46.65 L126.85,46.77 L127.10,46.66 L127.35,46.90 L127.60,47.13 L127.85,45.83 L128.10,45.57 L128.35,46.24 L128.60,45.18 L128.85,45.69 L129.10,44.19 M130.85,43.49 L131.10,44.91 L131.35,45.73 L131.60,45.24 L131.85,46.20 L132.10,46.84 L132.35,46.66 L132.60,46.80 L132.85,47.11 L133.10,47.11 L133.35,46.99 L133.60,46.87 L133.85,47.25 L134.10,46.60 L134.35,46.77 L134.60,47.15 L134.85,47.22 L135.10,47.32 L135.35,46.46 L135.60,46.51 L135.85,46.92 L136.10,46.48 L136.35,47.22 L136.60,47.22 L136.85,47.22 L137.10,46.72 L137.35,46.93 L137.60,46.75 L137.85,46.36 L138.10,46.66 L138.35,47.25 L138.60,46.95 L138.85,46.75 L139.10,46.98 L139.35,47.49 L139.60,46.94 L139.85,47.04 L140.10,47.11 L140.35,46.29 L140.60,46.62 L140.85,46.80 L141.10,47.16 L141.35,46.92 L141.60,46.87 L141.85,46.47 L142.10,46.52 L142.35,47.42 L142.60,47.17 L142.85,47.46 L143.10,46.72 L143.35,47.05 L143.60,47.29 L143.85,46.91 L144.10,46.91 L144.35,46.35 L144.60,46.09 L144.85,46.42 L145.10,46.24 L145.35,46.38 L145.60,46.91 L145.85,46.91 L146.10,47.37 L146.35,47.52 L146.60,47.37 L146.85,47.14 L147.10,46.94 L147.35,47.18 L147.60,46.49 L147.85,46.66 L148.10,47.32 L148.35,46.99 L148.60,47.33 L148.85,47.21 L149.10,47.14 L149.35,47.30 L149.60,47.00 L149.85,46.71 L150.10,46.86 L150.35,47.18 L150.60,46.68 L150.85,47.46 L151.10,47.05 L151.35,47.14 L151.60,47.33 L151.85,47.36 L152.10,46.65 L152.35,46.89 L152.60,46.57 L152.85,46.95 L153.10,47.05 L153.35,46.97 L153.60,46.80 L153.85,46.63 L154.10,46.58 L154.35,45.92 L154.60,46.52 L154.85,46.58 L155.10,46.62 L155.35,46.46 L155.60,45.80 L155.85,45.15 L156.10,43.47 M157.85,42.67 L158.10,44.64 L158.35,45.72 L158.60,46.12 L158.85,46.18 L159.10,46.13 L159.35,46.35 L159.60,47.05 L159.85,46.68 L160.10,46.86 L160.35,46.73 L160.60,47.31 L160.85,46.68 L161.10,46.48 L161.35,46.54 L161.60,46.83 L161.85,46.33 L162.10,46.02 L162.35,47.16 L162.60,47.48 L162.85,47.35 L163.10,46.55 L163.35,46.81 L163.60,46.72 L163.85,46.54 L164.10,45.74 L164.35,44.97 L164.60,44.16 L164.85,42.61 L165.10,41.26 L165.35,41.39 L165.60,42.26 L165.85,41.95 L166.10,41.78 M168.35,42.91 L168.60,44.76 L168.85,45.26 L169.10,45.87 L169.35,46.73 L169.60,45.98 L169.85,46.02 L170.10,47.09 L170.35,46.78 L170.60,47.05 L170.85,47.00 L171.10,46.99 L171.35,46.44 L171.60,46.66 L171.85,46.82 L172.10,46.81 L172.35,47.05 L172.60,46.95 L172.85,46.45 L173.10,47.31 L173.35,46.57 L173.60,47.25 L173.85,47.05 L174.10,47.34 L174.35,47.57 L174.60,46.89 L174.85,47.06 L175.10,47.05 L175.35,46.51 L175.60,46.52 L175.85,47.18 L176.10,47.34 L176.35,46.95 L176.60,46.33 L176.85,47.17 L177.10,47.59 L177.35,47.13 L177.60,47.03 L177.85,47.02 L178.10,47.01 L178.35,46.46 L178.60,46.80 L178.85,46.84 L179.10,46.79 L179.35,47.02 L179.60,47.56 L179.85,47.34 L180.10,47.21 L180.35,46.85 L180.60,47.29 L180.85,47.22 L181.10,47.09 L181.35,47.35 L181.60,47.24 L181.85,47.32 L182.10,46.62 L182.35,46.97 L182.60,47.52 L182.85,47.83 L183.10,47.35 L183.35,47.16 L183.60,47.16 L183.85,47.38 L184.10,47.85 L184.35,47.29 L184.60,46.84 L184.85,46.87 L185.10,47.15 L185.35,47.58 L185.60,47.02 L185.85,46.74 L186.10,47.28 L186.35,47.01 L186.60,46.92 L186.85,47.78 L187.10,47.74 L187.35,48.30 L187.60,48.08 L187.85,47.67 L188.10,47.26 L188.35,47.40 L188.60,47.04 L188.85,47.50 L189.10,47.56 L189.35,47.17 L189.60,47.11 L189.85,46.90 L190.10,47.26 L190.35,47.40 L190.60,48.06 L190.85,47.40 L191.10,48.09 L191.35,47.22 L191.60,47.17 L191.85,47.17 L192.10,47.35 L192.35,46.90 L192.60,47.75 L192.85,47.77 L193.10,47.27 L193.35,47.41 L193.60,47.88 L193.85,47.52 L194.10,47.69 L194.35,47.48 L194.60,47.50 L194.85,47.20 L195.10,47.44 L195.35,47.75 L195.60,47.56 L195.85,47.05 L196.10,47.79 L196.35,47.26 L196.60,46.91 L196.85,47.44 L197.10,47.64 L197.35,48.12 L197.60,47.82 L197.85,47.44 L198.10,47.31 L198.35,47.48 L198.60,47.50 L198.85,47.51 L199.10,47.52 L199.35,47.49 L199.60,47.65 L199.85,47.20 L200.10,47.22 L200.35,47.54 L200.60,47.80 L200.85,47.35 L201.10,47.34 L201.35,47.36 L201.60,47.72 L201.85,47.80 L202.10,47.63 L202.35,46.81 L202.60,47.22 L202.85,47.63 L203.10,47.50 L203.35,47.29 L203.60,47.86 L203.85,47.12 L204.10,47.73 L204.35,47.39 L204.60,47.94 L204.85,47.63 L205.10,47.75 L205.35,47.15 L205.60,47.17 L205.85,47.54 L206.10,47.99 L206.35,47.47 L206.60,47.58 L206.85,47.47 L207.10,47.31 L207.35,47.65 L207.60,47.96 L207.85,47.34 L208.10,47.63 L208.35,47.26 L208.60,47.15 L208.85,47.50 L209.10,47.65 L209.35,47.76 L209.60,47.35 L209.85,47.79 L210.10,47.96 L210.35,47.49 L210.60,47.43 L210.85,46.93 L211.10,47.35 L211.35,47.54 L211.60,47.49 L211.85,47.20 L212.10,47.62 L212.35,47.49 L212.60,47.09 L212.85,47.07 L213.10,47.22 L213.35,47.28 L213.60,47.67 L213.85,47.58 L214.10,47.68 L214.35,47.16 L214.60,47.69 L214.85,46.98 L215.10,47.42 L215.35,47.45 L215.60,47.63 L215.85,47.26 L216.10,47.23 L216.35,47.59 L216.60,47.41 L216.85,47.64 L217.10,47.29 L217.35,47.50 L217.60,47.24 L217.85,47.37 L218.10,48.47 L218.35,47.78 L218.60,47.51 L218.85,47.68 L219.10,47.41 L219.35,47.68 L219.60,47.71 L219.85,47.19 L220.10,47.38 L220.35,47.38 L220.60,47.14 L220.85,47.11 L221.10,47.09 L221.35,47.70 L221.60,47.13 L221.85,48.00 L222.10,48.20 L222.35,47.82 L222.60,47.97 L222.85,47.34 L223.10,47.03 L223.35,47.53 L223.60,47.72 L223.85,46.94 L224.10,47.34 L224.35,47.31 L224.60,48.14 L224.85,47.33 L225.10,47.72 L225.35,47.85 L225.60,48.28 L225.85,47.83 L226.10,47.57 L226.35,48.16 L226.60,47.65 L226.85,47.30 L227.10,46.89 L227.35,48.08 L227.60,47.84 L227.85,47.33 L228.10,47.72 L228.35,47.82 L228.60,47.65 L228.85,48.39 L229.10,47.64 L229.35,47.44 L229.60,47.26 L229.85,47.62 L230.10,47.70 L230.35,47.15 L230.60,47.23 L230.85,47.08 L231.10,47.97 L231.35,47.93 L231.60,47.27 L231.85,47.23 L232.10,47.75 L232.35,47.45 L232.60,47.67 L232.85,48.20 L233.10,47.50 L233.35,47.23 L233.60,46.71 L233.85,46.53 L234.10,45.73 L234.35,45.58 L234.60,44.99 L234.85,45.79 L235.10,46.52 L235.35,46.99 L235.60,47.74 L235.85,46.96 L236.10,47.31 L236.35,47.03 L236.60,47.34 L236.85,47.12 L237.10,47.27 L237.35,47.13 L237.60,47.23 L237.85,48.03 L238.10,47.55 L238.35,47.46 L238.60,47.89 L238.85,47.84 L239.10,47.67 L239.35,47.80 L239.60,48.13 L239.85,47.91 L240.10,47.59 L240.35,47.71 L240.60,47.57 L240.85,47.87 L241.10,47.48 L241.35,47.54 L241.60,47.94 L241.85,47.25 L242.10,47.41 L242.35,47.33 L242.60,48.08 L242.85,47.62 L243.10,47.31 L243.35,47.18 L243.60,46.94 L243.85,47.09 L244.10,46.83 L244.35,46.82 L244.60,45.88 L244.85,44.42 M246.10,44.19 L246.35,45.74 L246.60,46.55 L246.85,47.16 L247.10,47.70 L247.35,47.61 L247.60,47.84 L247.85,47.46 L248.10,47.27 L248.35,47.55 L248.60,47.94 L248.85,47.43 L249.10,47.43 L249.35,47.98 L249.60,48.08 L249.85,47.75 L250.10,47.65 L250.35,48.11 L250.60,48.33 L250.85,48.01 L251.10,47.48 L251.35,47.32 L251.60,47.50 L251.85,47.54 L252.10,47.50 L252.35,47.69 L252.60,47.36 L252.85,47.47 L253.10,47.51 L253.35,47.67 L253.60,47.36 L253.85,47.06 L254.10,47.36 L254.35,47.93 L254.60,47.37 L254.85,47.65 L255.10,48.43 L255.35,48.38 L255.60,48.51 L255.85,47.36 L256.10,47.97 L256.35,47.98 L256.60,47.80 L256.85,47.38 L257.10,47.78 L257.35,47.38 L257.60,48.12 L257.85,47.23 L258.10,47.36 L258.35,47.53 L258.60,47.66 L258.85,47.81 L259.10,47.03 L259.35,47.33 L259.60,47.55 L259.85,46.97 L260.10,46.94 L260.35,46.41 L260.60,46.21 L260.85,45.08 L261.10,43.60 L261.35,42.48 L261.60,41.94 L261.85,43.03 L262.10,43.99 L262.35,44.81 L262.60,45.77 L262.85,46.75 L263.10,47.13 L263.35,47.26 L263.60,47.28 L263.85,47.19 L264.10,48.06 L264.35,47.89 L264.60,47.29 L264.85,47.13 L265.10,47.53 L265.35,47.61 L265.60,47.61 L265.85,47.80 L266.10,47.79 L266.35,47.75 L266.60,47.19 L266.85,47.01 L267.10,47.66 L267.35,47.90 L267.60,47.54 L267.85,47.74 L268.10,47.25 L268.35,47.82 L268.60,47.65 L268.85,47.29 L269.10,47.17 L269.35,47.98 L269.60,47.93 L269.85,47.54 L270.10,47.96 L270.35,47.45 L270.60,47.79 L270.85,47.16 L271.10,47.36 L271.35,47.45 L271.60,47.82 L271.85,47.68 L272.10,47.61 L272.35,47.78 L272.60,48.16 L272.85,48.02 L273.10,48.30 L273.35,48.52 L273.60,47.98 L273.85,47.65 L274.10,47.59 L274.35,47.77 L274.60,47.58 L274.85,47.63 L275.10,47.47 L275.35,47.75 L275.60,47.83 L275.85,47.86 L276.10,48.09 L276.35,47.99 L276.60,47.61 L276.85,47.62 L277.10,47.97 L277.35,48.39 L277.60,48.23 L277.85,47.75 L278.10,47.67 L278.35,48.37 L278.60,48.73 L278.85,47.88 L279.10,47.25 L279.35,47.32 L279.60,47.92 L279.85,47.94 L280.10,47.58 L280.35,47.75 L280.60,47.61 L280.85,47.79 L281.10,48.00 L281.35,48.49 L281.60,48.31 L281.85,48.11 L282.10,48.49 L282.35,48.02 L282.60,47.85 L282.85,48.25 L283.10,48.10 L283.35,48.18 L283.60,47.70 L283.85,47.66 L284.10,47.75 L284.35,47.49 L284.60,47.40 L284.85,48.01 L285.10,47.44 L285.35,47.93 L285.60,48.09 L285.85,48.00 L286.10,48.07 L286.35,47.32 L286.60,47.63 L286.85,47.52 L287.10,47.73 L287.35,48.03 L287.60,47.76 L287.85,47.74 L288.10,48.00 L288.35,48.11 L288.60,47.76 L288.85,47.47 L289.10,48.07 L289.35,48.78 L289.60,48.43 L289.85,48.15 L290.10,47.40 L290.35,47.09 L290.60,47.90 L290.85,48.04 L291.10,47.87 L291.35,47.60 L291.60,48.31 L291.85,48.10 L292.10,47.43 L292.35,47.61 L292.60,47.51 L292.85,47.43 L293.10,47.38 L293.35,48.07 L293.60,48.03 L293.85,47.62 L294.10,47.96 L294.35,47.42 L294.60,47.81 L294.85,47.85 L295.10,48.09 L295.35,47.94 L295.60,47.50 L295.85,47.90 L296.10,48.05 L296.35,47.91 L296.60,47.86 L296.85,47.51 L297.10,47.70 L297.35,47.83 L297.60,47.37 L297.85,47.86 L298.10,48.36 L298.35,47.79 L298.60,47.72 L298.85,47.66 L299.10,47.49 L299.35,48.22 L299.60,47.96 L299.85,47.02 L300.10,47.52 L300.35,47.75 L300.60,46.75 L300.85,46.91 L301.10,46.27 L301.35,45.17 L301.60,44.43 L301.85,45.47 L302.10,45.86 L302.35,45.73 L302.60,46.62 L302.85,47.35 L303.10,47.96 L303.35,47.20 L303.60,47.28 L303.85,47.40 L304.10,47.99 L304.35,47.37 L304.60,47.69 L304.85,47.85 L305.10,48.36 L305.35,47.87 L305.60,47.41 L305.85,47.86 L306.10,47.94 L306.35,47.99 L306.60,47.82 L306.85,48.14 L307.10,48.05 L307.35,47.74 L307.60,47.84 L307.85,48.00 L308.10,47.23 L308.35,47.55 L308.60,47.46 L308.85,48.08 L309.10,47.96 L309.35,47.59 L309.60,47.75 L309.85,47.65 L310.10,47.58 L310.35,48.12 L310.60,47.14 L310.85,47.77 L311.10,47.72 L311.35,48.27 L311.60,48.30 L311.85,47.82 L312.10,47.87 L312.35,47.51 L312.60,47.93 L312.85,47.99 L313.10,47.52 L313.35,48.01 L313.60,48.20 L313.85,48.13 L314.10,47.93 L314.35,47.86 L314.60,48.05 L314.85,47.54 L315.10,48.49 L315.35,48.84 L315.60,48.02 L315.85,47.53 L316.10,47.90 L316.35,47.79 L316.60,47.76 L316.85,47.90 L317.10,47.67 L317.35,47.79 L317.60,48.09 L317.85,47.88 L318.10,47.35 L318.35,47.13 L318.60,47.54 L318.85,47.26 L319.10,46.38 L319.35,46.00 L319.60,46.16 L319.85,46.39 L320.10,46.77 L320.35,47.38 L320.60,47.03 L320.85,47.49 L321.10,48.00 L321.35,48.00 L321.60,47.44 L321.85,47.45 L322.10,48.02 L322.35,48.15 L322.60,48.27 L322.85,48.01 L323.10,47.99 L323.35,48.05 L323.60,48.05 L323.85,47.95 L324.10,48.43 L324.35,48.25 L324.60,47.92 L324.85,47.59 L325.10,47.81 L325.35,47.90 L325.60,47.71 L325.85,48.13 L326.10,48.05 L326.35,47.52 L326.60,47.67 L326.85,47.70 L327.10,48.00 L327.35,48.07 L327.60,47.69 L327.85,47.88 L328.10,47.64 L328.35,47.80 L328.60,47.43 L328.85,47.67 L329.10,47.75 L329.35,47.68" fill="none" stroke="#800080" stroke-width="1.05" stroke-linejoin="round"/><path d="M128.85,45.69 L129.10,44.19 L129.35,40.73 L129.60,34.31 L129.85,26.64 L130.00,24.94 L130.10,25.66 L130.35,32.89 L130.60,40.31 L130.85,43.49 L131.10,44.91 M155.85,45.15 L156.10,43.47 L156.35,39.68 L156.60,32.30 L156.85,24.70 L157.00,22.56 L157.10,22.69 L157.35,30.17 L157.60,37.85 L157.85,42.67 L158.10,44.64 M165.85,41.95 L166.10,41.78 L166.35,39.75 L166.60,36.96 L166.85,30.81 L167.10,23.80 L167.30,21.71 L167.35,21.44 L167.60,26.76 L167.85,33.52 L168.10,39.54 L168.35,42.91 L168.60,44.76 M244.60,45.88 L244.85,44.42 L245.10,42.37 L245.35,39.54 L245.50,39.63 L245.60,39.66 L245.85,41.59 L246.10,44.19 L246.35,45.74" fill="none" stroke="#800080" stroke-width="0.7" stroke-linejoin="round"/><rect x="7.9" y="4.3" width="322" height="233.8" fill="none" stroke="#262626" stroke-width="1.4"/><path d="M7.9,238.1 V234.1 M30.9,238.1 V236.1 M53.9,238.1 V234.1 M76.9,238.1 V236.1 M99.9,238.1 V234.1 M122.9,238.1 V236.1 M145.9,238.1 V234.1 M168.9,238.1 V236.1 M191.9,238.1 V234.1 M214.9,238.1 V236.1 M237.9,238.1 V234.1 M260.9,238.1 V236.1 M283.9,238.1 V234.1 M306.9,238.1 V236.1 M329.9,238.1 V234.1" stroke="#262626" stroke-width="1.2"/><text x="7.9" y="251.2" font-family="Liberation Sans, Arial, sans-serif" font-size="9.4" text-anchor="middle" fill="#111" stroke="#111" stroke-width="0.25">10</text><text x="53.9" y="251.2" font-family="Liberation Sans, Arial, sans-serif" font-size="9.4" text-anchor="middle" fill="#111" stroke="#111" stroke-width="0.25">20</text><text x="99.9" y="251.2" font-family="Liberation Sans, Arial, sans-serif" font-size="9.4" text-anchor="middle" fill="#111" stroke="#111" stroke-width="0.25">30</text><text x="145.9" y="251.2" font-family="Liberation Sans, Arial, sans-serif" font-size="9.4" text-anchor="middle" fill="#111" stroke="#111" stroke-width="0.25">40</text><text x="191.9" y="251.2" font-family="Liberation Sans, Arial, sans-serif" font-size="9.4" text-anchor="middle" fill="#111" stroke="#111" stroke-width="0.25">50</text><text x="237.9" y="251.2" font-family="Liberation Sans, Arial, sans-serif" font-size="9.4" text-anchor="middle" fill="#111" stroke="#111" stroke-width="0.25">60</text><text x="283.9" y="251.2" font-family="Liberation Sans, Arial, sans-serif" font-size="9.4" text-anchor="middle" fill="#111" stroke="#111" stroke-width="0.25">70</text><text x="329.9" y="251.2" font-family="Liberation Sans, Arial, sans-serif" font-size="9.4" text-anchor="middle" fill="#111" stroke="#111" stroke-width="0.25">80</text><text x="145.0" y="259.7" font-family="Liberation Serif, serif" font-size="10.8" fill="#111" stroke="#111" stroke-width="0.2"><tspan font-size="12.2">2θ</tspan>(degree)</text><g font-family="Liberation Sans, Arial, sans-serif" font-size="9.0" fill="#111" stroke="#111" stroke-width="0.25"><text transform="translate(48.7,41.3) scale(0.86,1)" text-anchor="middle">8</text><text transform="translate(105.6,41.8) scale(0.86,1)" text-anchor="middle">8</text><text transform="translate(130.5,16.1) scale(0.86,1)" text-anchor="middle">8</text><text transform="translate(130.5,24.1) scale(0.86,1)" text-anchor="middle">7</text><text transform="translate(156.9,21.1) scale(0.86,1)" text-anchor="middle">7</text><text transform="translate(167.4,13.0) scale(0.86,1)" text-anchor="middle">8</text><text transform="translate(167.4,21.0) scale(0.86,1)" text-anchor="middle">5</text><text transform="translate(234.6,42.8) scale(0.86,1)" text-anchor="middle">8</text><text transform="translate(245.6,36.8) scale(0.86,1)" text-anchor="middle">7</text><text transform="translate(261.6,39.8) scale(0.86,1)" text-anchor="middle">5</text><text transform="translate(302.0,41.2) scale(0.86,1)" text-anchor="middle">7</text><text transform="translate(319.6,43.2) scale(0.86,1)" text-anchor="middle">7</text><text transform="translate(49.0,64.8) scale(0.86,1)" text-anchor="middle">8</text><text transform="translate(105.6,65.3) scale(0.86,1)" text-anchor="middle">8</text><text transform="translate(234.6,65.8) scale(0.86,1)" text-anchor="middle">8</text><text transform="translate(246.0,58.2) scale(0.86,1)" text-anchor="middle">7</text><text transform="translate(261.6,63.8) scale(0.86,1)" text-anchor="middle">5</text><text transform="translate(302.4,65.4) scale(0.86,1)" text-anchor="middle">7</text><text transform="translate(320.0,65.4) scale(0.86,1)" text-anchor="middle">7</text><text transform="translate(45.6,76.4) scale(0.86,1)" text-anchor="middle">6</text><text transform="translate(78.6,77.6) scale(0.86,1)" text-anchor="middle">6</text><text transform="translate(105.0,83.8) scale(0.86,1)" text-anchor="middle">8</text><text transform="translate(111.6,83.8) scale(0.86,1)" text-anchor="middle">4</text><text transform="translate(130.6,76.8) scale(0.86,1)" text-anchor="middle">7</text><text transform="translate(158.4,78.8) scale(0.86,1)" text-anchor="middle">7</text><text transform="translate(234.6,84.8) scale(0.86,1)" text-anchor="middle">8</text><text transform="translate(247.2,82.8) scale(0.86,1)" text-anchor="middle">7</text><text transform="translate(261.6,80.8) scale(0.86,1)" text-anchor="middle">5</text><text transform="translate(302.6,84.8) scale(0.86,1)" text-anchor="middle">7</text><text transform="translate(45.0,93.8) scale(0.86,1)" text-anchor="middle">6</text><text transform="translate(78.6,95.8) scale(0.86,1)" text-anchor="middle">6</text><text transform="translate(105.0,101.4) scale(0.86,1)" text-anchor="middle">8</text><text transform="translate(111.6,99.4) scale(0.86,1)" text-anchor="middle">4</text><text transform="translate(130.4,101.4) scale(0.86,1)" text-anchor="middle">8</text><text transform="translate(235.0,101.3) scale(0.86,1)" text-anchor="middle">8</text><text transform="translate(261.4,97.3) scale(0.86,1)" text-anchor="middle">5</text><text transform="translate(70.0,117.4) scale(0.86,1)" text-anchor="middle">4</text><text transform="translate(111.6,114.8) scale(0.86,1)" text-anchor="middle">4</text><text transform="translate(124.0,121.4) scale(0.86,1)" text-anchor="middle">4</text><text transform="translate(130.0,121.8) scale(0.86,1)" text-anchor="middle">8</text><text transform="translate(147.4,120.8) scale(0.86,1)" text-anchor="middle">4</text><text transform="translate(186.4,120.8) scale(0.86,1)" text-anchor="middle">4</text><text transform="translate(207.0,118.0) scale(0.86,1)" text-anchor="middle">2</text><text transform="translate(261.4,116.0) scale(0.86,1)" text-anchor="middle">5</text><text transform="translate(71.4,150.2) scale(0.86,1)" text-anchor="middle">4</text><text transform="translate(98.6,148.8) scale(0.86,1)" text-anchor="middle">2</text><text transform="translate(111.6,147.8) scale(0.86,1)" text-anchor="middle">4</text><text transform="translate(124.0,133.4) scale(0.86,1)" text-anchor="middle">4</text><text transform="translate(124.0,141.4) scale(0.86,1)" text-anchor="middle">2</text><text transform="translate(147.4,151.4) scale(0.86,1)" text-anchor="middle">4</text><text transform="translate(186.0,152.8) scale(0.86,1)" text-anchor="middle">4</text><text transform="translate(205.6,150.8) scale(0.86,1)" text-anchor="middle">2</text><text transform="translate(221.0,152.2) scale(0.86,1)" text-anchor="middle">2</text><text transform="translate(246.0,152.2) scale(0.86,1)" text-anchor="middle">2</text><text transform="translate(261.6,151.8) scale(0.86,1)" text-anchor="middle">5</text><text transform="translate(98.0,173.8) scale(0.86,1)" text-anchor="middle">2</text><text transform="translate(98.0,181.8) scale(0.86,1)" text-anchor="middle">1</text><text transform="translate(111.4,190.8) scale(0.86,1)" text-anchor="middle">4</text><text transform="translate(123.6,165.8) scale(0.86,1)" text-anchor="middle">2</text><text transform="translate(123.6,173.4) scale(0.86,1)" text-anchor="middle">1</text><text transform="translate(159.0,181.4) scale(0.86,1)" text-anchor="middle">2</text><text transform="translate(159.0,188.8) scale(0.86,1)" text-anchor="middle">1</text><text transform="translate(206.0,185.8) scale(0.86,1)" text-anchor="middle">2</text><text transform="translate(221.0,185.8) scale(0.86,1)" text-anchor="middle">2</text><text transform="translate(245.6,184.8) scale(0.86,1)" text-anchor="middle">2</text><text transform="translate(261.0,186.8) scale(0.86,1)" text-anchor="middle">5</text><text transform="translate(45.4,208.2) scale(0.86,1)" text-anchor="middle">2</text><text transform="translate(45.4,214.8) scale(0.86,1)" text-anchor="middle">1</text><text transform="translate(100.0,204.1) scale(0.86,1)" text-anchor="middle">2</text><text transform="translate(100.0,212.1) scale(0.86,1)" text-anchor="middle">1</text><text transform="translate(111.6,219.2) scale(0.86,1)" text-anchor="middle">4</text><text transform="translate(154.0,214.2) scale(0.86,1)" text-anchor="middle">3</text><text transform="translate(159.4,206.8) scale(0.86,1)" text-anchor="middle">2</text><text transform="translate(159.4,214.2) scale(0.86,1)" text-anchor="middle">1</text><text transform="translate(206.0,212.8) scale(0.86,1)" text-anchor="middle">2</text><text transform="translate(206.0,219.4) scale(0.86,1)" text-anchor="middle">1</text><text transform="translate(223.4,208.2) scale(0.86,1)" text-anchor="middle">2</text><text transform="translate(223.4,215.8) scale(0.86,1)" text-anchor="middle">1</text><text transform="translate(248.6,207.4) scale(0.86,1)" text-anchor="middle">2</text><text transform="translate(248.6,214.8) scale(0.86,1)" text-anchor="middle">1</text><text x="7.3" y="39.0" textLength="29.4" lengthAdjust="spacingAndGlyphs" stroke-width="0.12">1350°C</text><text x="7.3" y="63.8" textLength="29.4" lengthAdjust="spacingAndGlyphs" stroke-width="0.12">1300°C</text><text x="7.3" y="80.4" textLength="29.4" lengthAdjust="spacingAndGlyphs" stroke-width="0.12">1200°C</text><text x="7.3" y="98.0" textLength="29.4" lengthAdjust="spacingAndGlyphs" stroke-width="0.12">1100°C</text><text x="7.3" y="118.8" textLength="29.4" lengthAdjust="spacingAndGlyphs" stroke-width="0.12">1000°C</text><text x="7.3" y="150.1" textLength="25.0" lengthAdjust="spacingAndGlyphs" stroke-width="0.12">950°C</text><text x="7.3" y="185.6" textLength="25.0" lengthAdjust="spacingAndGlyphs" stroke-width="0.12">900°C</text><text x="7.3" y="216.5" textLength="25.0" lengthAdjust="spacingAndGlyphs" stroke-width="0.12">800°C</text></g></svg>
<span class="lg" style="left:1.08px;top:270.0px;transform:scaleX(1.120)">1—magnetite </span><span class="lg" style="left:88.77px;top:270.0px;transform:scaleX(1.130)">(Fe<sub>3</sub>O<sub>4</sub>); </span><span class="lg" style="left:145.20px;top:270.0px;transform:scaleX(1.118)">2—ulvospinel </span><span class="lg" style="left:235.67px;top:270.0px;transform:scaleX(1.131)">(Fe<sub>2</sub>TiO<sub>4</sub>; </span><span class="lg" style="left:297.78px;top:270.0px;transform:scaleX(1.122)">3—wustite </span><span class="lg" style="left:371.30px;top:270.0px;transform:scaleX(1.100)">(FeO); </span><span class="lg" style="left:414.50px;top:270.0px;transform:scaleX(1.095)">4—ilmenite </span><span class="lg" style="left:490.02px;top:270.0px;transform:scaleX(1.084)">(FeTiO<sub>3</sub>);</span><span class="lg" style="left:1.19px;top:286.0px;transform:scaleX(1.010)">5—iron</span><span class="lg" style="left:43.24px;top:286.0px;transform:scaleX(1.164)">(Fe); </span><span class="lg" style="left:77.14px;top:286.0px;transform:scaleX(1.065)">6—M<sub>3</sub>O<sub>5</sub></span><span class="lg" style="left:132.10px;top:286.0px;transform:scaleX(1.100)">(FeTi<sub>2</sub>O<sub>5</sub>; </span><span class="lg" style="left:192.19px;top:286.0px;transform:scaleX(1.113)">MgTi<sub>2</sub>O<sub>5</sub>; </span><span class="lg" style="left:255.50px;top:286.0px;transform:scaleX(1.082)">Ti<sub>3</sub>O<sub>5</sub>); </span><span class="lg" style="left:299.63px;top:286.0px;transform:scaleX(1.066)">7—osbornite </span><span class="lg" style="left:380.93px;top:286.0px;transform:scaleX(1.067)">(TiN); </span><span class="lg" style="left:419.40px;top:286.0px;transform:scaleX(1.040)">8—spinel </span><span class="lg" style="left:478.91px;top:286.0px;transform:scaleX(1.092)">(MgAl<sub>2</sub>O<sub>4</sub>)</span>
</div></body></html>
